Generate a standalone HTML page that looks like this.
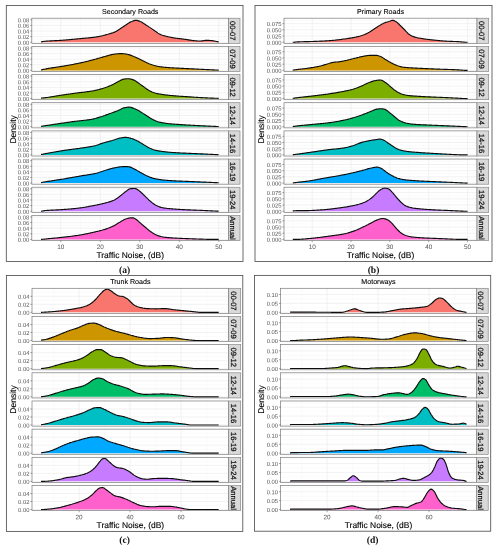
<!DOCTYPE html>
<html lang="en"><head><meta charset="utf-8"><title>Traffic noise density by road type</title>
<style>html,body{margin:0;padding:0;background:#fff}svg{display:block;text-rendering:geometricPrecision}</style></head>
<body>
<svg width="499" height="550" viewBox="0 0 499 550">
<rect width="499" height="550" fill="#fff"/>
<g id="panel-a">
<rect x="6.3" y="5.5" width="236.7" height="256" fill="#fff" stroke="#505050" stroke-width="0.85"/>
<text x="130.2" y="13.8" font-size="7.1" text-anchor="middle" font-family="Liberation Sans, Arial, sans-serif" fill="#000" stroke="#000" stroke-width="0.1">Secondary Roads</text>
<g class="facet">
<rect x="31.8" y="18.2" width="196.8" height="25.15" fill="#fff"/>
<path d="M41.05 18.2V43.35M80.55 18.2V43.35M120.05 18.2V43.35M159.55 18.2V43.35M199.05 18.2V43.35M31.8 39.41H228.6M31.8 33.81H228.6M31.8 28.21H228.6M31.8 22.61H228.6" stroke="#f0f0f0" stroke-width="0.3" fill="none"/>
<path d="M60.8 18.2V43.35M100.3 18.2V43.35M139.8 18.2V43.35M179.3 18.2V43.35M218.8 18.2V43.35M31.8 42.21H228.6M31.8 36.61H228.6M31.8 31.01H228.6M31.8 25.41H228.6M31.8 19.81H228.6" stroke="#e8e8e8" stroke-width="0.55" fill="none"/>
<path d="M41 41.9L41.8 41.77L42.5 41.64L43.3 41.51L44 41.4L44.8 41.3L45.5 41.23L46.3 41.16L47 41.1L47.8 41.05L48.5 41L49.3 40.95L50 40.91L50.8 40.87L51.5 40.83L52.3 40.79L53 40.76L53.8 40.72L54.5 40.69L55.3 40.66L56 40.62L56.8 40.59L57.5 40.55L58.3 40.51L59 40.47L59.8 40.42L60.5 40.38L61.3 40.32L62 40.27L62.8 40.22L63.5 40.16L64.3 40.1L65 40.04L65.8 39.98L66.5 39.91L67.3 39.85L68 39.78L68.8 39.72L69.5 39.65L70.3 39.58L71 39.51L71.8 39.44L72.5 39.37L73.3 39.3L74 39.23L74.8 39.16L75.5 39.09L76.3 39.01L77 38.94L77.8 38.87L78.5 38.8L79.3 38.73L80 38.65L80.8 38.58L81.5 38.51L82.3 38.44L83 38.38L83.8 38.31L84.5 38.24L85.3 38.17L86 38.1L86.8 38.04L87.5 37.96L88.3 37.89L89 37.82L89.8 37.74L90.5 37.66L91.3 37.58L92 37.5L92.8 37.41L93.5 37.32L94.3 37.22L95 37.12L95.8 37.01L96.5 36.89L97.3 36.77L98 36.64L98.8 36.51L99.5 36.37L100.3 36.22L101 36.06L101.8 35.89L102.5 35.71L103.3 35.51L104 35.3L104.8 35.09L105.5 34.88L106.3 34.66L107 34.44L107.8 34.23L108.5 34.02L109.3 33.81L110 33.6L110.8 33.39L111.5 33.16L112.3 32.93L113 32.68L113.8 32.41L114.5 32.12L115.3 31.8L116 31.42L116.8 31L117.5 30.54L118.3 30.06L119 29.56L119.8 29.07L120.5 28.58L121.3 28.09L122 27.58L122.8 27.05L123.5 26.53L124.3 26.01L125 25.5L125.8 25L126.5 24.51L127.3 24.01L128 23.51L128.8 23.02L129.5 22.55L130.3 22.13L131 21.77L131.8 21.47L132.5 21.17L133.3 20.89L134 20.63L134.8 20.43L135.5 20.32L136.3 20.3L137 20.4L137.8 20.59L138.5 20.84L139.3 21.14L140 21.45L140.8 21.75L141.5 22.1L142.3 22.51L143 22.95L143.8 23.42L144.5 23.91L145.3 24.42L146 24.92L146.8 25.41L147.5 25.89L148.3 26.37L149 26.87L149.8 27.37L150.5 27.87L151.3 28.38L152 28.89L152.8 29.4L153.5 29.9L154.3 30.41L155 30.96L155.8 31.52L156.5 32.08L157.3 32.63L158 33.15L158.8 33.63L159.5 34.05L160.3 34.4L161 34.7L161.8 34.97L162.5 35.22L163.3 35.45L164 35.66L164.8 35.86L165.5 36.05L166.3 36.24L167 36.42L167.8 36.6L168.5 36.77L169.3 36.94L170 37.1L170.8 37.26L171.5 37.41L172.3 37.56L173 37.7L173.8 37.83L174.5 37.96L175.3 38.08L176 38.2L176.8 38.3L177.5 38.4L178.3 38.5L179 38.59L179.8 38.68L180.5 38.77L181.3 38.85L182 38.94L182.8 39.03L183.5 39.12L184.3 39.22L185 39.32L185.8 39.43L186.5 39.55L187.3 39.68L188 39.81L188.8 39.94L189.5 40.06L190.3 40.18L191 40.29L191.8 40.4L192.5 40.49L193.3 40.57L194 40.64L194.8 40.71L195.5 40.77L196.3 40.84L197 40.9L197.8 40.95L198.5 40.98L199.3 41.01L200 41.01L200.8 40.99L201.5 40.92L202.3 40.83L203 40.72L203.8 40.61L204.5 40.5L205.3 40.42L206 40.37L206.8 40.35L207.5 40.37L208.3 40.4L209 40.44L209.8 40.49L210.5 40.54L211.3 40.6L212 40.68L212.8 40.79L213.5 40.91L214.3 41.04L215 41.17L215.8 41.3L216.5 41.44L217.3 41.59L218 41.75L218.7 41.9L218.69 42.21L41.02 42.21Z" fill="#F8766D"/>
<path d="M41 41.9L41.8 41.77L42.5 41.64L43.3 41.51L44 41.4L44.8 41.3L45.5 41.23L46.3 41.16L47 41.1L47.8 41.05L48.5 41L49.3 40.95L50 40.91L50.8 40.87L51.5 40.83L52.3 40.79L53 40.76L53.8 40.72L54.5 40.69L55.3 40.66L56 40.62L56.8 40.59L57.5 40.55L58.3 40.51L59 40.47L59.8 40.42L60.5 40.38L61.3 40.32L62 40.27L62.8 40.22L63.5 40.16L64.3 40.1L65 40.04L65.8 39.98L66.5 39.91L67.3 39.85L68 39.78L68.8 39.72L69.5 39.65L70.3 39.58L71 39.51L71.8 39.44L72.5 39.37L73.3 39.3L74 39.23L74.8 39.16L75.5 39.09L76.3 39.01L77 38.94L77.8 38.87L78.5 38.8L79.3 38.73L80 38.65L80.8 38.58L81.5 38.51L82.3 38.44L83 38.38L83.8 38.31L84.5 38.24L85.3 38.17L86 38.1L86.8 38.04L87.5 37.96L88.3 37.89L89 37.82L89.8 37.74L90.5 37.66L91.3 37.58L92 37.5L92.8 37.41L93.5 37.32L94.3 37.22L95 37.12L95.8 37.01L96.5 36.89L97.3 36.77L98 36.64L98.8 36.51L99.5 36.37L100.3 36.22L101 36.06L101.8 35.89L102.5 35.71L103.3 35.51L104 35.3L104.8 35.09L105.5 34.88L106.3 34.66L107 34.44L107.8 34.23L108.5 34.02L109.3 33.81L110 33.6L110.8 33.39L111.5 33.16L112.3 32.93L113 32.68L113.8 32.41L114.5 32.12L115.3 31.8L116 31.42L116.8 31L117.5 30.54L118.3 30.06L119 29.56L119.8 29.07L120.5 28.58L121.3 28.09L122 27.58L122.8 27.05L123.5 26.53L124.3 26.01L125 25.5L125.8 25L126.5 24.51L127.3 24.01L128 23.51L128.8 23.02L129.5 22.55L130.3 22.13L131 21.77L131.8 21.47L132.5 21.17L133.3 20.89L134 20.63L134.8 20.43L135.5 20.32L136.3 20.3L137 20.4L137.8 20.59L138.5 20.84L139.3 21.14L140 21.45L140.8 21.75L141.5 22.1L142.3 22.51L143 22.95L143.8 23.42L144.5 23.91L145.3 24.42L146 24.92L146.8 25.41L147.5 25.89L148.3 26.37L149 26.87L149.8 27.37L150.5 27.87L151.3 28.38L152 28.89L152.8 29.4L153.5 29.9L154.3 30.41L155 30.96L155.8 31.52L156.5 32.08L157.3 32.63L158 33.15L158.8 33.63L159.5 34.05L160.3 34.4L161 34.7L161.8 34.97L162.5 35.22L163.3 35.45L164 35.66L164.8 35.86L165.5 36.05L166.3 36.24L167 36.42L167.8 36.6L168.5 36.77L169.3 36.94L170 37.1L170.8 37.26L171.5 37.41L172.3 37.56L173 37.7L173.8 37.83L174.5 37.96L175.3 38.08L176 38.2L176.8 38.3L177.5 38.4L178.3 38.5L179 38.59L179.8 38.68L180.5 38.77L181.3 38.85L182 38.94L182.8 39.03L183.5 39.12L184.3 39.22L185 39.32L185.8 39.43L186.5 39.55L187.3 39.68L188 39.81L188.8 39.94L189.5 40.06L190.3 40.18L191 40.29L191.8 40.4L192.5 40.49L193.3 40.57L194 40.64L194.8 40.71L195.5 40.77L196.3 40.84L197 40.9L197.8 40.95L198.5 40.98L199.3 41.01L200 41.01L200.8 40.99L201.5 40.92L202.3 40.83L203 40.72L203.8 40.61L204.5 40.5L205.3 40.42L206 40.37L206.8 40.35L207.5 40.37L208.3 40.4L209 40.44L209.8 40.49L210.5 40.54L211.3 40.6L212 40.68L212.8 40.79L213.5 40.91L214.3 41.04L215 41.17L215.8 41.3L216.5 41.44L217.3 41.59L218 41.75L218.7 41.9" fill="none" stroke="#0d0d0d" stroke-width="1.15" stroke-linejoin="round"/>
<rect x="31.8" y="18.2" width="196.8" height="25.15" fill="none" stroke="#7a7a7a" stroke-width="0.7"/>
<rect x="228.6" y="18.2" width="11.4" height="25.15" fill="#d9d9d9" stroke="#808080" stroke-width="0.65"/>
<text transform="translate(230.4 30.77) rotate(90)" font-size="7.6" text-anchor="middle" font-family="Liberation Sans, Arial, sans-serif" fill="#0a0a0a" stroke="#0a0a0a" stroke-width="0.2">00-07</text>
<text transform="translate(29.2 44.66) rotate(0.03)" font-size="5.85" text-anchor="end" font-family="Liberation Sans, Arial, sans-serif" fill="#555">0.00</text>
<text transform="translate(29.2 39.06) rotate(0.03)" font-size="5.85" text-anchor="end" font-family="Liberation Sans, Arial, sans-serif" fill="#555">0.02</text>
<text transform="translate(29.2 33.46) rotate(0.03)" font-size="5.85" text-anchor="end" font-family="Liberation Sans, Arial, sans-serif" fill="#555">0.04</text>
<text transform="translate(29.2 27.86) rotate(0.03)" font-size="5.85" text-anchor="end" font-family="Liberation Sans, Arial, sans-serif" fill="#555">0.06</text>
<text transform="translate(29.2 22.26) rotate(0.03)" font-size="5.85" text-anchor="end" font-family="Liberation Sans, Arial, sans-serif" fill="#555">0.08</text>
<path d="M30.2 42.21H31.8M30.2 36.61H31.8M30.2 31.01H31.8M30.2 25.41H31.8M30.2 19.81H31.8" stroke="#4d4d4d" stroke-width="0.5" fill="none"/>
</g>
<g class="facet">
<rect x="31.8" y="46.37" width="196.8" height="25.15" fill="#fff"/>
<path d="M41.05 46.37V71.52M80.55 46.37V71.52M120.05 46.37V71.52M159.55 46.37V71.52M199.05 46.37V71.52M31.8 67.58H228.6M31.8 61.98H228.6M31.8 56.38H228.6M31.8 50.78H228.6" stroke="#f0f0f0" stroke-width="0.3" fill="none"/>
<path d="M60.8 46.37V71.52M100.3 46.37V71.52M139.8 46.37V71.52M179.3 46.37V71.52M218.8 46.37V71.52M31.8 70.38H228.6M31.8 64.78H228.6M31.8 59.18H228.6M31.8 53.58H228.6M31.8 47.98H228.6" stroke="#e8e8e8" stroke-width="0.55" fill="none"/>
<path d="M41 69.89L41.8 69.74L42.5 69.58L43.3 69.42L44 69.27L44.8 69.12L45.5 68.97L46.3 68.82L47 68.68L47.8 68.55L48.5 68.42L49.3 68.29L50 68.16L50.8 68.04L51.5 67.92L52.3 67.81L53 67.69L53.8 67.58L54.5 67.47L55.3 67.35L56 67.24L56.8 67.13L57.5 67.02L58.3 66.91L59 66.79L59.8 66.68L60.5 66.56L61.3 66.44L62 66.32L62.8 66.2L63.5 66.07L64.3 65.94L65 65.81L65.8 65.68L66.5 65.55L67.3 65.42L68 65.29L68.8 65.16L69.5 65.02L70.3 64.89L71 64.75L71.8 64.61L72.5 64.47L73.3 64.33L74 64.19L74.8 64.05L75.5 63.9L76.3 63.75L77 63.61L77.8 63.45L78.5 63.3L79.3 63.14L80 62.99L80.8 62.82L81.5 62.66L82.3 62.49L83 62.32L83.8 62.14L84.5 61.96L85.3 61.78L86 61.59L86.8 61.41L87.5 61.21L88.3 61.02L89 60.83L89.8 60.63L90.5 60.43L91.3 60.24L92 60.04L92.8 59.84L93.5 59.64L94.3 59.44L95 59.24L95.8 59.03L96.5 58.82L97.3 58.61L98 58.4L98.8 58.18L99.5 57.97L100.3 57.75L101 57.53L101.8 57.32L102.5 57.11L103.3 56.9L104 56.7L104.8 56.49L105.5 56.29L106.3 56.08L107 55.87L107.8 55.65L108.5 55.43L109.3 55.22L110 55.01L110.8 54.82L111.5 54.64L112.3 54.49L113 54.35L113.8 54.24L114.5 54.15L115.3 54.05L116 53.96L116.8 53.88L117.5 53.8L118.3 53.73L119 53.67L119.8 53.63L120.5 53.6L121.3 53.58L122 53.59L122.8 53.63L123.5 53.7L124.3 53.8L125 53.91L125.8 54.03L126.5 54.16L127.3 54.29L128 54.45L128.8 54.64L129.5 54.85L130.3 55.09L131 55.35L131.8 55.63L132.5 55.93L133.3 56.24L134 56.56L134.8 56.89L135.5 57.23L136.3 57.56L137 57.9L137.8 58.23L138.5 58.56L139.3 58.91L140 59.28L140.8 59.66L141.5 60.05L142.3 60.45L143 60.84L143.8 61.22L144.5 61.59L145.3 61.94L146 62.29L146.8 62.65L147.5 63L148.3 63.34L149 63.67L149.8 63.98L150.5 64.27L151.3 64.54L152 64.79L152.8 65.03L153.5 65.26L154.3 65.48L155 65.69L155.8 65.88L156.5 66.06L157.3 66.22L158 66.36L158.8 66.49L159.5 66.61L160.3 66.72L161 66.83L161.8 66.93L162.5 67.02L163.3 67.11L164 67.2L164.8 67.28L165.5 67.35L166.3 67.42L167 67.48L167.8 67.54L168.5 67.59L169.3 67.65L170 67.7L170.8 67.74L171.5 67.79L172.3 67.83L173 67.87L173.8 67.91L174.5 67.95L175.3 67.99L176 68.03L176.8 68.07L177.5 68.11L178.3 68.15L179 68.19L179.8 68.23L180.5 68.27L181.3 68.31L182 68.35L182.8 68.38L183.5 68.42L184.3 68.46L185 68.49L185.8 68.53L186.5 68.57L187.3 68.6L188 68.64L188.8 68.68L189.5 68.71L190.3 68.75L191 68.79L191.8 68.82L192.5 68.86L193.3 68.9L194 68.94L194.8 68.98L195.5 69.01L196.3 69.05L197 69.09L197.8 69.13L198.5 69.16L199.3 69.2L200 69.24L200.8 69.28L201.5 69.31L202.3 69.35L203 69.39L203.8 69.42L204.5 69.46L205.3 69.5L206 69.53L206.8 69.57L207.5 69.6L208.3 69.64L209 69.67L209.8 69.71L210.5 69.74L211.3 69.78L212 69.81L212.8 69.85L213.5 69.88L214.3 69.92L215 69.95L215.8 69.98L216.5 70.02L217.3 70.05L218 70.08L218.7 70.11L218.69 70.38L41.02 70.38Z" fill="#CD9600"/>
<path d="M41 69.89L41.8 69.74L42.5 69.58L43.3 69.42L44 69.27L44.8 69.12L45.5 68.97L46.3 68.82L47 68.68L47.8 68.55L48.5 68.42L49.3 68.29L50 68.16L50.8 68.04L51.5 67.92L52.3 67.81L53 67.69L53.8 67.58L54.5 67.47L55.3 67.35L56 67.24L56.8 67.13L57.5 67.02L58.3 66.91L59 66.79L59.8 66.68L60.5 66.56L61.3 66.44L62 66.32L62.8 66.2L63.5 66.07L64.3 65.94L65 65.81L65.8 65.68L66.5 65.55L67.3 65.42L68 65.29L68.8 65.16L69.5 65.02L70.3 64.89L71 64.75L71.8 64.61L72.5 64.47L73.3 64.33L74 64.19L74.8 64.05L75.5 63.9L76.3 63.75L77 63.61L77.8 63.45L78.5 63.3L79.3 63.14L80 62.99L80.8 62.82L81.5 62.66L82.3 62.49L83 62.32L83.8 62.14L84.5 61.96L85.3 61.78L86 61.59L86.8 61.41L87.5 61.21L88.3 61.02L89 60.83L89.8 60.63L90.5 60.43L91.3 60.24L92 60.04L92.8 59.84L93.5 59.64L94.3 59.44L95 59.24L95.8 59.03L96.5 58.82L97.3 58.61L98 58.4L98.8 58.18L99.5 57.97L100.3 57.75L101 57.53L101.8 57.32L102.5 57.11L103.3 56.9L104 56.7L104.8 56.49L105.5 56.29L106.3 56.08L107 55.87L107.8 55.65L108.5 55.43L109.3 55.22L110 55.01L110.8 54.82L111.5 54.64L112.3 54.49L113 54.35L113.8 54.24L114.5 54.15L115.3 54.05L116 53.96L116.8 53.88L117.5 53.8L118.3 53.73L119 53.67L119.8 53.63L120.5 53.6L121.3 53.58L122 53.59L122.8 53.63L123.5 53.7L124.3 53.8L125 53.91L125.8 54.03L126.5 54.16L127.3 54.29L128 54.45L128.8 54.64L129.5 54.85L130.3 55.09L131 55.35L131.8 55.63L132.5 55.93L133.3 56.24L134 56.56L134.8 56.89L135.5 57.23L136.3 57.56L137 57.9L137.8 58.23L138.5 58.56L139.3 58.91L140 59.28L140.8 59.66L141.5 60.05L142.3 60.45L143 60.84L143.8 61.22L144.5 61.59L145.3 61.94L146 62.29L146.8 62.65L147.5 63L148.3 63.34L149 63.67L149.8 63.98L150.5 64.27L151.3 64.54L152 64.79L152.8 65.03L153.5 65.26L154.3 65.48L155 65.69L155.8 65.88L156.5 66.06L157.3 66.22L158 66.36L158.8 66.49L159.5 66.61L160.3 66.72L161 66.83L161.8 66.93L162.5 67.02L163.3 67.11L164 67.2L164.8 67.28L165.5 67.35L166.3 67.42L167 67.48L167.8 67.54L168.5 67.59L169.3 67.65L170 67.7L170.8 67.74L171.5 67.79L172.3 67.83L173 67.87L173.8 67.91L174.5 67.95L175.3 67.99L176 68.03L176.8 68.07L177.5 68.11L178.3 68.15L179 68.19L179.8 68.23L180.5 68.27L181.3 68.31L182 68.35L182.8 68.38L183.5 68.42L184.3 68.46L185 68.49L185.8 68.53L186.5 68.57L187.3 68.6L188 68.64L188.8 68.68L189.5 68.71L190.3 68.75L191 68.79L191.8 68.82L192.5 68.86L193.3 68.9L194 68.94L194.8 68.98L195.5 69.01L196.3 69.05L197 69.09L197.8 69.13L198.5 69.16L199.3 69.2L200 69.24L200.8 69.28L201.5 69.31L202.3 69.35L203 69.39L203.8 69.42L204.5 69.46L205.3 69.5L206 69.53L206.8 69.57L207.5 69.6L208.3 69.64L209 69.67L209.8 69.71L210.5 69.74L211.3 69.78L212 69.81L212.8 69.85L213.5 69.88L214.3 69.92L215 69.95L215.8 69.98L216.5 70.02L217.3 70.05L218 70.08L218.7 70.11" fill="none" stroke="#0d0d0d" stroke-width="1.15" stroke-linejoin="round"/>
<rect x="31.8" y="46.37" width="196.8" height="25.15" fill="none" stroke="#7a7a7a" stroke-width="0.7"/>
<rect x="228.6" y="46.37" width="11.4" height="25.15" fill="#d9d9d9" stroke="#808080" stroke-width="0.65"/>
<text transform="translate(230.4 58.95) rotate(90)" font-size="7.6" text-anchor="middle" font-family="Liberation Sans, Arial, sans-serif" fill="#0a0a0a" stroke="#0a0a0a" stroke-width="0.2">07-09</text>
<text transform="translate(29.2 72.83) rotate(0.03)" font-size="5.85" text-anchor="end" font-family="Liberation Sans, Arial, sans-serif" fill="#555">0.00</text>
<text transform="translate(29.2 67.23) rotate(0.03)" font-size="5.85" text-anchor="end" font-family="Liberation Sans, Arial, sans-serif" fill="#555">0.02</text>
<text transform="translate(29.2 61.63) rotate(0.03)" font-size="5.85" text-anchor="end" font-family="Liberation Sans, Arial, sans-serif" fill="#555">0.04</text>
<text transform="translate(29.2 56.03) rotate(0.03)" font-size="5.85" text-anchor="end" font-family="Liberation Sans, Arial, sans-serif" fill="#555">0.06</text>
<text transform="translate(29.2 50.43) rotate(0.03)" font-size="5.85" text-anchor="end" font-family="Liberation Sans, Arial, sans-serif" fill="#555">0.08</text>
<path d="M30.2 70.38H31.8M30.2 64.78H31.8M30.2 59.18H31.8M30.2 53.58H31.8M30.2 47.98H31.8" stroke="#4d4d4d" stroke-width="0.5" fill="none"/>
</g>
<g class="facet">
<rect x="31.8" y="74.54" width="196.8" height="25.15" fill="#fff"/>
<path d="M41.05 74.54V99.69M80.55 74.54V99.69M120.05 74.54V99.69M159.55 74.54V99.69M199.05 74.54V99.69M31.8 95.75H228.6M31.8 90.15H228.6M31.8 84.55H228.6M31.8 78.95H228.6" stroke="#f0f0f0" stroke-width="0.3" fill="none"/>
<path d="M60.8 74.54V99.69M100.3 74.54V99.69M139.8 74.54V99.69M179.3 74.54V99.69M218.8 74.54V99.69M31.8 98.55H228.6M31.8 92.95H228.6M31.8 87.35H228.6M31.8 81.75H228.6M31.8 76.15H228.6" stroke="#e8e8e8" stroke-width="0.55" fill="none"/>
<path d="M41 98.11L41.8 98.05L42.5 97.98L43.3 97.9L44 97.83L44.8 97.75L45.5 97.66L46.3 97.57L47 97.47L47.8 97.37L48.5 97.26L49.3 97.15L50 97.03L50.8 96.91L51.5 96.79L52.3 96.67L53 96.54L53.8 96.42L54.5 96.29L55.3 96.16L56 96.03L56.8 95.9L57.5 95.78L58.3 95.66L59 95.53L59.8 95.41L60.5 95.3L61.3 95.19L62 95.07L62.8 94.96L63.5 94.85L64.3 94.74L65 94.63L65.8 94.52L66.5 94.41L67.3 94.3L68 94.2L68.8 94.09L69.5 93.98L70.3 93.88L71 93.77L71.8 93.67L72.5 93.56L73.3 93.46L74 93.35L74.8 93.25L75.5 93.15L76.3 93.05L77 92.95L77.8 92.85L78.5 92.76L79.3 92.67L80 92.58L80.8 92.49L81.5 92.4L82.3 92.32L83 92.23L83.8 92.15L84.5 92.06L85.3 91.97L86 91.88L86.8 91.78L87.5 91.69L88.3 91.59L89 91.48L89.8 91.37L90.5 91.26L91.3 91.13L92 91.01L92.8 90.87L93.5 90.73L94.3 90.58L95 90.42L95.8 90.25L96.5 90.08L97.3 89.9L98 89.71L98.8 89.52L99.5 89.32L100.3 89.12L101 88.91L101.8 88.7L102.5 88.48L103.3 88.26L104 88.02L104.8 87.78L105.5 87.52L106.3 87.25L107 86.98L107.8 86.69L108.5 86.39L109.3 86.09L110 85.78L110.8 85.46L111.5 85.13L112.3 84.78L113 84.4L113.8 83.99L114.5 83.57L115.3 83.15L116 82.72L116.8 82.31L117.5 81.91L118.3 81.54L119 81.15L119.8 80.75L120.5 80.36L121.3 79.98L122 79.65L122.8 79.37L123.5 79.18L124.3 79.06L125 78.95L125.8 78.86L126.5 78.78L127.3 78.73L128 78.71L128.8 78.74L129.5 78.82L130.3 78.96L131 79.14L131.8 79.35L132.5 79.59L133.3 79.85L134 80.11L134.8 80.48L135.5 80.94L136.3 81.47L137 82.03L137.8 82.58L138.5 83.1L139.3 83.62L140 84.14L140.8 84.67L141.5 85.2L142.3 85.73L143 86.26L143.8 86.81L144.5 87.38L145.3 87.95L146 88.52L146.8 89.07L147.5 89.59L148.3 90.07L149 90.5L149.8 90.88L150.5 91.25L151.3 91.6L152 91.93L152.8 92.24L153.5 92.53L154.3 92.8L155 93.03L155.8 93.24L156.5 93.42L157.3 93.59L158 93.75L158.8 93.9L159.5 94.04L160.3 94.17L161 94.29L161.8 94.4L162.5 94.51L163.3 94.62L164 94.72L164.8 94.82L165.5 94.91L166.3 95L167 95.09L167.8 95.17L168.5 95.25L169.3 95.33L170 95.41L170.8 95.48L171.5 95.55L172.3 95.62L173 95.68L173.8 95.75L174.5 95.81L175.3 95.87L176 95.93L176.8 95.99L177.5 96.05L178.3 96.1L179 96.16L179.8 96.21L180.5 96.26L181.3 96.31L182 96.35L182.8 96.4L183.5 96.45L184.3 96.49L185 96.54L185.8 96.59L186.5 96.63L187.3 96.68L188 96.73L188.8 96.78L189.5 96.83L190.3 96.88L191 96.93L191.8 96.99L192.5 97.04L193.3 97.09L194 97.15L194.8 97.2L195.5 97.26L196.3 97.31L197 97.36L197.8 97.41L198.5 97.46L199.3 97.51L200 97.55L200.8 97.6L201.5 97.64L202.3 97.68L203 97.72L203.8 97.75L204.5 97.79L205.3 97.82L206 97.86L206.8 97.9L207.5 97.93L208.3 97.96L209 98L209.8 98.03L210.5 98.06L211.3 98.09L212 98.12L212.8 98.15L213.5 98.17L214.3 98.2L215 98.23L215.8 98.25L216.5 98.27L217.3 98.3L218 98.32L218.7 98.33L218.69 98.55L41.02 98.55Z" fill="#7CAE00"/>
<path d="M41 98.11L41.8 98.05L42.5 97.98L43.3 97.9L44 97.83L44.8 97.75L45.5 97.66L46.3 97.57L47 97.47L47.8 97.37L48.5 97.26L49.3 97.15L50 97.03L50.8 96.91L51.5 96.79L52.3 96.67L53 96.54L53.8 96.42L54.5 96.29L55.3 96.16L56 96.03L56.8 95.9L57.5 95.78L58.3 95.66L59 95.53L59.8 95.41L60.5 95.3L61.3 95.19L62 95.07L62.8 94.96L63.5 94.85L64.3 94.74L65 94.63L65.8 94.52L66.5 94.41L67.3 94.3L68 94.2L68.8 94.09L69.5 93.98L70.3 93.88L71 93.77L71.8 93.67L72.5 93.56L73.3 93.46L74 93.35L74.8 93.25L75.5 93.15L76.3 93.05L77 92.95L77.8 92.85L78.5 92.76L79.3 92.67L80 92.58L80.8 92.49L81.5 92.4L82.3 92.32L83 92.23L83.8 92.15L84.5 92.06L85.3 91.97L86 91.88L86.8 91.78L87.5 91.69L88.3 91.59L89 91.48L89.8 91.37L90.5 91.26L91.3 91.13L92 91.01L92.8 90.87L93.5 90.73L94.3 90.58L95 90.42L95.8 90.25L96.5 90.08L97.3 89.9L98 89.71L98.8 89.52L99.5 89.32L100.3 89.12L101 88.91L101.8 88.7L102.5 88.48L103.3 88.26L104 88.02L104.8 87.78L105.5 87.52L106.3 87.25L107 86.98L107.8 86.69L108.5 86.39L109.3 86.09L110 85.78L110.8 85.46L111.5 85.13L112.3 84.78L113 84.4L113.8 83.99L114.5 83.57L115.3 83.15L116 82.72L116.8 82.31L117.5 81.91L118.3 81.54L119 81.15L119.8 80.75L120.5 80.36L121.3 79.98L122 79.65L122.8 79.37L123.5 79.18L124.3 79.06L125 78.95L125.8 78.86L126.5 78.78L127.3 78.73L128 78.71L128.8 78.74L129.5 78.82L130.3 78.96L131 79.14L131.8 79.35L132.5 79.59L133.3 79.85L134 80.11L134.8 80.48L135.5 80.94L136.3 81.47L137 82.03L137.8 82.58L138.5 83.1L139.3 83.62L140 84.14L140.8 84.67L141.5 85.2L142.3 85.73L143 86.26L143.8 86.81L144.5 87.38L145.3 87.95L146 88.52L146.8 89.07L147.5 89.59L148.3 90.07L149 90.5L149.8 90.88L150.5 91.25L151.3 91.6L152 91.93L152.8 92.24L153.5 92.53L154.3 92.8L155 93.03L155.8 93.24L156.5 93.42L157.3 93.59L158 93.75L158.8 93.9L159.5 94.04L160.3 94.17L161 94.29L161.8 94.4L162.5 94.51L163.3 94.62L164 94.72L164.8 94.82L165.5 94.91L166.3 95L167 95.09L167.8 95.17L168.5 95.25L169.3 95.33L170 95.41L170.8 95.48L171.5 95.55L172.3 95.62L173 95.68L173.8 95.75L174.5 95.81L175.3 95.87L176 95.93L176.8 95.99L177.5 96.05L178.3 96.1L179 96.16L179.8 96.21L180.5 96.26L181.3 96.31L182 96.35L182.8 96.4L183.5 96.45L184.3 96.49L185 96.54L185.8 96.59L186.5 96.63L187.3 96.68L188 96.73L188.8 96.78L189.5 96.83L190.3 96.88L191 96.93L191.8 96.99L192.5 97.04L193.3 97.09L194 97.15L194.8 97.2L195.5 97.26L196.3 97.31L197 97.36L197.8 97.41L198.5 97.46L199.3 97.51L200 97.55L200.8 97.6L201.5 97.64L202.3 97.68L203 97.72L203.8 97.75L204.5 97.79L205.3 97.82L206 97.86L206.8 97.9L207.5 97.93L208.3 97.96L209 98L209.8 98.03L210.5 98.06L211.3 98.09L212 98.12L212.8 98.15L213.5 98.17L214.3 98.2L215 98.23L215.8 98.25L216.5 98.27L217.3 98.3L218 98.32L218.7 98.33" fill="none" stroke="#0d0d0d" stroke-width="1.15" stroke-linejoin="round"/>
<rect x="31.8" y="74.54" width="196.8" height="25.15" fill="none" stroke="#7a7a7a" stroke-width="0.7"/>
<rect x="228.6" y="74.54" width="11.4" height="25.15" fill="#d9d9d9" stroke="#808080" stroke-width="0.65"/>
<text transform="translate(230.4 87.12) rotate(90)" font-size="7.6" text-anchor="middle" font-family="Liberation Sans, Arial, sans-serif" fill="#0a0a0a" stroke="#0a0a0a" stroke-width="0.2">09-12</text>
<text transform="translate(29.2 101) rotate(0.03)" font-size="5.85" text-anchor="end" font-family="Liberation Sans, Arial, sans-serif" fill="#555">0.00</text>
<text transform="translate(29.2 95.4) rotate(0.03)" font-size="5.85" text-anchor="end" font-family="Liberation Sans, Arial, sans-serif" fill="#555">0.02</text>
<text transform="translate(29.2 89.8) rotate(0.03)" font-size="5.85" text-anchor="end" font-family="Liberation Sans, Arial, sans-serif" fill="#555">0.04</text>
<text transform="translate(29.2 84.2) rotate(0.03)" font-size="5.85" text-anchor="end" font-family="Liberation Sans, Arial, sans-serif" fill="#555">0.06</text>
<text transform="translate(29.2 78.6) rotate(0.03)" font-size="5.85" text-anchor="end" font-family="Liberation Sans, Arial, sans-serif" fill="#555">0.08</text>
<path d="M30.2 98.55H31.8M30.2 92.95H31.8M30.2 87.35H31.8M30.2 81.75H31.8M30.2 76.15H31.8" stroke="#4d4d4d" stroke-width="0.5" fill="none"/>
</g>
<g class="facet">
<rect x="31.8" y="102.71" width="196.8" height="25.15" fill="#fff"/>
<path d="M41.05 102.71V127.86M80.55 102.71V127.86M120.05 102.71V127.86M159.55 102.71V127.86M199.05 102.71V127.86M31.8 123.92H228.6M31.8 118.32H228.6M31.8 112.72H228.6M31.8 107.12H228.6" stroke="#f0f0f0" stroke-width="0.3" fill="none"/>
<path d="M60.8 102.71V127.86M100.3 102.71V127.86M139.8 102.71V127.86M179.3 102.71V127.86M218.8 102.71V127.86M31.8 126.72H228.6M31.8 121.12H228.6M31.8 115.52H228.6M31.8 109.92H228.6M31.8 104.32H228.6" stroke="#e8e8e8" stroke-width="0.55" fill="none"/>
<path d="M41 126.33L41.8 126.22L42.5 126.11L43.3 125.99L44 125.88L44.8 125.77L45.5 125.66L46.3 125.54L47 125.43L47.8 125.32L48.5 125.2L49.3 125.09L50 124.98L50.8 124.86L51.5 124.75L52.3 124.64L53 124.52L53.8 124.41L54.5 124.3L55.3 124.19L56 124.08L56.8 123.96L57.5 123.85L58.3 123.74L59 123.63L59.8 123.52L60.5 123.41L61.3 123.3L62 123.19L62.8 123.08L63.5 122.97L64.3 122.86L65 122.75L65.8 122.65L66.5 122.54L67.3 122.43L68 122.32L68.8 122.22L69.5 122.11L70.3 122L71 121.9L71.8 121.8L72.5 121.69L73.3 121.59L74 121.49L74.8 121.39L75.5 121.3L76.3 121.21L77 121.12L77.8 121.03L78.5 120.95L79.3 120.87L80 120.79L80.8 120.71L81.5 120.63L82.3 120.55L83 120.47L83.8 120.38L84.5 120.3L85.3 120.21L86 120.12L86.8 120.03L87.5 119.93L88.3 119.83L89 119.72L89.8 119.6L90.5 119.48L91.3 119.36L92 119.22L92.8 119.07L93.5 118.9L94.3 118.72L95 118.52L95.8 118.31L96.5 118.09L97.3 117.87L98 117.64L98.8 117.4L99.5 117.17L100.3 116.94L101 116.7L101.8 116.46L102.5 116.21L103.3 115.96L104 115.7L104.8 115.43L105.5 115.16L106.3 114.89L107 114.62L107.8 114.35L108.5 114.07L109.3 113.8L110 113.53L110.8 113.26L111.5 112.98L112.3 112.71L113 112.44L113.8 112.16L114.5 111.88L115.3 111.6L116 111.31L116.8 111.02L117.5 110.72L118.3 110.42L119 110.09L119.8 109.72L120.5 109.33L121.3 108.93L122 108.56L122.8 108.21L123.5 107.92L124.3 107.7L125 107.56L125.8 107.45L126.5 107.34L127.3 107.26L128 107.19L128.8 107.16L129.5 107.16L130.3 107.24L131 107.39L131.8 107.6L132.5 107.87L133.3 108.16L134 108.48L134.8 108.82L135.5 109.14L136.3 109.46L137 109.81L137.8 110.2L138.5 110.62L139.3 111.07L140 111.52L140.8 111.98L141.5 112.44L142.3 112.89L143 113.37L143.8 113.85L144.5 114.34L145.3 114.84L146 115.32L146.8 115.8L147.5 116.27L148.3 116.75L149 117.24L149.8 117.72L150.5 118.2L151.3 118.66L152 119.1L152.8 119.5L153.5 119.88L154.3 120.22L155 120.55L155.8 120.87L156.5 121.17L157.3 121.46L158 121.73L158.8 121.97L159.5 122.18L160.3 122.36L161 122.52L161.8 122.67L162.5 122.8L163.3 122.93L164 123.05L164.8 123.16L165.5 123.26L166.3 123.36L167 123.45L167.8 123.54L168.5 123.63L169.3 123.71L170 123.78L170.8 123.85L171.5 123.92L172.3 123.99L173 124.05L173.8 124.11L174.5 124.17L175.3 124.23L176 124.29L176.8 124.34L177.5 124.39L178.3 124.44L179 124.49L179.8 124.54L180.5 124.6L181.3 124.64L182 124.69L182.8 124.74L183.5 124.79L184.3 124.83L185 124.88L185.8 124.92L186.5 124.96L187.3 125.01L188 125.05L188.8 125.09L189.5 125.13L190.3 125.17L191 125.21L191.8 125.25L192.5 125.29L193.3 125.33L194 125.37L194.8 125.41L195.5 125.45L196.3 125.49L197 125.53L197.8 125.57L198.5 125.6L199.3 125.64L200 125.68L200.8 125.72L201.5 125.76L202.3 125.79L203 125.83L203.8 125.87L204.5 125.9L205.3 125.94L206 125.98L206.8 126.01L207.5 126.05L208.3 126.09L209 126.12L209.8 126.16L210.5 126.19L211.3 126.23L212 126.26L212.8 126.29L213.5 126.33L214.3 126.36L215 126.39L215.8 126.43L216.5 126.46L217.3 126.49L218 126.52L218.7 126.55L218.69 126.72L41.02 126.72Z" fill="#00BE67"/>
<path d="M41 126.33L41.8 126.22L42.5 126.11L43.3 125.99L44 125.88L44.8 125.77L45.5 125.66L46.3 125.54L47 125.43L47.8 125.32L48.5 125.2L49.3 125.09L50 124.98L50.8 124.86L51.5 124.75L52.3 124.64L53 124.52L53.8 124.41L54.5 124.3L55.3 124.19L56 124.08L56.8 123.96L57.5 123.85L58.3 123.74L59 123.63L59.8 123.52L60.5 123.41L61.3 123.3L62 123.19L62.8 123.08L63.5 122.97L64.3 122.86L65 122.75L65.8 122.65L66.5 122.54L67.3 122.43L68 122.32L68.8 122.22L69.5 122.11L70.3 122L71 121.9L71.8 121.8L72.5 121.69L73.3 121.59L74 121.49L74.8 121.39L75.5 121.3L76.3 121.21L77 121.12L77.8 121.03L78.5 120.95L79.3 120.87L80 120.79L80.8 120.71L81.5 120.63L82.3 120.55L83 120.47L83.8 120.38L84.5 120.3L85.3 120.21L86 120.12L86.8 120.03L87.5 119.93L88.3 119.83L89 119.72L89.8 119.6L90.5 119.48L91.3 119.36L92 119.22L92.8 119.07L93.5 118.9L94.3 118.72L95 118.52L95.8 118.31L96.5 118.09L97.3 117.87L98 117.64L98.8 117.4L99.5 117.17L100.3 116.94L101 116.7L101.8 116.46L102.5 116.21L103.3 115.96L104 115.7L104.8 115.43L105.5 115.16L106.3 114.89L107 114.62L107.8 114.35L108.5 114.07L109.3 113.8L110 113.53L110.8 113.26L111.5 112.98L112.3 112.71L113 112.44L113.8 112.16L114.5 111.88L115.3 111.6L116 111.31L116.8 111.02L117.5 110.72L118.3 110.42L119 110.09L119.8 109.72L120.5 109.33L121.3 108.93L122 108.56L122.8 108.21L123.5 107.92L124.3 107.7L125 107.56L125.8 107.45L126.5 107.34L127.3 107.26L128 107.19L128.8 107.16L129.5 107.16L130.3 107.24L131 107.39L131.8 107.6L132.5 107.87L133.3 108.16L134 108.48L134.8 108.82L135.5 109.14L136.3 109.46L137 109.81L137.8 110.2L138.5 110.62L139.3 111.07L140 111.52L140.8 111.98L141.5 112.44L142.3 112.89L143 113.37L143.8 113.85L144.5 114.34L145.3 114.84L146 115.32L146.8 115.8L147.5 116.27L148.3 116.75L149 117.24L149.8 117.72L150.5 118.2L151.3 118.66L152 119.1L152.8 119.5L153.5 119.88L154.3 120.22L155 120.55L155.8 120.87L156.5 121.17L157.3 121.46L158 121.73L158.8 121.97L159.5 122.18L160.3 122.36L161 122.52L161.8 122.67L162.5 122.8L163.3 122.93L164 123.05L164.8 123.16L165.5 123.26L166.3 123.36L167 123.45L167.8 123.54L168.5 123.63L169.3 123.71L170 123.78L170.8 123.85L171.5 123.92L172.3 123.99L173 124.05L173.8 124.11L174.5 124.17L175.3 124.23L176 124.29L176.8 124.34L177.5 124.39L178.3 124.44L179 124.49L179.8 124.54L180.5 124.6L181.3 124.64L182 124.69L182.8 124.74L183.5 124.79L184.3 124.83L185 124.88L185.8 124.92L186.5 124.96L187.3 125.01L188 125.05L188.8 125.09L189.5 125.13L190.3 125.17L191 125.21L191.8 125.25L192.5 125.29L193.3 125.33L194 125.37L194.8 125.41L195.5 125.45L196.3 125.49L197 125.53L197.8 125.57L198.5 125.6L199.3 125.64L200 125.68L200.8 125.72L201.5 125.76L202.3 125.79L203 125.83L203.8 125.87L204.5 125.9L205.3 125.94L206 125.98L206.8 126.01L207.5 126.05L208.3 126.09L209 126.12L209.8 126.16L210.5 126.19L211.3 126.23L212 126.26L212.8 126.29L213.5 126.33L214.3 126.36L215 126.39L215.8 126.43L216.5 126.46L217.3 126.49L218 126.52L218.7 126.55" fill="none" stroke="#0d0d0d" stroke-width="1.15" stroke-linejoin="round"/>
<rect x="31.8" y="102.71" width="196.8" height="25.15" fill="none" stroke="#7a7a7a" stroke-width="0.7"/>
<rect x="228.6" y="102.71" width="11.4" height="25.15" fill="#d9d9d9" stroke="#808080" stroke-width="0.65"/>
<text transform="translate(230.4 115.29) rotate(90)" font-size="7.6" text-anchor="middle" font-family="Liberation Sans, Arial, sans-serif" fill="#0a0a0a" stroke="#0a0a0a" stroke-width="0.2">12-14</text>
<text transform="translate(29.2 129.17) rotate(0.03)" font-size="5.85" text-anchor="end" font-family="Liberation Sans, Arial, sans-serif" fill="#555">0.00</text>
<text transform="translate(29.2 123.57) rotate(0.03)" font-size="5.85" text-anchor="end" font-family="Liberation Sans, Arial, sans-serif" fill="#555">0.02</text>
<text transform="translate(29.2 117.97) rotate(0.03)" font-size="5.85" text-anchor="end" font-family="Liberation Sans, Arial, sans-serif" fill="#555">0.04</text>
<text transform="translate(29.2 112.37) rotate(0.03)" font-size="5.85" text-anchor="end" font-family="Liberation Sans, Arial, sans-serif" fill="#555">0.06</text>
<text transform="translate(29.2 106.77) rotate(0.03)" font-size="5.85" text-anchor="end" font-family="Liberation Sans, Arial, sans-serif" fill="#555">0.08</text>
<path d="M30.2 126.72H31.8M30.2 121.12H31.8M30.2 115.52H31.8M30.2 109.92H31.8M30.2 104.32H31.8" stroke="#4d4d4d" stroke-width="0.5" fill="none"/>
</g>
<g class="facet">
<rect x="31.8" y="130.88" width="196.8" height="25.15" fill="#fff"/>
<path d="M41.05 130.88V156.03M80.55 130.88V156.03M120.05 130.88V156.03M159.55 130.88V156.03M199.05 130.88V156.03M31.8 152.09H228.6M31.8 146.49H228.6M31.8 140.89H228.6M31.8 135.29H228.6" stroke="#f0f0f0" stroke-width="0.3" fill="none"/>
<path d="M60.8 130.88V156.03M100.3 130.88V156.03M139.8 130.88V156.03M179.3 130.88V156.03M218.8 130.88V156.03M31.8 154.89H228.6M31.8 149.29H228.6M31.8 143.69H228.6M31.8 138.09H228.6M31.8 132.49H228.6" stroke="#e8e8e8" stroke-width="0.55" fill="none"/>
<path d="M41 154.56L41.8 154.4L42.5 154.25L43.3 154.09L44 153.94L44.8 153.79L45.5 153.64L46.3 153.49L47 153.35L47.8 153.21L48.5 153.07L49.3 152.93L50 152.79L50.8 152.66L51.5 152.52L52.3 152.39L53 152.25L53.8 152.12L54.5 151.99L55.3 151.86L56 151.73L56.8 151.6L57.5 151.48L58.3 151.35L59 151.23L59.8 151.11L60.5 150.99L61.3 150.87L62 150.75L62.8 150.63L63.5 150.52L64.3 150.41L65 150.3L65.8 150.19L66.5 150.09L67.3 149.98L68 149.88L68.8 149.78L69.5 149.68L70.3 149.58L71 149.49L71.8 149.39L72.5 149.29L73.3 149.19L74 149.09L74.8 149L75.5 148.9L76.3 148.8L77 148.69L77.8 148.59L78.5 148.48L79.3 148.38L80 148.27L80.8 148.15L81.5 148.04L82.3 147.93L83 147.82L83.8 147.71L84.5 147.6L85.3 147.49L86 147.38L86.8 147.27L87.5 147.15L88.3 147.03L89 146.91L89.8 146.78L90.5 146.65L91.3 146.51L92 146.36L92.8 146.21L93.5 146.05L94.3 145.88L95 145.69L95.8 145.47L96.5 145.23L97.3 144.98L98 144.72L98.8 144.45L99.5 144.18L100.3 143.91L101 143.65L101.8 143.4L102.5 143.16L103.3 142.94L104 142.72L104.8 142.51L105.5 142.31L106.3 142.11L107 141.91L107.8 141.71L108.5 141.51L109.3 141.3L110 141.1L110.8 140.89L111.5 140.68L112.3 140.46L113 140.22L113.8 139.97L114.5 139.71L115.3 139.45L116 139.2L116.8 138.95L117.5 138.72L118.3 138.5L119 138.3L119.8 138.14L120.5 138L121.3 137.87L122 137.75L122.8 137.63L123.5 137.53L124.3 137.44L125 137.39L125.8 137.36L126.5 137.38L127.3 137.46L128 137.59L128.8 137.76L129.5 137.95L130.3 138.15L131 138.36L131.8 138.56L132.5 138.8L133.3 139.07L134 139.36L134.8 139.67L135.5 140L136.3 140.34L137 140.71L137.8 141.1L138.5 141.52L139.3 141.96L140 142.41L140.8 142.86L141.5 143.31L142.3 143.76L143 144.2L143.8 144.67L144.5 145.15L145.3 145.63L146 146.12L146.8 146.59L147.5 147.04L148.3 147.46L149 147.84L149.8 148.18L150.5 148.51L151.3 148.83L152 149.14L152.8 149.42L153.5 149.69L154.3 149.94L155 150.16L155.8 150.35L156.5 150.51L157.3 150.67L158 150.81L158.8 150.94L159.5 151.06L160.3 151.17L161 151.28L161.8 151.38L162.5 151.48L163.3 151.57L164 151.66L164.8 151.75L165.5 151.84L166.3 151.92L167 152L167.8 152.08L168.5 152.16L169.3 152.23L170 152.3L170.8 152.36L171.5 152.43L172.3 152.49L173 152.54L173.8 152.59L174.5 152.64L175.3 152.69L176 152.73L176.8 152.77L177.5 152.81L178.3 152.85L179 152.89L179.8 152.92L180.5 152.96L181.3 152.99L182 153.03L182.8 153.06L183.5 153.09L184.3 153.12L185 153.16L185.8 153.19L186.5 153.23L187.3 153.26L188 153.29L188.8 153.33L189.5 153.36L190.3 153.39L191 153.42L191.8 153.45L192.5 153.48L193.3 153.52L194 153.55L194.8 153.58L195.5 153.61L196.3 153.64L197 153.67L197.8 153.7L198.5 153.73L199.3 153.76L200 153.8L200.8 153.83L201.5 153.87L202.3 153.9L203 153.94L203.8 153.97L204.5 154.01L205.3 154.05L206 154.08L206.8 154.12L207.5 154.16L208.3 154.2L209 154.24L209.8 154.28L210.5 154.32L211.3 154.36L212 154.4L212.8 154.44L213.5 154.48L214.3 154.52L215 154.57L215.8 154.61L216.5 154.65L217.3 154.69L218 154.74L218.7 154.78L218.69 154.89L41.02 154.89Z" fill="#00BFC4"/>
<path d="M41 154.56L41.8 154.4L42.5 154.25L43.3 154.09L44 153.94L44.8 153.79L45.5 153.64L46.3 153.49L47 153.35L47.8 153.21L48.5 153.07L49.3 152.93L50 152.79L50.8 152.66L51.5 152.52L52.3 152.39L53 152.25L53.8 152.12L54.5 151.99L55.3 151.86L56 151.73L56.8 151.6L57.5 151.48L58.3 151.35L59 151.23L59.8 151.11L60.5 150.99L61.3 150.87L62 150.75L62.8 150.63L63.5 150.52L64.3 150.41L65 150.3L65.8 150.19L66.5 150.09L67.3 149.98L68 149.88L68.8 149.78L69.5 149.68L70.3 149.58L71 149.49L71.8 149.39L72.5 149.29L73.3 149.19L74 149.09L74.8 149L75.5 148.9L76.3 148.8L77 148.69L77.8 148.59L78.5 148.48L79.3 148.38L80 148.27L80.8 148.15L81.5 148.04L82.3 147.93L83 147.82L83.8 147.71L84.5 147.6L85.3 147.49L86 147.38L86.8 147.27L87.5 147.15L88.3 147.03L89 146.91L89.8 146.78L90.5 146.65L91.3 146.51L92 146.36L92.8 146.21L93.5 146.05L94.3 145.88L95 145.69L95.8 145.47L96.5 145.23L97.3 144.98L98 144.72L98.8 144.45L99.5 144.18L100.3 143.91L101 143.65L101.8 143.4L102.5 143.16L103.3 142.94L104 142.72L104.8 142.51L105.5 142.31L106.3 142.11L107 141.91L107.8 141.71L108.5 141.51L109.3 141.3L110 141.1L110.8 140.89L111.5 140.68L112.3 140.46L113 140.22L113.8 139.97L114.5 139.71L115.3 139.45L116 139.2L116.8 138.95L117.5 138.72L118.3 138.5L119 138.3L119.8 138.14L120.5 138L121.3 137.87L122 137.75L122.8 137.63L123.5 137.53L124.3 137.44L125 137.39L125.8 137.36L126.5 137.38L127.3 137.46L128 137.59L128.8 137.76L129.5 137.95L130.3 138.15L131 138.36L131.8 138.56L132.5 138.8L133.3 139.07L134 139.36L134.8 139.67L135.5 140L136.3 140.34L137 140.71L137.8 141.1L138.5 141.52L139.3 141.96L140 142.41L140.8 142.86L141.5 143.31L142.3 143.76L143 144.2L143.8 144.67L144.5 145.15L145.3 145.63L146 146.12L146.8 146.59L147.5 147.04L148.3 147.46L149 147.84L149.8 148.18L150.5 148.51L151.3 148.83L152 149.14L152.8 149.42L153.5 149.69L154.3 149.94L155 150.16L155.8 150.35L156.5 150.51L157.3 150.67L158 150.81L158.8 150.94L159.5 151.06L160.3 151.17L161 151.28L161.8 151.38L162.5 151.48L163.3 151.57L164 151.66L164.8 151.75L165.5 151.84L166.3 151.92L167 152L167.8 152.08L168.5 152.16L169.3 152.23L170 152.3L170.8 152.36L171.5 152.43L172.3 152.49L173 152.54L173.8 152.59L174.5 152.64L175.3 152.69L176 152.73L176.8 152.77L177.5 152.81L178.3 152.85L179 152.89L179.8 152.92L180.5 152.96L181.3 152.99L182 153.03L182.8 153.06L183.5 153.09L184.3 153.12L185 153.16L185.8 153.19L186.5 153.23L187.3 153.26L188 153.29L188.8 153.33L189.5 153.36L190.3 153.39L191 153.42L191.8 153.45L192.5 153.48L193.3 153.52L194 153.55L194.8 153.58L195.5 153.61L196.3 153.64L197 153.67L197.8 153.7L198.5 153.73L199.3 153.76L200 153.8L200.8 153.83L201.5 153.87L202.3 153.9L203 153.94L203.8 153.97L204.5 154.01L205.3 154.05L206 154.08L206.8 154.12L207.5 154.16L208.3 154.2L209 154.24L209.8 154.28L210.5 154.32L211.3 154.36L212 154.4L212.8 154.44L213.5 154.48L214.3 154.52L215 154.57L215.8 154.61L216.5 154.65L217.3 154.69L218 154.74L218.7 154.78" fill="none" stroke="#0d0d0d" stroke-width="1.15" stroke-linejoin="round"/>
<rect x="31.8" y="130.88" width="196.8" height="25.15" fill="none" stroke="#7a7a7a" stroke-width="0.7"/>
<rect x="228.6" y="130.88" width="11.4" height="25.15" fill="#d9d9d9" stroke="#808080" stroke-width="0.65"/>
<text transform="translate(230.4 143.45) rotate(90)" font-size="7.6" text-anchor="middle" font-family="Liberation Sans, Arial, sans-serif" fill="#0a0a0a" stroke="#0a0a0a" stroke-width="0.2">14-16</text>
<text transform="translate(29.2 157.34) rotate(0.03)" font-size="5.85" text-anchor="end" font-family="Liberation Sans, Arial, sans-serif" fill="#555">0.00</text>
<text transform="translate(29.2 151.74) rotate(0.03)" font-size="5.85" text-anchor="end" font-family="Liberation Sans, Arial, sans-serif" fill="#555">0.02</text>
<text transform="translate(29.2 146.14) rotate(0.03)" font-size="5.85" text-anchor="end" font-family="Liberation Sans, Arial, sans-serif" fill="#555">0.04</text>
<text transform="translate(29.2 140.54) rotate(0.03)" font-size="5.85" text-anchor="end" font-family="Liberation Sans, Arial, sans-serif" fill="#555">0.06</text>
<text transform="translate(29.2 134.94) rotate(0.03)" font-size="5.85" text-anchor="end" font-family="Liberation Sans, Arial, sans-serif" fill="#555">0.08</text>
<path d="M30.2 154.89H31.8M30.2 149.29H31.8M30.2 143.69H31.8M30.2 138.09H31.8M30.2 132.49H31.8" stroke="#4d4d4d" stroke-width="0.5" fill="none"/>
</g>
<g class="facet">
<rect x="31.8" y="159.05" width="196.8" height="25.15" fill="#fff"/>
<path d="M41.05 159.05V184.2M80.55 159.05V184.2M120.05 159.05V184.2M159.55 159.05V184.2M199.05 159.05V184.2M31.8 180.26H228.6M31.8 174.66H228.6M31.8 169.06H228.6M31.8 163.46H228.6" stroke="#f0f0f0" stroke-width="0.3" fill="none"/>
<path d="M60.8 159.05V184.2M100.3 159.05V184.2M139.8 159.05V184.2M179.3 159.05V184.2M218.8 159.05V184.2M31.8 183.06H228.6M31.8 177.46H228.6M31.8 171.86H228.6M31.8 166.26H228.6M31.8 160.66H228.6" stroke="#e8e8e8" stroke-width="0.55" fill="none"/>
<path d="M41 182.56L41.8 182.43L42.5 182.3L43.3 182.18L44 182.05L44.8 181.92L45.5 181.8L46.3 181.68L47 181.55L47.8 181.43L48.5 181.31L49.3 181.19L50 181.07L50.8 180.95L51.5 180.84L52.3 180.72L53 180.6L53.8 180.49L54.5 180.37L55.3 180.26L56 180.14L56.8 180.03L57.5 179.91L58.3 179.8L59 179.68L59.8 179.56L60.5 179.44L61.3 179.32L62 179.2L62.8 179.08L63.5 178.95L64.3 178.83L65 178.7L65.8 178.57L66.5 178.44L67.3 178.31L68 178.18L68.8 178.05L69.5 177.92L70.3 177.79L71 177.66L71.8 177.52L72.5 177.39L73.3 177.26L74 177.12L74.8 176.99L75.5 176.85L76.3 176.72L77 176.59L77.8 176.46L78.5 176.32L79.3 176.19L80 176.06L80.8 175.93L81.5 175.8L82.3 175.68L83 175.56L83.8 175.44L84.5 175.33L85.3 175.21L86 175.1L86.8 174.98L87.5 174.87L88.3 174.75L89 174.64L89.8 174.52L90.5 174.39L91.3 174.26L92 174.13L92.8 173.99L93.5 173.85L94.3 173.7L95 173.54L95.8 173.38L96.5 173.2L97.3 173L98 172.78L98.8 172.55L99.5 172.3L100.3 172.03L101 171.77L101.8 171.5L102.5 171.23L103.3 170.97L104 170.72L104.8 170.49L105.5 170.26L106.3 170.03L107 169.8L107.8 169.58L108.5 169.35L109.3 169.13L110 168.92L110.8 168.71L111.5 168.51L112.3 168.33L113 168.16L113.8 168.01L114.5 167.86L115.3 167.7L116 167.55L116.8 167.4L117.5 167.25L118.3 167.11L119 166.99L119.8 166.88L120.5 166.79L121.3 166.73L122 166.69L122.8 166.68L123.5 166.68L124.3 166.68L125 166.68L125.8 166.68L126.5 166.68L127.3 166.68L128 166.68L128.8 166.73L129.5 166.87L130.3 167.1L131 167.39L131.8 167.74L132.5 168.11L133.3 168.5L134 168.89L134.8 169.26L135.5 169.62L136.3 170.01L137 170.43L137.8 170.87L138.5 171.31L139.3 171.76L140 172.19L140.8 172.6L141.5 173.02L142.3 173.45L143 173.87L143.8 174.29L144.5 174.7L145.3 175.09L146 175.47L146.8 175.82L147.5 176.15L148.3 176.47L149 176.78L149.8 177.09L150.5 177.38L151.3 177.65L152 177.9L152.8 178.13L153.5 178.33L154.3 178.51L155 178.68L155.8 178.84L156.5 178.99L157.3 179.14L158 179.27L158.8 179.4L159.5 179.52L160.3 179.63L161 179.73L161.8 179.83L162.5 179.92L163.3 180L164 180.07L164.8 180.15L165.5 180.22L166.3 180.28L167 180.35L167.8 180.41L168.5 180.47L169.3 180.52L170 180.58L170.8 180.63L171.5 180.67L172.3 180.72L173 180.76L173.8 180.81L174.5 180.85L175.3 180.89L176 180.92L176.8 180.96L177.5 180.99L178.3 181.03L179 181.06L179.8 181.09L180.5 181.12L181.3 181.15L182 181.18L182.8 181.21L183.5 181.24L184.3 181.27L185 181.3L185.8 181.32L186.5 181.35L187.3 181.38L188 181.41L188.8 181.45L189.5 181.48L190.3 181.51L191 181.54L191.8 181.57L192.5 181.61L193.3 181.64L194 181.67L194.8 181.7L195.5 181.73L196.3 181.76L197 181.8L197.8 181.83L198.5 181.86L199.3 181.89L200 181.92L200.8 181.96L201.5 181.99L202.3 182.02L203 182.06L203.8 182.09L204.5 182.12L205.3 182.16L206 182.19L206.8 182.22L207.5 182.26L208.3 182.29L209 182.32L209.8 182.36L210.5 182.39L211.3 182.43L212 182.46L212.8 182.5L213.5 182.53L214.3 182.57L215 182.6L215.8 182.64L216.5 182.67L217.3 182.71L218 182.74L218.7 182.78L218.69 183.06L41.02 183.06Z" fill="#00A9FF"/>
<path d="M41 182.56L41.8 182.43L42.5 182.3L43.3 182.18L44 182.05L44.8 181.92L45.5 181.8L46.3 181.68L47 181.55L47.8 181.43L48.5 181.31L49.3 181.19L50 181.07L50.8 180.95L51.5 180.84L52.3 180.72L53 180.6L53.8 180.49L54.5 180.37L55.3 180.26L56 180.14L56.8 180.03L57.5 179.91L58.3 179.8L59 179.68L59.8 179.56L60.5 179.44L61.3 179.32L62 179.2L62.8 179.08L63.5 178.95L64.3 178.83L65 178.7L65.8 178.57L66.5 178.44L67.3 178.31L68 178.18L68.8 178.05L69.5 177.92L70.3 177.79L71 177.66L71.8 177.52L72.5 177.39L73.3 177.26L74 177.12L74.8 176.99L75.5 176.85L76.3 176.72L77 176.59L77.8 176.46L78.5 176.32L79.3 176.19L80 176.06L80.8 175.93L81.5 175.8L82.3 175.68L83 175.56L83.8 175.44L84.5 175.33L85.3 175.21L86 175.1L86.8 174.98L87.5 174.87L88.3 174.75L89 174.64L89.8 174.52L90.5 174.39L91.3 174.26L92 174.13L92.8 173.99L93.5 173.85L94.3 173.7L95 173.54L95.8 173.38L96.5 173.2L97.3 173L98 172.78L98.8 172.55L99.5 172.3L100.3 172.03L101 171.77L101.8 171.5L102.5 171.23L103.3 170.97L104 170.72L104.8 170.49L105.5 170.26L106.3 170.03L107 169.8L107.8 169.58L108.5 169.35L109.3 169.13L110 168.92L110.8 168.71L111.5 168.51L112.3 168.33L113 168.16L113.8 168.01L114.5 167.86L115.3 167.7L116 167.55L116.8 167.4L117.5 167.25L118.3 167.11L119 166.99L119.8 166.88L120.5 166.79L121.3 166.73L122 166.69L122.8 166.68L123.5 166.68L124.3 166.68L125 166.68L125.8 166.68L126.5 166.68L127.3 166.68L128 166.68L128.8 166.73L129.5 166.87L130.3 167.1L131 167.39L131.8 167.74L132.5 168.11L133.3 168.5L134 168.89L134.8 169.26L135.5 169.62L136.3 170.01L137 170.43L137.8 170.87L138.5 171.31L139.3 171.76L140 172.19L140.8 172.6L141.5 173.02L142.3 173.45L143 173.87L143.8 174.29L144.5 174.7L145.3 175.09L146 175.47L146.8 175.82L147.5 176.15L148.3 176.47L149 176.78L149.8 177.09L150.5 177.38L151.3 177.65L152 177.9L152.8 178.13L153.5 178.33L154.3 178.51L155 178.68L155.8 178.84L156.5 178.99L157.3 179.14L158 179.27L158.8 179.4L159.5 179.52L160.3 179.63L161 179.73L161.8 179.83L162.5 179.92L163.3 180L164 180.07L164.8 180.15L165.5 180.22L166.3 180.28L167 180.35L167.8 180.41L168.5 180.47L169.3 180.52L170 180.58L170.8 180.63L171.5 180.67L172.3 180.72L173 180.76L173.8 180.81L174.5 180.85L175.3 180.89L176 180.92L176.8 180.96L177.5 180.99L178.3 181.03L179 181.06L179.8 181.09L180.5 181.12L181.3 181.15L182 181.18L182.8 181.21L183.5 181.24L184.3 181.27L185 181.3L185.8 181.32L186.5 181.35L187.3 181.38L188 181.41L188.8 181.45L189.5 181.48L190.3 181.51L191 181.54L191.8 181.57L192.5 181.61L193.3 181.64L194 181.67L194.8 181.7L195.5 181.73L196.3 181.76L197 181.8L197.8 181.83L198.5 181.86L199.3 181.89L200 181.92L200.8 181.96L201.5 181.99L202.3 182.02L203 182.06L203.8 182.09L204.5 182.12L205.3 182.16L206 182.19L206.8 182.22L207.5 182.26L208.3 182.29L209 182.32L209.8 182.36L210.5 182.39L211.3 182.43L212 182.46L212.8 182.5L213.5 182.53L214.3 182.57L215 182.6L215.8 182.64L216.5 182.67L217.3 182.71L218 182.74L218.7 182.78" fill="none" stroke="#0d0d0d" stroke-width="1.15" stroke-linejoin="round"/>
<rect x="31.8" y="159.05" width="196.8" height="25.15" fill="none" stroke="#7a7a7a" stroke-width="0.7"/>
<rect x="228.6" y="159.05" width="11.4" height="25.15" fill="#d9d9d9" stroke="#808080" stroke-width="0.65"/>
<text transform="translate(230.4 171.62) rotate(90)" font-size="7.6" text-anchor="middle" font-family="Liberation Sans, Arial, sans-serif" fill="#0a0a0a" stroke="#0a0a0a" stroke-width="0.2">16-19</text>
<text transform="translate(29.2 185.51) rotate(0.03)" font-size="5.85" text-anchor="end" font-family="Liberation Sans, Arial, sans-serif" fill="#555">0.00</text>
<text transform="translate(29.2 179.91) rotate(0.03)" font-size="5.85" text-anchor="end" font-family="Liberation Sans, Arial, sans-serif" fill="#555">0.02</text>
<text transform="translate(29.2 174.31) rotate(0.03)" font-size="5.85" text-anchor="end" font-family="Liberation Sans, Arial, sans-serif" fill="#555">0.04</text>
<text transform="translate(29.2 168.71) rotate(0.03)" font-size="5.85" text-anchor="end" font-family="Liberation Sans, Arial, sans-serif" fill="#555">0.06</text>
<text transform="translate(29.2 163.11) rotate(0.03)" font-size="5.85" text-anchor="end" font-family="Liberation Sans, Arial, sans-serif" fill="#555">0.08</text>
<path d="M30.2 183.06H31.8M30.2 177.46H31.8M30.2 171.86H31.8M30.2 166.26H31.8M30.2 160.66H31.8" stroke="#4d4d4d" stroke-width="0.5" fill="none"/>
</g>
<g class="facet">
<rect x="31.8" y="187.22" width="196.8" height="25.15" fill="#fff"/>
<path d="M41.05 187.22V212.37M80.55 187.22V212.37M120.05 187.22V212.37M159.55 187.22V212.37M199.05 187.22V212.37M31.8 208.43H228.6M31.8 202.83H228.6M31.8 197.23H228.6M31.8 191.63H228.6" stroke="#f0f0f0" stroke-width="0.3" fill="none"/>
<path d="M60.8 187.22V212.37M100.3 187.22V212.37M139.8 187.22V212.37M179.3 187.22V212.37M218.8 187.22V212.37M31.8 211.23H228.6M31.8 205.63H228.6M31.8 200.03H228.6M31.8 194.43H228.6M31.8 188.83H228.6" stroke="#e8e8e8" stroke-width="0.55" fill="none"/>
<path d="M41 211.22L41.8 211.09L42.5 210.96L43.3 210.83L44 210.72L44.8 210.62L45.5 210.55L46.3 210.48L47 210.42L47.8 210.37L48.5 210.32L49.3 210.27L50 210.23L50.8 210.19L51.5 210.15L52.3 210.11L53 210.08L53.8 210.04L54.5 210.01L55.3 209.98L56 209.94L56.8 209.91L57.5 209.87L58.3 209.83L59 209.79L59.8 209.74L60.5 209.7L61.3 209.64L62 209.59L62.8 209.54L63.5 209.49L64.3 209.43L65 209.38L65.8 209.32L66.5 209.26L67.3 209.2L68 209.14L68.8 209.08L69.5 209.02L70.3 208.96L71 208.89L71.8 208.82L72.5 208.75L73.3 208.68L74 208.61L74.8 208.53L75.5 208.46L76.3 208.38L77 208.3L77.8 208.21L78.5 208.13L79.3 208.04L80 207.94L80.8 207.84L81.5 207.73L82.3 207.62L83 207.5L83.8 207.38L84.5 207.25L85.3 207.12L86 206.99L86.8 206.85L87.5 206.72L88.3 206.58L89 206.43L89.8 206.29L90.5 206.15L91.3 206L92 205.86L92.8 205.71L93.5 205.56L94.3 205.42L95 205.27L95.8 205.12L96.5 204.97L97.3 204.82L98 204.67L98.8 204.51L99.5 204.35L100.3 204.19L101 204.02L101.8 203.85L102.5 203.67L103.3 203.49L104 203.3L104.8 203.11L105.5 202.91L106.3 202.71L107 202.5L107.8 202.3L108.5 202.08L109.3 201.86L110 201.63L110.8 201.38L111.5 201.12L112.3 200.85L113 200.56L113.8 200.25L114.5 199.92L115.3 199.55L116 199.11L116.8 198.6L117.5 198.05L118.3 197.46L119 196.86L119.8 196.26L120.5 195.68L121.3 195.09L122 194.47L122.8 193.84L123.5 193.21L124.3 192.59L125 192.01L125.8 191.46L126.5 190.92L127.3 190.35L128 189.78L128.8 189.29L129.5 188.92L130.3 188.73L131 188.67L131.8 188.62L132.5 188.57L133.3 188.54L134 188.52L134.8 188.51L135.5 188.58L136.3 188.86L137 189.28L137.8 189.8L138.5 190.35L139.3 190.89L140 191.44L140.8 192.07L141.5 192.75L142.3 193.47L143 194.22L143.8 194.97L144.5 195.7L145.3 196.41L146 197.15L146.8 197.9L147.5 198.66L148.3 199.4L149 200.12L149.8 200.8L150.5 201.43L151.3 202.05L152 202.66L152.8 203.25L153.5 203.81L154.3 204.34L155 204.81L155.8 205.22L156.5 205.58L157.3 205.93L158 206.26L158.8 206.57L159.5 206.85L160.3 207.11L161 207.34L161.8 207.54L162.5 207.7L163.3 207.83L164 207.96L164.8 208.07L165.5 208.18L166.3 208.28L167 208.37L167.8 208.45L168.5 208.53L169.3 208.6L170 208.68L170.8 208.74L171.5 208.81L172.3 208.87L173 208.94L173.8 209L174.5 209.05L175.3 209.11L176 209.16L176.8 209.22L177.5 209.27L178.3 209.31L179 209.36L179.8 209.41L180.5 209.45L181.3 209.49L182 209.54L182.8 209.58L183.5 209.62L184.3 209.66L185 209.7L185.8 209.74L186.5 209.77L187.3 209.81L188 209.84L188.8 209.87L189.5 209.91L190.3 209.94L191 209.97L191.8 210L192.5 210.03L193.3 210.06L194 210.09L194.8 210.12L195.5 210.15L196.3 210.18L197 210.21L197.8 210.24L198.5 210.27L199.3 210.3L200 210.34L200.8 210.37L201.5 210.4L202.3 210.44L203 210.47L203.8 210.51L204.5 210.54L205.3 210.57L206 210.61L206.8 210.64L207.5 210.68L208.3 210.71L209 210.75L209.8 210.78L210.5 210.82L211.3 210.86L212 210.89L212.8 210.93L213.5 210.96L214.3 211L215 211.04L215.8 211.07L216.5 211.11L217.3 211.15L218 211.18L218.7 211.22L218.69 211.23L41.02 211.23Z" fill="#C77CFF"/>
<path d="M41 211.22L41.8 211.09L42.5 210.96L43.3 210.83L44 210.72L44.8 210.62L45.5 210.55L46.3 210.48L47 210.42L47.8 210.37L48.5 210.32L49.3 210.27L50 210.23L50.8 210.19L51.5 210.15L52.3 210.11L53 210.08L53.8 210.04L54.5 210.01L55.3 209.98L56 209.94L56.8 209.91L57.5 209.87L58.3 209.83L59 209.79L59.8 209.74L60.5 209.7L61.3 209.64L62 209.59L62.8 209.54L63.5 209.49L64.3 209.43L65 209.38L65.8 209.32L66.5 209.26L67.3 209.2L68 209.14L68.8 209.08L69.5 209.02L70.3 208.96L71 208.89L71.8 208.82L72.5 208.75L73.3 208.68L74 208.61L74.8 208.53L75.5 208.46L76.3 208.38L77 208.3L77.8 208.21L78.5 208.13L79.3 208.04L80 207.94L80.8 207.84L81.5 207.73L82.3 207.62L83 207.5L83.8 207.38L84.5 207.25L85.3 207.12L86 206.99L86.8 206.85L87.5 206.72L88.3 206.58L89 206.43L89.8 206.29L90.5 206.15L91.3 206L92 205.86L92.8 205.71L93.5 205.56L94.3 205.42L95 205.27L95.8 205.12L96.5 204.97L97.3 204.82L98 204.67L98.8 204.51L99.5 204.35L100.3 204.19L101 204.02L101.8 203.85L102.5 203.67L103.3 203.49L104 203.3L104.8 203.11L105.5 202.91L106.3 202.71L107 202.5L107.8 202.3L108.5 202.08L109.3 201.86L110 201.63L110.8 201.38L111.5 201.12L112.3 200.85L113 200.56L113.8 200.25L114.5 199.92L115.3 199.55L116 199.11L116.8 198.6L117.5 198.05L118.3 197.46L119 196.86L119.8 196.26L120.5 195.68L121.3 195.09L122 194.47L122.8 193.84L123.5 193.21L124.3 192.59L125 192.01L125.8 191.46L126.5 190.92L127.3 190.35L128 189.78L128.8 189.29L129.5 188.92L130.3 188.73L131 188.67L131.8 188.62L132.5 188.57L133.3 188.54L134 188.52L134.8 188.51L135.5 188.58L136.3 188.86L137 189.28L137.8 189.8L138.5 190.35L139.3 190.89L140 191.44L140.8 192.07L141.5 192.75L142.3 193.47L143 194.22L143.8 194.97L144.5 195.7L145.3 196.41L146 197.15L146.8 197.9L147.5 198.66L148.3 199.4L149 200.12L149.8 200.8L150.5 201.43L151.3 202.05L152 202.66L152.8 203.25L153.5 203.81L154.3 204.34L155 204.81L155.8 205.22L156.5 205.58L157.3 205.93L158 206.26L158.8 206.57L159.5 206.85L160.3 207.11L161 207.34L161.8 207.54L162.5 207.7L163.3 207.83L164 207.96L164.8 208.07L165.5 208.18L166.3 208.28L167 208.37L167.8 208.45L168.5 208.53L169.3 208.6L170 208.68L170.8 208.74L171.5 208.81L172.3 208.87L173 208.94L173.8 209L174.5 209.05L175.3 209.11L176 209.16L176.8 209.22L177.5 209.27L178.3 209.31L179 209.36L179.8 209.41L180.5 209.45L181.3 209.49L182 209.54L182.8 209.58L183.5 209.62L184.3 209.66L185 209.7L185.8 209.74L186.5 209.77L187.3 209.81L188 209.84L188.8 209.87L189.5 209.91L190.3 209.94L191 209.97L191.8 210L192.5 210.03L193.3 210.06L194 210.09L194.8 210.12L195.5 210.15L196.3 210.18L197 210.21L197.8 210.24L198.5 210.27L199.3 210.3L200 210.34L200.8 210.37L201.5 210.4L202.3 210.44L203 210.47L203.8 210.51L204.5 210.54L205.3 210.57L206 210.61L206.8 210.64L207.5 210.68L208.3 210.71L209 210.75L209.8 210.78L210.5 210.82L211.3 210.86L212 210.89L212.8 210.93L213.5 210.96L214.3 211L215 211.04L215.8 211.07L216.5 211.11L217.3 211.15L218 211.18L218.7 211.22" fill="none" stroke="#0d0d0d" stroke-width="1.15" stroke-linejoin="round"/>
<rect x="31.8" y="187.22" width="196.8" height="25.15" fill="none" stroke="#7a7a7a" stroke-width="0.7"/>
<rect x="228.6" y="187.22" width="11.4" height="25.15" fill="#d9d9d9" stroke="#808080" stroke-width="0.65"/>
<text transform="translate(230.4 199.79) rotate(90)" font-size="7.6" text-anchor="middle" font-family="Liberation Sans, Arial, sans-serif" fill="#0a0a0a" stroke="#0a0a0a" stroke-width="0.2">19-24</text>
<text transform="translate(29.2 213.68) rotate(0.03)" font-size="5.85" text-anchor="end" font-family="Liberation Sans, Arial, sans-serif" fill="#555">0.00</text>
<text transform="translate(29.2 208.08) rotate(0.03)" font-size="5.85" text-anchor="end" font-family="Liberation Sans, Arial, sans-serif" fill="#555">0.02</text>
<text transform="translate(29.2 202.48) rotate(0.03)" font-size="5.85" text-anchor="end" font-family="Liberation Sans, Arial, sans-serif" fill="#555">0.04</text>
<text transform="translate(29.2 196.88) rotate(0.03)" font-size="5.85" text-anchor="end" font-family="Liberation Sans, Arial, sans-serif" fill="#555">0.06</text>
<text transform="translate(29.2 191.28) rotate(0.03)" font-size="5.85" text-anchor="end" font-family="Liberation Sans, Arial, sans-serif" fill="#555">0.08</text>
<path d="M30.2 211.23H31.8M30.2 205.63H31.8M30.2 200.03H31.8M30.2 194.43H31.8M30.2 188.83H31.8" stroke="#4d4d4d" stroke-width="0.5" fill="none"/>
</g>
<g class="facet">
<rect x="31.8" y="215.39" width="196.8" height="25.15" fill="#fff"/>
<path d="M41.05 215.39V240.54M80.55 215.39V240.54M120.05 215.39V240.54M159.55 215.39V240.54M199.05 215.39V240.54M31.8 236.6H228.6M31.8 231H228.6M31.8 225.4H228.6M31.8 219.8H228.6" stroke="#f0f0f0" stroke-width="0.3" fill="none"/>
<path d="M60.8 215.39V240.54M100.3 215.39V240.54M139.8 215.39V240.54M179.3 215.39V240.54M218.8 215.39V240.54M31.8 239.4H228.6M31.8 233.8H228.6M31.8 228.2H228.6M31.8 222.6H228.6M31.8 217H228.6" stroke="#e8e8e8" stroke-width="0.55" fill="none"/>
<path d="M41 239.4L41.8 239.36L42.5 239.28L43.3 239.21L44 239.13L44.8 239.06L45.5 238.98L46.3 238.91L47 238.83L47.8 238.76L48.5 238.68L49.3 238.61L50 238.54L50.8 238.47L51.5 238.39L52.3 238.32L53 238.25L53.8 238.18L54.5 238.11L55.3 238.03L56 237.96L56.8 237.89L57.5 237.81L58.3 237.74L59 237.66L59.8 237.58L60.5 237.51L61.3 237.43L62 237.35L62.8 237.26L63.5 237.18L64.3 237.09L65 237.01L65.8 236.92L66.5 236.84L67.3 236.75L68 236.66L68.8 236.57L69.5 236.48L70.3 236.39L71 236.29L71.8 236.2L72.5 236.1L73.3 236L74 235.9L74.8 235.8L75.5 235.69L76.3 235.58L77 235.47L77.8 235.36L78.5 235.24L79.3 235.12L80 235L80.8 234.87L81.5 234.74L82.3 234.6L83 234.46L83.8 234.32L84.5 234.18L85.3 234.03L86 233.88L86.8 233.73L87.5 233.57L88.3 233.41L89 233.25L89.8 233.09L90.5 232.92L91.3 232.76L92 232.59L92.8 232.42L93.5 232.25L94.3 232.08L95 231.91L95.8 231.74L96.5 231.56L97.3 231.38L98 231.2L98.8 231.02L99.5 230.83L100.3 230.64L101 230.44L101.8 230.23L102.5 230.02L103.3 229.81L104 229.58L104.8 229.35L105.5 229.11L106.3 228.86L107 228.6L107.8 228.33L108.5 228.04L109.3 227.75L110 227.45L110.8 227.13L111.5 226.81L112.3 226.47L113 226.12L113.8 225.77L114.5 225.38L115.3 224.96L116 224.51L116.8 224.04L117.5 223.56L118.3 223.08L119 222.6L119.8 222.15L120.5 221.72L121.3 221.29L122 220.84L122.8 220.39L123.5 219.97L124.3 219.58L125 219.24L125.8 218.97L126.5 218.75L127.3 218.54L128 218.33L128.8 218.15L129.5 218.01L130.3 217.9L131 217.84L131.8 217.83L132.5 217.83L133.3 217.9L134 218.18L134.8 218.59L135.5 219.06L136.3 219.53L137 220.07L137.8 220.7L138.5 221.38L139.3 222.08L140 222.76L140.8 223.41L141.5 224.04L142.3 224.68L143 225.31L143.8 225.95L144.5 226.57L145.3 227.2L146 227.81L146.8 228.44L147.5 229.08L148.3 229.72L149 230.34L149.8 230.95L150.5 231.52L151.3 232.04L152 232.52L152.8 233L153.5 233.46L154.3 233.91L155 234.33L155.8 234.72L156.5 235.08L157.3 235.4L158 235.67L158.8 235.91L159.5 236.13L160.3 236.34L161 236.54L161.8 236.72L162.5 236.88L163.3 237.02L164 237.14L164.8 237.24L165.5 237.33L166.3 237.41L167 237.49L167.8 237.56L168.5 237.63L169.3 237.69L170 237.75L170.8 237.81L171.5 237.86L172.3 237.91L173 237.95L173.8 238L174.5 238.04L175.3 238.09L176 238.13L176.8 238.17L177.5 238.21L178.3 238.25L179 238.28L179.8 238.32L180.5 238.36L181.3 238.39L182 238.42L182.8 238.45L183.5 238.48L184.3 238.51L185 238.54L185.8 238.57L186.5 238.6L187.3 238.63L188 238.66L188.8 238.69L189.5 238.71L190.3 238.74L191 238.77L191.8 238.8L192.5 238.82L193.3 238.85L194 238.88L194.8 238.91L195.5 238.93L196.3 238.96L197 238.99L197.8 239.01L198.5 239.04L199.3 239.07L200 239.09L200.8 239.12L201.5 239.14L202.3 239.17L203 239.19L203.8 239.22L204.5 239.24L205.3 239.27L206 239.29L206.8 239.31L207.5 239.34L208.3 239.36L209 239.38L209.8 239.4L210.5 239.4L211.3 239.4L212 239.4L212.8 239.4L213.5 239.4L214.3 239.4L215 239.4L215.8 239.4L216.5 239.4L217.3 239.4L218 239.4L218.7 239.4L218.69 239.4L41.02 239.4Z" fill="#FF61CC"/>
<path d="M41 239.4L41.8 239.36L42.5 239.28L43.3 239.21L44 239.13L44.8 239.06L45.5 238.98L46.3 238.91L47 238.83L47.8 238.76L48.5 238.68L49.3 238.61L50 238.54L50.8 238.47L51.5 238.39L52.3 238.32L53 238.25L53.8 238.18L54.5 238.11L55.3 238.03L56 237.96L56.8 237.89L57.5 237.81L58.3 237.74L59 237.66L59.8 237.58L60.5 237.51L61.3 237.43L62 237.35L62.8 237.26L63.5 237.18L64.3 237.09L65 237.01L65.8 236.92L66.5 236.84L67.3 236.75L68 236.66L68.8 236.57L69.5 236.48L70.3 236.39L71 236.29L71.8 236.2L72.5 236.1L73.3 236L74 235.9L74.8 235.8L75.5 235.69L76.3 235.58L77 235.47L77.8 235.36L78.5 235.24L79.3 235.12L80 235L80.8 234.87L81.5 234.74L82.3 234.6L83 234.46L83.8 234.32L84.5 234.18L85.3 234.03L86 233.88L86.8 233.73L87.5 233.57L88.3 233.41L89 233.25L89.8 233.09L90.5 232.92L91.3 232.76L92 232.59L92.8 232.42L93.5 232.25L94.3 232.08L95 231.91L95.8 231.74L96.5 231.56L97.3 231.38L98 231.2L98.8 231.02L99.5 230.83L100.3 230.64L101 230.44L101.8 230.23L102.5 230.02L103.3 229.81L104 229.58L104.8 229.35L105.5 229.11L106.3 228.86L107 228.6L107.8 228.33L108.5 228.04L109.3 227.75L110 227.45L110.8 227.13L111.5 226.81L112.3 226.47L113 226.12L113.8 225.77L114.5 225.38L115.3 224.96L116 224.51L116.8 224.04L117.5 223.56L118.3 223.08L119 222.6L119.8 222.15L120.5 221.72L121.3 221.29L122 220.84L122.8 220.39L123.5 219.97L124.3 219.58L125 219.24L125.8 218.97L126.5 218.75L127.3 218.54L128 218.33L128.8 218.15L129.5 218.01L130.3 217.9L131 217.84L131.8 217.83L132.5 217.83L133.3 217.9L134 218.18L134.8 218.59L135.5 219.06L136.3 219.53L137 220.07L137.8 220.7L138.5 221.38L139.3 222.08L140 222.76L140.8 223.41L141.5 224.04L142.3 224.68L143 225.31L143.8 225.95L144.5 226.57L145.3 227.2L146 227.81L146.8 228.44L147.5 229.08L148.3 229.72L149 230.34L149.8 230.95L150.5 231.52L151.3 232.04L152 232.52L152.8 233L153.5 233.46L154.3 233.91L155 234.33L155.8 234.72L156.5 235.08L157.3 235.4L158 235.67L158.8 235.91L159.5 236.13L160.3 236.34L161 236.54L161.8 236.72L162.5 236.88L163.3 237.02L164 237.14L164.8 237.24L165.5 237.33L166.3 237.41L167 237.49L167.8 237.56L168.5 237.63L169.3 237.69L170 237.75L170.8 237.81L171.5 237.86L172.3 237.91L173 237.95L173.8 238L174.5 238.04L175.3 238.09L176 238.13L176.8 238.17L177.5 238.21L178.3 238.25L179 238.28L179.8 238.32L180.5 238.36L181.3 238.39L182 238.42L182.8 238.45L183.5 238.48L184.3 238.51L185 238.54L185.8 238.57L186.5 238.6L187.3 238.63L188 238.66L188.8 238.69L189.5 238.71L190.3 238.74L191 238.77L191.8 238.8L192.5 238.82L193.3 238.85L194 238.88L194.8 238.91L195.5 238.93L196.3 238.96L197 238.99L197.8 239.01L198.5 239.04L199.3 239.07L200 239.09L200.8 239.12L201.5 239.14L202.3 239.17L203 239.19L203.8 239.22L204.5 239.24L205.3 239.27L206 239.29L206.8 239.31L207.5 239.34L208.3 239.36L209 239.38L209.8 239.4L210.5 239.4L211.3 239.4L212 239.4L212.8 239.4L213.5 239.4L214.3 239.4L215 239.4L215.8 239.4L216.5 239.4L217.3 239.4L218 239.4L218.7 239.4" fill="none" stroke="#0d0d0d" stroke-width="1.15" stroke-linejoin="round"/>
<rect x="31.8" y="215.39" width="196.8" height="25.15" fill="none" stroke="#7a7a7a" stroke-width="0.7"/>
<rect x="228.6" y="215.39" width="11.4" height="25.15" fill="#d9d9d9" stroke="#808080" stroke-width="0.65"/>
<text transform="translate(230.4 227.96) rotate(90)" font-size="7.6" text-anchor="middle" font-family="Liberation Sans, Arial, sans-serif" fill="#0a0a0a" stroke="#0a0a0a" stroke-width="0.2">Annual</text>
<text transform="translate(29.2 241.85) rotate(0.03)" font-size="5.85" text-anchor="end" font-family="Liberation Sans, Arial, sans-serif" fill="#555">0.00</text>
<text transform="translate(29.2 236.25) rotate(0.03)" font-size="5.85" text-anchor="end" font-family="Liberation Sans, Arial, sans-serif" fill="#555">0.02</text>
<text transform="translate(29.2 230.65) rotate(0.03)" font-size="5.85" text-anchor="end" font-family="Liberation Sans, Arial, sans-serif" fill="#555">0.04</text>
<text transform="translate(29.2 225.05) rotate(0.03)" font-size="5.85" text-anchor="end" font-family="Liberation Sans, Arial, sans-serif" fill="#555">0.06</text>
<text transform="translate(29.2 219.45) rotate(0.03)" font-size="5.85" text-anchor="end" font-family="Liberation Sans, Arial, sans-serif" fill="#555">0.08</text>
<path d="M30.2 239.4H31.8M30.2 233.8H31.8M30.2 228.2H31.8M30.2 222.6H31.8M30.2 217H31.8" stroke="#4d4d4d" stroke-width="0.5" fill="none"/>
</g>
<text transform="translate(60.8 249.04) rotate(0.03)" font-size="6.4" text-anchor="middle" font-family="Liberation Sans, Arial, sans-serif" fill="#555">10</text>
<text transform="translate(100.3 249.04) rotate(0.03)" font-size="6.4" text-anchor="middle" font-family="Liberation Sans, Arial, sans-serif" fill="#555">20</text>
<text transform="translate(139.8 249.04) rotate(0.03)" font-size="6.4" text-anchor="middle" font-family="Liberation Sans, Arial, sans-serif" fill="#555">30</text>
<text transform="translate(179.3 249.04) rotate(0.03)" font-size="6.4" text-anchor="middle" font-family="Liberation Sans, Arial, sans-serif" fill="#555">40</text>
<text transform="translate(218.8 249.04) rotate(0.03)" font-size="6.4" text-anchor="middle" font-family="Liberation Sans, Arial, sans-serif" fill="#555">50</text>
<path d="M60.8 240.54v1.6M100.3 240.54v1.6M139.8 240.54v1.6M179.3 240.54v1.6M218.8 240.54v1.6" stroke="#4d4d4d" stroke-width="0.5" fill="none"/>
<text x="130.2" y="257.74" font-size="8.45" text-anchor="middle" font-family="Liberation Sans, Arial, sans-serif" fill="#000" stroke="#000" stroke-width="0.12">Traffic Noise, (dB)</text>
<text transform="translate(15.7 129.37) rotate(-90)" font-size="8.5" text-anchor="middle" font-family="Liberation Sans, Arial, sans-serif" fill="#000" stroke="#000" stroke-width="0.12">Density</text>
<text x="124.65" y="273.1" font-size="9.6" font-weight="bold" text-anchor="middle" font-family="Liberation Serif, Times New Roman, serif" fill="#111">(a)</text>
</g>
<g id="panel-b">
<rect x="255" y="5.5" width="237" height="256" fill="#fff" stroke="#505050" stroke-width="0.85"/>
<text x="380.5" y="13.8" font-size="7.1" text-anchor="middle" font-family="Liberation Sans, Arial, sans-serif" fill="#000" stroke="#000" stroke-width="0.1">Primary Roads</text>
<g class="facet">
<rect x="284" y="18.2" width="193" height="25.15" fill="#fff"/>
<path d="M292.8 18.2V43.35M331.6 18.2V43.35M370.4 18.2V43.35M409.3 18.2V43.35M448.2 18.2V43.35M284 39.11H477M284 32.91H477M284 26.71H477M284 20.51H477" stroke="#f0f0f0" stroke-width="0.3" fill="none"/>
<path d="M312.2 18.2V43.35M351 18.2V43.35M389.8 18.2V43.35M428.7 18.2V43.35M467.6 18.2V43.35M284 42.21H477M284 36.01H477M284 29.81H477M284 23.61H477" stroke="#e8e8e8" stroke-width="0.55" fill="none"/>
<path d="M292.8 42.21L293.5 42.21L294.3 42.18L295 42.1L295.8 42.03L296.5 41.96L297.3 41.91L298 41.88L298.8 41.84L299.5 41.82L300.3 41.79L301 41.76L301.8 41.74L302.5 41.72L303.3 41.7L304 41.68L304.8 41.67L305.5 41.65L306.3 41.63L307 41.62L307.8 41.6L308.5 41.58L309.3 41.57L310 41.55L310.8 41.53L311.5 41.51L312.3 41.48L313 41.46L313.8 41.43L314.5 41.4L315.3 41.37L316 41.34L316.8 41.31L317.5 41.28L318.3 41.25L319 41.22L319.8 41.19L320.5 41.15L321.3 41.12L322 41.08L322.8 41.05L323.5 41.01L324.3 40.97L325 40.93L325.8 40.89L326.5 40.84L327.3 40.8L328 40.75L328.8 40.7L329.5 40.65L330.3 40.6L331 40.55L331.8 40.49L332.5 40.43L333.3 40.36L334 40.28L334.8 40.2L335.5 40.12L336.3 40.03L337 39.94L337.8 39.85L338.5 39.75L339.3 39.66L340 39.56L340.8 39.46L341.5 39.36L342.3 39.25L343 39.15L343.8 39.05L344.5 38.95L345.3 38.85L346 38.74L346.8 38.64L347.5 38.53L348.3 38.42L349 38.31L349.8 38.19L350.5 38.07L351.3 37.95L352 37.82L352.8 37.68L353.5 37.55L354.3 37.4L355 37.25L355.8 37.09L356.5 36.93L357.3 36.75L358 36.57L358.8 36.38L359.5 36.18L360.3 35.97L361 35.75L361.8 35.51L362.5 35.27L363.3 35.01L364 34.74L364.8 34.45L365.5 34.12L366.3 33.76L367 33.39L367.8 32.99L368.5 32.58L369.3 32.16L370 31.74L370.8 31.3L371.5 30.83L372.3 30.34L373 29.82L373.8 29.3L374.5 28.77L375.3 28.25L376 27.74L376.8 27.26L377.5 26.8L378.3 26.33L379 25.87L379.8 25.4L380.5 24.95L381.3 24.5L382 24.08L382.8 23.68L383.5 23.31L384.3 22.97L385 22.67L385.8 22.41L386.5 22.19L387.3 21.98L388 21.77L388.8 21.56L389.5 21.32L390.3 21.02L391 20.69L391.8 20.42L392.5 20.29L393.3 20.37L394 20.62L394.8 20.98L395.5 21.39L396.3 21.82L397 22.37L397.8 23.03L398.5 23.76L399.3 24.52L400 25.28L400.8 26L401.5 26.73L402.3 27.48L403 28.24L403.8 29.01L404.5 29.77L405.3 30.53L406 31.36L406.8 32.19L407.5 32.99L408.3 33.71L409 34.31L409.8 34.79L410.5 35.24L411.3 35.65L412 36.03L412.8 36.37L413.5 36.66L414.3 36.92L415 37.15L415.8 37.35L416.5 37.54L417.3 37.71L418 37.87L418.8 38.02L419.5 38.16L420.3 38.3L421 38.42L421.8 38.55L422.5 38.66L423.3 38.78L424 38.89L424.8 39L425.5 39.1L426.3 39.2L427 39.3L427.8 39.4L428.5 39.49L429.3 39.58L430 39.66L430.8 39.74L431.5 39.83L432.3 39.91L433 39.98L433.8 40.06L434.5 40.13L435.3 40.21L436 40.28L436.8 40.35L437.5 40.43L438.3 40.5L439 40.57L439.8 40.64L440.5 40.71L441.3 40.77L442 40.84L442.8 40.9L443.5 40.96L444.3 41.01L445 41.07L445.8 41.12L446.5 41.16L447.3 41.21L448 41.25L448.8 41.29L449.5 41.32L450.3 41.35L451 41.38L451.8 41.4L452.5 41.43L453.3 41.45L454 41.47L454.8 41.5L455.5 41.53L456.3 41.55L457 41.59L457.8 41.62L458.5 41.66L459.3 41.71L460 41.76L460.8 41.82L461.5 41.88L462.3 41.95L463 42.03L463.8 42.1L464.5 42.19L465.3 42.21L466 42.21L466.8 42.21L467.5 42.21L467.6 42.21L467.59 42.21L292.79 42.21Z" fill="#F8766D"/>
<path d="M292.8 42.21L293.5 42.21L294.3 42.18L295 42.1L295.8 42.03L296.5 41.96L297.3 41.91L298 41.88L298.8 41.84L299.5 41.82L300.3 41.79L301 41.76L301.8 41.74L302.5 41.72L303.3 41.7L304 41.68L304.8 41.67L305.5 41.65L306.3 41.63L307 41.62L307.8 41.6L308.5 41.58L309.3 41.57L310 41.55L310.8 41.53L311.5 41.51L312.3 41.48L313 41.46L313.8 41.43L314.5 41.4L315.3 41.37L316 41.34L316.8 41.31L317.5 41.28L318.3 41.25L319 41.22L319.8 41.19L320.5 41.15L321.3 41.12L322 41.08L322.8 41.05L323.5 41.01L324.3 40.97L325 40.93L325.8 40.89L326.5 40.84L327.3 40.8L328 40.75L328.8 40.7L329.5 40.65L330.3 40.6L331 40.55L331.8 40.49L332.5 40.43L333.3 40.36L334 40.28L334.8 40.2L335.5 40.12L336.3 40.03L337 39.94L337.8 39.85L338.5 39.75L339.3 39.66L340 39.56L340.8 39.46L341.5 39.36L342.3 39.25L343 39.15L343.8 39.05L344.5 38.95L345.3 38.85L346 38.74L346.8 38.64L347.5 38.53L348.3 38.42L349 38.31L349.8 38.19L350.5 38.07L351.3 37.95L352 37.82L352.8 37.68L353.5 37.55L354.3 37.4L355 37.25L355.8 37.09L356.5 36.93L357.3 36.75L358 36.57L358.8 36.38L359.5 36.18L360.3 35.97L361 35.75L361.8 35.51L362.5 35.27L363.3 35.01L364 34.74L364.8 34.45L365.5 34.12L366.3 33.76L367 33.39L367.8 32.99L368.5 32.58L369.3 32.16L370 31.74L370.8 31.3L371.5 30.83L372.3 30.34L373 29.82L373.8 29.3L374.5 28.77L375.3 28.25L376 27.74L376.8 27.26L377.5 26.8L378.3 26.33L379 25.87L379.8 25.4L380.5 24.95L381.3 24.5L382 24.08L382.8 23.68L383.5 23.31L384.3 22.97L385 22.67L385.8 22.41L386.5 22.19L387.3 21.98L388 21.77L388.8 21.56L389.5 21.32L390.3 21.02L391 20.69L391.8 20.42L392.5 20.29L393.3 20.37L394 20.62L394.8 20.98L395.5 21.39L396.3 21.82L397 22.37L397.8 23.03L398.5 23.76L399.3 24.52L400 25.28L400.8 26L401.5 26.73L402.3 27.48L403 28.24L403.8 29.01L404.5 29.77L405.3 30.53L406 31.36L406.8 32.19L407.5 32.99L408.3 33.71L409 34.31L409.8 34.79L410.5 35.24L411.3 35.65L412 36.03L412.8 36.37L413.5 36.66L414.3 36.92L415 37.15L415.8 37.35L416.5 37.54L417.3 37.71L418 37.87L418.8 38.02L419.5 38.16L420.3 38.3L421 38.42L421.8 38.55L422.5 38.66L423.3 38.78L424 38.89L424.8 39L425.5 39.1L426.3 39.2L427 39.3L427.8 39.4L428.5 39.49L429.3 39.58L430 39.66L430.8 39.74L431.5 39.83L432.3 39.91L433 39.98L433.8 40.06L434.5 40.13L435.3 40.21L436 40.28L436.8 40.35L437.5 40.43L438.3 40.5L439 40.57L439.8 40.64L440.5 40.71L441.3 40.77L442 40.84L442.8 40.9L443.5 40.96L444.3 41.01L445 41.07L445.8 41.12L446.5 41.16L447.3 41.21L448 41.25L448.8 41.29L449.5 41.32L450.3 41.35L451 41.38L451.8 41.4L452.5 41.43L453.3 41.45L454 41.47L454.8 41.5L455.5 41.53L456.3 41.55L457 41.59L457.8 41.62L458.5 41.66L459.3 41.71L460 41.76L460.8 41.82L461.5 41.88L462.3 41.95L463 42.03L463.8 42.1L464.5 42.19L465.3 42.21L466 42.21L466.8 42.21L467.5 42.21L467.6 42.21" fill="none" stroke="#0d0d0d" stroke-width="1.15" stroke-linejoin="round"/>
<rect x="284" y="18.2" width="193" height="25.15" fill="none" stroke="#7a7a7a" stroke-width="0.7"/>
<rect x="477" y="18.2" width="11.7" height="25.15" fill="#d9d9d9" stroke="#808080" stroke-width="0.65"/>
<text transform="translate(478.8 30.77) rotate(90)" font-size="7.6" text-anchor="middle" font-family="Liberation Sans, Arial, sans-serif" fill="#0a0a0a" stroke="#0a0a0a" stroke-width="0.2">00-07</text>
<text transform="translate(281.4 44.66) rotate(0.03)" font-size="5.85" text-anchor="end" font-family="Liberation Sans, Arial, sans-serif" fill="#555">0.000</text>
<text transform="translate(281.4 38.46) rotate(0.03)" font-size="5.85" text-anchor="end" font-family="Liberation Sans, Arial, sans-serif" fill="#555">0.025</text>
<text transform="translate(281.4 32.26) rotate(0.03)" font-size="5.85" text-anchor="end" font-family="Liberation Sans, Arial, sans-serif" fill="#555">0.050</text>
<text transform="translate(281.4 26.06) rotate(0.03)" font-size="5.85" text-anchor="end" font-family="Liberation Sans, Arial, sans-serif" fill="#555">0.075</text>
<path d="M282.4 42.21H284M282.4 36.01H284M282.4 29.81H284M282.4 23.61H284" stroke="#4d4d4d" stroke-width="0.5" fill="none"/>
</g>
<g class="facet">
<rect x="284" y="46.37" width="193" height="25.15" fill="#fff"/>
<path d="M292.8 46.37V71.52M331.6 46.37V71.52M370.4 46.37V71.52M409.3 46.37V71.52M448.2 46.37V71.52M284 67.28H477M284 61.08H477M284 54.88H477M284 48.68H477" stroke="#f0f0f0" stroke-width="0.3" fill="none"/>
<path d="M312.2 46.37V71.52M351 46.37V71.52M389.8 46.37V71.52M428.7 46.37V71.52M467.6 46.37V71.52M284 70.38H477M284 64.18H477M284 57.98H477M284 51.78H477" stroke="#e8e8e8" stroke-width="0.55" fill="none"/>
<path d="M292.8 70.11L293.5 70.01L294.3 69.9L295 69.8L295.8 69.7L296.5 69.6L297.3 69.5L298 69.4L298.8 69.31L299.5 69.22L300.3 69.13L301 69.05L301.8 68.96L302.5 68.88L303.3 68.8L304 68.71L304.8 68.63L305.5 68.54L306.3 68.45L307 68.35L307.8 68.25L308.5 68.15L309.3 68.04L310 67.93L310.8 67.81L311.5 67.69L312.3 67.57L313 67.45L313.8 67.32L314.5 67.18L315.3 67.05L316 66.9L316.8 66.76L317.5 66.61L318.3 66.45L319 66.29L319.8 66.12L320.5 65.94L321.3 65.75L322 65.54L322.8 65.33L323.5 65.1L324.3 64.87L325 64.64L325.8 64.42L326.5 64.19L327.3 63.97L328 63.75L328.8 63.52L329.5 63.27L330.3 63.04L331 62.82L331.8 62.62L332.5 62.46L333.3 62.35L334 62.25L334.8 62.18L335.5 62.11L336.3 62.05L337 61.99L337.8 61.93L338.5 61.85L339.3 61.77L340 61.66L340.8 61.54L341.5 61.41L342.3 61.26L343 61.1L343.8 60.94L344.5 60.77L345.3 60.6L346 60.44L346.8 60.27L347.5 60.09L348.3 59.91L349 59.72L349.8 59.53L350.5 59.33L351.3 59.14L352 58.94L352.8 58.75L353.5 58.56L354.3 58.37L355 58.19L355.8 58.01L356.5 57.83L357.3 57.64L358 57.46L358.8 57.28L359.5 57.1L360.3 56.92L361 56.76L361.8 56.6L362.5 56.45L363.3 56.31L364 56.18L364.8 56.05L365.5 55.91L366.3 55.78L367 55.66L367.8 55.54L368.5 55.45L369.3 55.38L370 55.35L370.8 55.34L371.5 55.34L372.3 55.34L373 55.34L373.8 55.34L374.5 55.34L375.3 55.34L376 55.35L376.8 55.4L377.5 55.54L378.3 55.73L379 55.97L379.8 56.24L380.5 56.54L381.3 56.84L382 57.18L382.8 57.64L383.5 58.15L384.3 58.68L385 59.16L385.8 59.63L386.5 60.1L387.3 60.57L388 61.03L388.8 61.48L389.5 61.91L390.3 62.32L391 62.72L391.8 63.11L392.5 63.5L393.3 63.88L394 64.24L394.8 64.59L395.5 64.91L396.3 65.21L397 65.48L397.8 65.74L398.5 65.99L399.3 66.23L400 66.46L400.8 66.67L401.5 66.86L402.3 67.03L403 67.16L403.8 67.26L404.5 67.35L405.3 67.42L406 67.49L406.8 67.55L407.5 67.61L408.3 67.66L409 67.71L409.8 67.75L410.5 67.8L411.3 67.84L412 67.88L412.8 67.93L413.5 67.97L414.3 68.02L415 68.06L415.8 68.1L416.5 68.14L417.3 68.18L418 68.21L418.8 68.25L419.5 68.29L420.3 68.32L421 68.36L421.8 68.39L422.5 68.43L423.3 68.46L424 68.49L424.8 68.53L425.5 68.56L426.3 68.6L427 68.63L427.8 68.67L428.5 68.7L429.3 68.74L430 68.77L430.8 68.8L431.5 68.84L432.3 68.87L433 68.9L433.8 68.94L434.5 68.97L435.3 69L436 69.03L436.8 69.06L437.5 69.09L438.3 69.12L439 69.15L439.8 69.18L440.5 69.21L441.3 69.24L442 69.27L442.8 69.29L443.5 69.32L444.3 69.34L445 69.36L445.8 69.38L446.5 69.41L447.3 69.43L448 69.45L448.8 69.47L449.5 69.5L450.3 69.52L451 69.54L451.8 69.57L452.5 69.6L453.3 69.63L454 69.66L454.8 69.69L455.5 69.73L456.3 69.77L457 69.81L457.8 69.85L458.5 69.89L459.3 69.94L460 69.99L460.8 70.04L461.5 70.09L462.3 70.14L463 70.2L463.8 70.25L464.5 70.31L465.3 70.37L466 70.38L466.8 70.38L467.5 70.38L467.6 70.38L467.59 70.38L292.79 70.38Z" fill="#CD9600"/>
<path d="M292.8 70.11L293.5 70.01L294.3 69.9L295 69.8L295.8 69.7L296.5 69.6L297.3 69.5L298 69.4L298.8 69.31L299.5 69.22L300.3 69.13L301 69.05L301.8 68.96L302.5 68.88L303.3 68.8L304 68.71L304.8 68.63L305.5 68.54L306.3 68.45L307 68.35L307.8 68.25L308.5 68.15L309.3 68.04L310 67.93L310.8 67.81L311.5 67.69L312.3 67.57L313 67.45L313.8 67.32L314.5 67.18L315.3 67.05L316 66.9L316.8 66.76L317.5 66.61L318.3 66.45L319 66.29L319.8 66.12L320.5 65.94L321.3 65.75L322 65.54L322.8 65.33L323.5 65.1L324.3 64.87L325 64.64L325.8 64.42L326.5 64.19L327.3 63.97L328 63.75L328.8 63.52L329.5 63.27L330.3 63.04L331 62.82L331.8 62.62L332.5 62.46L333.3 62.35L334 62.25L334.8 62.18L335.5 62.11L336.3 62.05L337 61.99L337.8 61.93L338.5 61.85L339.3 61.77L340 61.66L340.8 61.54L341.5 61.41L342.3 61.26L343 61.1L343.8 60.94L344.5 60.77L345.3 60.6L346 60.44L346.8 60.27L347.5 60.09L348.3 59.91L349 59.72L349.8 59.53L350.5 59.33L351.3 59.14L352 58.94L352.8 58.75L353.5 58.56L354.3 58.37L355 58.19L355.8 58.01L356.5 57.83L357.3 57.64L358 57.46L358.8 57.28L359.5 57.1L360.3 56.92L361 56.76L361.8 56.6L362.5 56.45L363.3 56.31L364 56.18L364.8 56.05L365.5 55.91L366.3 55.78L367 55.66L367.8 55.54L368.5 55.45L369.3 55.38L370 55.35L370.8 55.34L371.5 55.34L372.3 55.34L373 55.34L373.8 55.34L374.5 55.34L375.3 55.34L376 55.35L376.8 55.4L377.5 55.54L378.3 55.73L379 55.97L379.8 56.24L380.5 56.54L381.3 56.84L382 57.18L382.8 57.64L383.5 58.15L384.3 58.68L385 59.16L385.8 59.63L386.5 60.1L387.3 60.57L388 61.03L388.8 61.48L389.5 61.91L390.3 62.32L391 62.72L391.8 63.11L392.5 63.5L393.3 63.88L394 64.24L394.8 64.59L395.5 64.91L396.3 65.21L397 65.48L397.8 65.74L398.5 65.99L399.3 66.23L400 66.46L400.8 66.67L401.5 66.86L402.3 67.03L403 67.16L403.8 67.26L404.5 67.35L405.3 67.42L406 67.49L406.8 67.55L407.5 67.61L408.3 67.66L409 67.71L409.8 67.75L410.5 67.8L411.3 67.84L412 67.88L412.8 67.93L413.5 67.97L414.3 68.02L415 68.06L415.8 68.1L416.5 68.14L417.3 68.18L418 68.21L418.8 68.25L419.5 68.29L420.3 68.32L421 68.36L421.8 68.39L422.5 68.43L423.3 68.46L424 68.49L424.8 68.53L425.5 68.56L426.3 68.6L427 68.63L427.8 68.67L428.5 68.7L429.3 68.74L430 68.77L430.8 68.8L431.5 68.84L432.3 68.87L433 68.9L433.8 68.94L434.5 68.97L435.3 69L436 69.03L436.8 69.06L437.5 69.09L438.3 69.12L439 69.15L439.8 69.18L440.5 69.21L441.3 69.24L442 69.27L442.8 69.29L443.5 69.32L444.3 69.34L445 69.36L445.8 69.38L446.5 69.41L447.3 69.43L448 69.45L448.8 69.47L449.5 69.5L450.3 69.52L451 69.54L451.8 69.57L452.5 69.6L453.3 69.63L454 69.66L454.8 69.69L455.5 69.73L456.3 69.77L457 69.81L457.8 69.85L458.5 69.89L459.3 69.94L460 69.99L460.8 70.04L461.5 70.09L462.3 70.14L463 70.2L463.8 70.25L464.5 70.31L465.3 70.37L466 70.38L466.8 70.38L467.5 70.38L467.6 70.38" fill="none" stroke="#0d0d0d" stroke-width="1.15" stroke-linejoin="round"/>
<rect x="284" y="46.37" width="193" height="25.15" fill="none" stroke="#7a7a7a" stroke-width="0.7"/>
<rect x="477" y="46.37" width="11.7" height="25.15" fill="#d9d9d9" stroke="#808080" stroke-width="0.65"/>
<text transform="translate(478.8 58.95) rotate(90)" font-size="7.6" text-anchor="middle" font-family="Liberation Sans, Arial, sans-serif" fill="#0a0a0a" stroke="#0a0a0a" stroke-width="0.2">07-09</text>
<text transform="translate(281.4 72.83) rotate(0.03)" font-size="5.85" text-anchor="end" font-family="Liberation Sans, Arial, sans-serif" fill="#555">0.000</text>
<text transform="translate(281.4 66.63) rotate(0.03)" font-size="5.85" text-anchor="end" font-family="Liberation Sans, Arial, sans-serif" fill="#555">0.025</text>
<text transform="translate(281.4 60.43) rotate(0.03)" font-size="5.85" text-anchor="end" font-family="Liberation Sans, Arial, sans-serif" fill="#555">0.050</text>
<text transform="translate(281.4 54.23) rotate(0.03)" font-size="5.85" text-anchor="end" font-family="Liberation Sans, Arial, sans-serif" fill="#555">0.075</text>
<path d="M282.4 70.38H284M282.4 64.18H284M282.4 57.98H284M282.4 51.78H284" stroke="#4d4d4d" stroke-width="0.5" fill="none"/>
</g>
<g class="facet">
<rect x="284" y="74.54" width="193" height="25.15" fill="#fff"/>
<path d="M292.8 74.54V99.69M331.6 74.54V99.69M370.4 74.54V99.69M409.3 74.54V99.69M448.2 74.54V99.69M284 95.45H477M284 89.25H477M284 83.05H477M284 76.85H477" stroke="#f0f0f0" stroke-width="0.3" fill="none"/>
<path d="M312.2 74.54V99.69M351 74.54V99.69M389.8 74.54V99.69M428.7 74.54V99.69M467.6 74.54V99.69M284 98.55H477M284 92.35H477M284 86.15H477M284 79.95H477" stroke="#e8e8e8" stroke-width="0.55" fill="none"/>
<path d="M292.8 98.33L293.5 98.23L294.3 98.12L295 98.02L295.8 97.91L296.5 97.81L297.3 97.72L298 97.62L298.8 97.53L299.5 97.44L300.3 97.35L301 97.26L301.8 97.18L302.5 97.09L303.3 97.01L304 96.92L304.8 96.84L305.5 96.76L306.3 96.68L307 96.6L307.8 96.51L308.5 96.43L309.3 96.35L310 96.26L310.8 96.18L311.5 96.09L312.3 96L313 95.91L313.8 95.82L314.5 95.73L315.3 95.64L316 95.55L316.8 95.46L317.5 95.37L318.3 95.27L319 95.18L319.8 95.09L320.5 95L321.3 94.9L322 94.8L322.8 94.71L323.5 94.61L324.3 94.51L325 94.41L325.8 94.31L326.5 94.2L327.3 94.1L328 93.99L328.8 93.88L329.5 93.77L330.3 93.66L331 93.55L331.8 93.43L332.5 93.31L333.3 93.19L334 93.07L334.8 92.95L335.5 92.83L336.3 92.7L337 92.57L337.8 92.44L338.5 92.31L339.3 92.17L340 92.04L340.8 91.9L341.5 91.76L342.3 91.61L343 91.47L343.8 91.33L344.5 91.18L345.3 91.03L346 90.88L346.8 90.73L347.5 90.57L348.3 90.4L349 90.23L349.8 90.06L350.5 89.88L351.3 89.69L352 89.49L352.8 89.28L353.5 89.06L354.3 88.83L355 88.58L355.8 88.31L356.5 88.03L357.3 87.74L358 87.45L358.8 87.14L359.5 86.84L360.3 86.52L361 86.21L361.8 85.9L362.5 85.56L363.3 85.21L364 84.84L364.8 84.47L365.5 84.09L366.3 83.73L367 83.38L367.8 83.06L368.5 82.76L369.3 82.47L370 82.17L370.8 81.88L371.5 81.6L372.3 81.35L373 81.11L373.8 80.91L374.5 80.74L375.3 80.61L376 80.48L376.8 80.36L377.5 80.25L378.3 80.16L379 80.09L379.8 80.04L380.5 80.04L381.3 80.17L382 80.43L382.8 80.8L383.5 81.24L384.3 81.73L385 82.24L385.8 82.75L386.5 83.25L387.3 83.85L388 84.5L388.8 85.18L389.5 85.87L390.3 86.53L391 87.15L391.8 87.79L392.5 88.44L393.3 89.07L394 89.68L394.8 90.26L395.5 90.79L396.3 91.27L397 91.74L397.8 92.19L398.5 92.61L399.3 93.01L400 93.37L400.8 93.68L401.5 93.95L402.3 94.19L403 94.41L403.8 94.62L404.5 94.81L405.3 94.98L406 95.14L406.8 95.28L407.5 95.4L408.3 95.49L409 95.58L409.8 95.66L410.5 95.74L411.3 95.81L412 95.87L412.8 95.93L413.5 95.99L414.3 96.04L415 96.1L415.8 96.14L416.5 96.19L417.3 96.24L418 96.28L418.8 96.33L419.5 96.38L420.3 96.42L421 96.46L421.8 96.51L422.5 96.55L423.3 96.59L424 96.62L424.8 96.66L425.5 96.7L426.3 96.73L427 96.77L427.8 96.8L428.5 96.84L429.3 96.87L430 96.91L430.8 96.94L431.5 96.97L432.3 97.01L433 97.04L433.8 97.08L434.5 97.11L435.3 97.14L436 97.17L436.8 97.2L437.5 97.24L438.3 97.27L439 97.3L439.8 97.33L440.5 97.36L441.3 97.39L442 97.42L442.8 97.45L443.5 97.48L444.3 97.51L445 97.55L445.8 97.58L446.5 97.61L447.3 97.65L448 97.69L448.8 97.72L449.5 97.76L450.3 97.8L451 97.83L451.8 97.87L452.5 97.91L453.3 97.95L454 97.99L454.8 98.03L455.5 98.07L456.3 98.11L457 98.15L457.8 98.19L458.5 98.24L459.3 98.28L460 98.32L460.8 98.36L461.5 98.41L462.3 98.45L463 98.5L463.8 98.54L464.5 98.55L465.3 98.55L466 98.55L466.8 98.55L467.5 98.55L467.6 98.55L467.59 98.55L292.79 98.55Z" fill="#7CAE00"/>
<path d="M292.8 98.33L293.5 98.23L294.3 98.12L295 98.02L295.8 97.91L296.5 97.81L297.3 97.72L298 97.62L298.8 97.53L299.5 97.44L300.3 97.35L301 97.26L301.8 97.18L302.5 97.09L303.3 97.01L304 96.92L304.8 96.84L305.5 96.76L306.3 96.68L307 96.6L307.8 96.51L308.5 96.43L309.3 96.35L310 96.26L310.8 96.18L311.5 96.09L312.3 96L313 95.91L313.8 95.82L314.5 95.73L315.3 95.64L316 95.55L316.8 95.46L317.5 95.37L318.3 95.27L319 95.18L319.8 95.09L320.5 95L321.3 94.9L322 94.8L322.8 94.71L323.5 94.61L324.3 94.51L325 94.41L325.8 94.31L326.5 94.2L327.3 94.1L328 93.99L328.8 93.88L329.5 93.77L330.3 93.66L331 93.55L331.8 93.43L332.5 93.31L333.3 93.19L334 93.07L334.8 92.95L335.5 92.83L336.3 92.7L337 92.57L337.8 92.44L338.5 92.31L339.3 92.17L340 92.04L340.8 91.9L341.5 91.76L342.3 91.61L343 91.47L343.8 91.33L344.5 91.18L345.3 91.03L346 90.88L346.8 90.73L347.5 90.57L348.3 90.4L349 90.23L349.8 90.06L350.5 89.88L351.3 89.69L352 89.49L352.8 89.28L353.5 89.06L354.3 88.83L355 88.58L355.8 88.31L356.5 88.03L357.3 87.74L358 87.45L358.8 87.14L359.5 86.84L360.3 86.52L361 86.21L361.8 85.9L362.5 85.56L363.3 85.21L364 84.84L364.8 84.47L365.5 84.09L366.3 83.73L367 83.38L367.8 83.06L368.5 82.76L369.3 82.47L370 82.17L370.8 81.88L371.5 81.6L372.3 81.35L373 81.11L373.8 80.91L374.5 80.74L375.3 80.61L376 80.48L376.8 80.36L377.5 80.25L378.3 80.16L379 80.09L379.8 80.04L380.5 80.04L381.3 80.17L382 80.43L382.8 80.8L383.5 81.24L384.3 81.73L385 82.24L385.8 82.75L386.5 83.25L387.3 83.85L388 84.5L388.8 85.18L389.5 85.87L390.3 86.53L391 87.15L391.8 87.79L392.5 88.44L393.3 89.07L394 89.68L394.8 90.26L395.5 90.79L396.3 91.27L397 91.74L397.8 92.19L398.5 92.61L399.3 93.01L400 93.37L400.8 93.68L401.5 93.95L402.3 94.19L403 94.41L403.8 94.62L404.5 94.81L405.3 94.98L406 95.14L406.8 95.28L407.5 95.4L408.3 95.49L409 95.58L409.8 95.66L410.5 95.74L411.3 95.81L412 95.87L412.8 95.93L413.5 95.99L414.3 96.04L415 96.1L415.8 96.14L416.5 96.19L417.3 96.24L418 96.28L418.8 96.33L419.5 96.38L420.3 96.42L421 96.46L421.8 96.51L422.5 96.55L423.3 96.59L424 96.62L424.8 96.66L425.5 96.7L426.3 96.73L427 96.77L427.8 96.8L428.5 96.84L429.3 96.87L430 96.91L430.8 96.94L431.5 96.97L432.3 97.01L433 97.04L433.8 97.08L434.5 97.11L435.3 97.14L436 97.17L436.8 97.2L437.5 97.24L438.3 97.27L439 97.3L439.8 97.33L440.5 97.36L441.3 97.39L442 97.42L442.8 97.45L443.5 97.48L444.3 97.51L445 97.55L445.8 97.58L446.5 97.61L447.3 97.65L448 97.69L448.8 97.72L449.5 97.76L450.3 97.8L451 97.83L451.8 97.87L452.5 97.91L453.3 97.95L454 97.99L454.8 98.03L455.5 98.07L456.3 98.11L457 98.15L457.8 98.19L458.5 98.24L459.3 98.28L460 98.32L460.8 98.36L461.5 98.41L462.3 98.45L463 98.5L463.8 98.54L464.5 98.55L465.3 98.55L466 98.55L466.8 98.55L467.5 98.55L467.6 98.55" fill="none" stroke="#0d0d0d" stroke-width="1.15" stroke-linejoin="round"/>
<rect x="284" y="74.54" width="193" height="25.15" fill="none" stroke="#7a7a7a" stroke-width="0.7"/>
<rect x="477" y="74.54" width="11.7" height="25.15" fill="#d9d9d9" stroke="#808080" stroke-width="0.65"/>
<text transform="translate(478.8 87.12) rotate(90)" font-size="7.6" text-anchor="middle" font-family="Liberation Sans, Arial, sans-serif" fill="#0a0a0a" stroke="#0a0a0a" stroke-width="0.2">09-12</text>
<text transform="translate(281.4 101) rotate(0.03)" font-size="5.85" text-anchor="end" font-family="Liberation Sans, Arial, sans-serif" fill="#555">0.000</text>
<text transform="translate(281.4 94.8) rotate(0.03)" font-size="5.85" text-anchor="end" font-family="Liberation Sans, Arial, sans-serif" fill="#555">0.025</text>
<text transform="translate(281.4 88.6) rotate(0.03)" font-size="5.85" text-anchor="end" font-family="Liberation Sans, Arial, sans-serif" fill="#555">0.050</text>
<text transform="translate(281.4 82.4) rotate(0.03)" font-size="5.85" text-anchor="end" font-family="Liberation Sans, Arial, sans-serif" fill="#555">0.075</text>
<path d="M282.4 98.55H284M282.4 92.35H284M282.4 86.15H284M282.4 79.95H284" stroke="#4d4d4d" stroke-width="0.5" fill="none"/>
</g>
<g class="facet">
<rect x="284" y="102.71" width="193" height="25.15" fill="#fff"/>
<path d="M292.8 102.71V127.86M331.6 102.71V127.86M370.4 102.71V127.86M409.3 102.71V127.86M448.2 102.71V127.86M284 123.62H477M284 117.42H477M284 111.22H477M284 105.02H477" stroke="#f0f0f0" stroke-width="0.3" fill="none"/>
<path d="M312.2 102.71V127.86M351 102.71V127.86M389.8 102.71V127.86M428.7 102.71V127.86M467.6 102.71V127.86M284 126.72H477M284 120.52H477M284 114.32H477M284 108.12H477" stroke="#e8e8e8" stroke-width="0.55" fill="none"/>
<path d="M292.8 126.55L293.5 126.44L294.3 126.34L295 126.23L295.8 126.13L296.5 126.03L297.3 125.93L298 125.84L298.8 125.76L299.5 125.67L300.3 125.59L301 125.51L301.8 125.43L302.5 125.36L303.3 125.28L304 125.21L304.8 125.14L305.5 125.07L306.3 124.99L307 124.92L307.8 124.85L308.5 124.78L309.3 124.71L310 124.64L310.8 124.57L311.5 124.5L312.3 124.42L313 124.35L313.8 124.28L314.5 124.2L315.3 124.13L316 124.06L316.8 123.99L317.5 123.92L318.3 123.86L319 123.79L319.8 123.72L320.5 123.65L321.3 123.58L322 123.51L322.8 123.44L323.5 123.36L324.3 123.28L325 123.21L325.8 123.12L326.5 123.04L327.3 122.95L328 122.86L328.8 122.77L329.5 122.67L330.3 122.57L331 122.46L331.8 122.35L332.5 122.24L333.3 122.13L334 122.01L334.8 121.88L335.5 121.76L336.3 121.63L337 121.5L337.8 121.36L338.5 121.22L339.3 121.08L340 120.94L340.8 120.8L341.5 120.65L342.3 120.5L343 120.34L343.8 120.19L344.5 120.03L345.3 119.87L346 119.7L346.8 119.52L347.5 119.34L348.3 119.15L349 118.96L349.8 118.76L350.5 118.56L351.3 118.35L352 118.14L352.8 117.93L353.5 117.71L354.3 117.49L355 117.27L355.8 117.04L356.5 116.8L357.3 116.55L358 116.3L358.8 116.04L359.5 115.77L360.3 115.5L361 115.23L361.8 114.95L362.5 114.67L363.3 114.39L364 114.11L364.8 113.82L365.5 113.52L366.3 113.22L367 112.91L367.8 112.6L368.5 112.29L369.3 111.99L370 111.7L370.8 111.4L371.5 111.09L372.3 110.77L373 110.44L373.8 110.12L374.5 109.82L375.3 109.56L376 109.34L376.8 109.17L377.5 109.06L378.3 108.95L379 108.85L379.8 108.77L380.5 108.72L381.3 108.7L382 108.72L382.8 108.82L383.5 108.98L384.3 109.18L385 109.39L385.8 109.73L386.5 110.2L387.3 110.78L388 111.4L388.8 112.02L389.5 112.6L390.3 113.18L391 113.77L391.8 114.38L392.5 115L393.3 115.61L394 116.21L394.8 116.85L395.5 117.51L396.3 118.17L397 118.82L397.8 119.41L398.5 119.95L399.3 120.4L400 120.79L400.8 121.17L401.5 121.52L402.3 121.85L403 122.15L403.8 122.43L404.5 122.67L405.3 122.89L406 123.06L406.8 123.22L407.5 123.37L408.3 123.52L409 123.65L409.8 123.77L410.5 123.89L411.3 123.99L412 124.08L412.8 124.17L413.5 124.25L414.3 124.32L415 124.37L415.8 124.43L416.5 124.48L417.3 124.53L418 124.57L418.8 124.61L419.5 124.65L420.3 124.68L421 124.72L421.8 124.75L422.5 124.78L423.3 124.81L424 124.84L424.8 124.88L425.5 124.91L426.3 124.94L427 124.97L427.8 125L428.5 125.04L429.3 125.07L430 125.11L430.8 125.14L431.5 125.17L432.3 125.2L433 125.23L433.8 125.27L434.5 125.3L435.3 125.33L436 125.36L436.8 125.39L437.5 125.42L438.3 125.45L439 125.49L439.8 125.52L440.5 125.55L441.3 125.58L442 125.61L442.8 125.65L443.5 125.68L444.3 125.71L445 125.74L445.8 125.78L446.5 125.81L447.3 125.84L448 125.88L448.8 125.91L449.5 125.94L450.3 125.98L451 126.01L451.8 126.05L452.5 126.08L453.3 126.11L454 126.15L454.8 126.18L455.5 126.22L456.3 126.25L457 126.28L457.8 126.32L458.5 126.35L459.3 126.39L460 126.42L460.8 126.46L461.5 126.49L462.3 126.52L463 126.56L463.8 126.59L464.5 126.63L465.3 126.66L466 126.7L466.8 126.72L467.5 126.72L467.6 126.72L467.59 126.72L292.79 126.72Z" fill="#00BE67"/>
<path d="M292.8 126.55L293.5 126.44L294.3 126.34L295 126.23L295.8 126.13L296.5 126.03L297.3 125.93L298 125.84L298.8 125.76L299.5 125.67L300.3 125.59L301 125.51L301.8 125.43L302.5 125.36L303.3 125.28L304 125.21L304.8 125.14L305.5 125.07L306.3 124.99L307 124.92L307.8 124.85L308.5 124.78L309.3 124.71L310 124.64L310.8 124.57L311.5 124.5L312.3 124.42L313 124.35L313.8 124.28L314.5 124.2L315.3 124.13L316 124.06L316.8 123.99L317.5 123.92L318.3 123.86L319 123.79L319.8 123.72L320.5 123.65L321.3 123.58L322 123.51L322.8 123.44L323.5 123.36L324.3 123.28L325 123.21L325.8 123.12L326.5 123.04L327.3 122.95L328 122.86L328.8 122.77L329.5 122.67L330.3 122.57L331 122.46L331.8 122.35L332.5 122.24L333.3 122.13L334 122.01L334.8 121.88L335.5 121.76L336.3 121.63L337 121.5L337.8 121.36L338.5 121.22L339.3 121.08L340 120.94L340.8 120.8L341.5 120.65L342.3 120.5L343 120.34L343.8 120.19L344.5 120.03L345.3 119.87L346 119.7L346.8 119.52L347.5 119.34L348.3 119.15L349 118.96L349.8 118.76L350.5 118.56L351.3 118.35L352 118.14L352.8 117.93L353.5 117.71L354.3 117.49L355 117.27L355.8 117.04L356.5 116.8L357.3 116.55L358 116.3L358.8 116.04L359.5 115.77L360.3 115.5L361 115.23L361.8 114.95L362.5 114.67L363.3 114.39L364 114.11L364.8 113.82L365.5 113.52L366.3 113.22L367 112.91L367.8 112.6L368.5 112.29L369.3 111.99L370 111.7L370.8 111.4L371.5 111.09L372.3 110.77L373 110.44L373.8 110.12L374.5 109.82L375.3 109.56L376 109.34L376.8 109.17L377.5 109.06L378.3 108.95L379 108.85L379.8 108.77L380.5 108.72L381.3 108.7L382 108.72L382.8 108.82L383.5 108.98L384.3 109.18L385 109.39L385.8 109.73L386.5 110.2L387.3 110.78L388 111.4L388.8 112.02L389.5 112.6L390.3 113.18L391 113.77L391.8 114.38L392.5 115L393.3 115.61L394 116.21L394.8 116.85L395.5 117.51L396.3 118.17L397 118.82L397.8 119.41L398.5 119.95L399.3 120.4L400 120.79L400.8 121.17L401.5 121.52L402.3 121.85L403 122.15L403.8 122.43L404.5 122.67L405.3 122.89L406 123.06L406.8 123.22L407.5 123.37L408.3 123.52L409 123.65L409.8 123.77L410.5 123.89L411.3 123.99L412 124.08L412.8 124.17L413.5 124.25L414.3 124.32L415 124.37L415.8 124.43L416.5 124.48L417.3 124.53L418 124.57L418.8 124.61L419.5 124.65L420.3 124.68L421 124.72L421.8 124.75L422.5 124.78L423.3 124.81L424 124.84L424.8 124.88L425.5 124.91L426.3 124.94L427 124.97L427.8 125L428.5 125.04L429.3 125.07L430 125.11L430.8 125.14L431.5 125.17L432.3 125.2L433 125.23L433.8 125.27L434.5 125.3L435.3 125.33L436 125.36L436.8 125.39L437.5 125.42L438.3 125.45L439 125.49L439.8 125.52L440.5 125.55L441.3 125.58L442 125.61L442.8 125.65L443.5 125.68L444.3 125.71L445 125.74L445.8 125.78L446.5 125.81L447.3 125.84L448 125.88L448.8 125.91L449.5 125.94L450.3 125.98L451 126.01L451.8 126.05L452.5 126.08L453.3 126.11L454 126.15L454.8 126.18L455.5 126.22L456.3 126.25L457 126.28L457.8 126.32L458.5 126.35L459.3 126.39L460 126.42L460.8 126.46L461.5 126.49L462.3 126.52L463 126.56L463.8 126.59L464.5 126.63L465.3 126.66L466 126.7L466.8 126.72L467.5 126.72L467.6 126.72" fill="none" stroke="#0d0d0d" stroke-width="1.15" stroke-linejoin="round"/>
<rect x="284" y="102.71" width="193" height="25.15" fill="none" stroke="#7a7a7a" stroke-width="0.7"/>
<rect x="477" y="102.71" width="11.7" height="25.15" fill="#d9d9d9" stroke="#808080" stroke-width="0.65"/>
<text transform="translate(478.8 115.29) rotate(90)" font-size="7.6" text-anchor="middle" font-family="Liberation Sans, Arial, sans-serif" fill="#0a0a0a" stroke="#0a0a0a" stroke-width="0.2">12-14</text>
<text transform="translate(281.4 129.17) rotate(0.03)" font-size="5.85" text-anchor="end" font-family="Liberation Sans, Arial, sans-serif" fill="#555">0.000</text>
<text transform="translate(281.4 122.97) rotate(0.03)" font-size="5.85" text-anchor="end" font-family="Liberation Sans, Arial, sans-serif" fill="#555">0.025</text>
<text transform="translate(281.4 116.77) rotate(0.03)" font-size="5.85" text-anchor="end" font-family="Liberation Sans, Arial, sans-serif" fill="#555">0.050</text>
<text transform="translate(281.4 110.57) rotate(0.03)" font-size="5.85" text-anchor="end" font-family="Liberation Sans, Arial, sans-serif" fill="#555">0.075</text>
<path d="M282.4 126.72H284M282.4 120.52H284M282.4 114.32H284M282.4 108.12H284" stroke="#4d4d4d" stroke-width="0.5" fill="none"/>
</g>
<g class="facet">
<rect x="284" y="130.88" width="193" height="25.15" fill="#fff"/>
<path d="M292.8 130.88V156.03M331.6 130.88V156.03M370.4 130.88V156.03M409.3 130.88V156.03M448.2 130.88V156.03M284 151.79H477M284 145.59H477M284 139.39H477M284 133.19H477" stroke="#f0f0f0" stroke-width="0.3" fill="none"/>
<path d="M312.2 130.88V156.03M351 130.88V156.03M389.8 130.88V156.03M428.7 130.88V156.03M467.6 130.88V156.03M284 154.89H477M284 148.69H477M284 142.49H477M284 136.29H477" stroke="#e8e8e8" stroke-width="0.55" fill="none"/>
<path d="M292.8 154.78L293.5 154.68L294.3 154.58L295 154.47L295.8 154.37L296.5 154.27L297.3 154.16L298 154.06L298.8 153.96L299.5 153.85L300.3 153.74L301 153.64L301.8 153.53L302.5 153.43L303.3 153.32L304 153.21L304.8 153.1L305.5 153L306.3 152.89L307 152.78L307.8 152.67L308.5 152.56L309.3 152.45L310 152.35L310.8 152.24L311.5 152.13L312.3 152.02L313 151.92L313.8 151.81L314.5 151.7L315.3 151.59L316 151.48L316.8 151.37L317.5 151.26L318.3 151.15L319 151.04L319.8 150.93L320.5 150.82L321.3 150.71L322 150.6L322.8 150.49L323.5 150.38L324.3 150.27L325 150.17L325.8 150.07L326.5 149.96L327.3 149.86L328 149.77L328.8 149.67L329.5 149.58L330.3 149.49L331 149.41L331.8 149.33L332.5 149.26L333.3 149.18L334 149.11L334.8 149.03L335.5 148.96L336.3 148.89L337 148.81L337.8 148.73L338.5 148.65L339.3 148.57L340 148.48L340.8 148.39L341.5 148.3L342.3 148.19L343 148.08L343.8 147.97L344.5 147.84L345.3 147.7L346 147.54L346.8 147.38L347.5 147.2L348.3 147.01L349 146.81L349.8 146.6L350.5 146.39L351.3 146.17L352 145.95L352.8 145.73L353.5 145.49L354.3 145.22L355 144.94L355.8 144.64L356.5 144.33L357.3 144.02L358 143.71L358.8 143.4L359.5 143.11L360.3 142.84L361 142.59L361.8 142.37L362.5 142.17L363.3 141.97L364 141.78L364.8 141.61L365.5 141.44L366.3 141.27L367 141.12L367.8 140.97L368.5 140.82L369.3 140.68L370 140.54L370.8 140.41L371.5 140.28L372.3 140.16L373 140.04L373.8 139.93L374.5 139.82L375.3 139.72L376 139.6L376.8 139.48L377.5 139.36L378.3 139.26L379 139.18L379.8 139.14L380.5 139.13L381.3 139.25L382 139.48L382.8 139.78L383.5 140.11L384.3 140.44L385 140.87L385.8 141.36L386.5 141.89L387.3 142.44L388 142.97L388.8 143.47L389.5 143.99L390.3 144.52L391 145.06L391.8 145.58L392.5 146.09L393.3 146.57L394 147.02L394.8 147.46L395.5 147.91L396.3 148.34L397 148.75L397.8 149.12L398.5 149.45L399.3 149.72L400 149.95L400.8 150.17L401.5 150.38L402.3 150.56L403 150.74L403.8 150.89L404.5 151.04L405.3 151.16L406 151.28L406.8 151.38L407.5 151.48L408.3 151.57L409 151.65L409.8 151.73L410.5 151.81L411.3 151.88L412 151.95L412.8 152.02L413.5 152.08L414.3 152.14L415 152.2L415.8 152.26L416.5 152.32L417.3 152.38L418 152.44L418.8 152.5L419.5 152.55L420.3 152.61L421 152.66L421.8 152.71L422.5 152.76L423.3 152.81L424 152.86L424.8 152.91L425.5 152.95L426.3 153L427 153.05L427.8 153.09L428.5 153.14L429.3 153.18L430 153.23L430.8 153.28L431.5 153.32L432.3 153.37L433 153.41L433.8 153.46L434.5 153.5L435.3 153.54L436 153.59L436.8 153.63L437.5 153.67L438.3 153.72L439 153.76L439.8 153.8L440.5 153.84L441.3 153.88L442 153.93L442.8 153.97L443.5 154.01L444.3 154.05L445 154.09L445.8 154.13L446.5 154.17L447.3 154.21L448 154.25L448.8 154.29L449.5 154.33L450.3 154.37L451 154.41L451.8 154.45L452.5 154.48L453.3 154.52L454 154.56L454.8 154.6L455.5 154.64L456.3 154.67L457 154.71L457.8 154.75L458.5 154.79L459.3 154.82L460 154.86L460.8 154.89L461.5 154.89L462.3 154.89L463 154.89L463.8 154.89L464.5 154.89L465.3 154.89L466 154.89L466.8 154.89L467.5 154.89L467.6 154.89L467.59 154.89L292.79 154.89Z" fill="#00BFC4"/>
<path d="M292.8 154.78L293.5 154.68L294.3 154.58L295 154.47L295.8 154.37L296.5 154.27L297.3 154.16L298 154.06L298.8 153.96L299.5 153.85L300.3 153.74L301 153.64L301.8 153.53L302.5 153.43L303.3 153.32L304 153.21L304.8 153.1L305.5 153L306.3 152.89L307 152.78L307.8 152.67L308.5 152.56L309.3 152.45L310 152.35L310.8 152.24L311.5 152.13L312.3 152.02L313 151.92L313.8 151.81L314.5 151.7L315.3 151.59L316 151.48L316.8 151.37L317.5 151.26L318.3 151.15L319 151.04L319.8 150.93L320.5 150.82L321.3 150.71L322 150.6L322.8 150.49L323.5 150.38L324.3 150.27L325 150.17L325.8 150.07L326.5 149.96L327.3 149.86L328 149.77L328.8 149.67L329.5 149.58L330.3 149.49L331 149.41L331.8 149.33L332.5 149.26L333.3 149.18L334 149.11L334.8 149.03L335.5 148.96L336.3 148.89L337 148.81L337.8 148.73L338.5 148.65L339.3 148.57L340 148.48L340.8 148.39L341.5 148.3L342.3 148.19L343 148.08L343.8 147.97L344.5 147.84L345.3 147.7L346 147.54L346.8 147.38L347.5 147.2L348.3 147.01L349 146.81L349.8 146.6L350.5 146.39L351.3 146.17L352 145.95L352.8 145.73L353.5 145.49L354.3 145.22L355 144.94L355.8 144.64L356.5 144.33L357.3 144.02L358 143.71L358.8 143.4L359.5 143.11L360.3 142.84L361 142.59L361.8 142.37L362.5 142.17L363.3 141.97L364 141.78L364.8 141.61L365.5 141.44L366.3 141.27L367 141.12L367.8 140.97L368.5 140.82L369.3 140.68L370 140.54L370.8 140.41L371.5 140.28L372.3 140.16L373 140.04L373.8 139.93L374.5 139.82L375.3 139.72L376 139.6L376.8 139.48L377.5 139.36L378.3 139.26L379 139.18L379.8 139.14L380.5 139.13L381.3 139.25L382 139.48L382.8 139.78L383.5 140.11L384.3 140.44L385 140.87L385.8 141.36L386.5 141.89L387.3 142.44L388 142.97L388.8 143.47L389.5 143.99L390.3 144.52L391 145.06L391.8 145.58L392.5 146.09L393.3 146.57L394 147.02L394.8 147.46L395.5 147.91L396.3 148.34L397 148.75L397.8 149.12L398.5 149.45L399.3 149.72L400 149.95L400.8 150.17L401.5 150.38L402.3 150.56L403 150.74L403.8 150.89L404.5 151.04L405.3 151.16L406 151.28L406.8 151.38L407.5 151.48L408.3 151.57L409 151.65L409.8 151.73L410.5 151.81L411.3 151.88L412 151.95L412.8 152.02L413.5 152.08L414.3 152.14L415 152.2L415.8 152.26L416.5 152.32L417.3 152.38L418 152.44L418.8 152.5L419.5 152.55L420.3 152.61L421 152.66L421.8 152.71L422.5 152.76L423.3 152.81L424 152.86L424.8 152.91L425.5 152.95L426.3 153L427 153.05L427.8 153.09L428.5 153.14L429.3 153.18L430 153.23L430.8 153.28L431.5 153.32L432.3 153.37L433 153.41L433.8 153.46L434.5 153.5L435.3 153.54L436 153.59L436.8 153.63L437.5 153.67L438.3 153.72L439 153.76L439.8 153.8L440.5 153.84L441.3 153.88L442 153.93L442.8 153.97L443.5 154.01L444.3 154.05L445 154.09L445.8 154.13L446.5 154.17L447.3 154.21L448 154.25L448.8 154.29L449.5 154.33L450.3 154.37L451 154.41L451.8 154.45L452.5 154.48L453.3 154.52L454 154.56L454.8 154.6L455.5 154.64L456.3 154.67L457 154.71L457.8 154.75L458.5 154.79L459.3 154.82L460 154.86L460.8 154.89L461.5 154.89L462.3 154.89L463 154.89L463.8 154.89L464.5 154.89L465.3 154.89L466 154.89L466.8 154.89L467.5 154.89L467.6 154.89" fill="none" stroke="#0d0d0d" stroke-width="1.15" stroke-linejoin="round"/>
<rect x="284" y="130.88" width="193" height="25.15" fill="none" stroke="#7a7a7a" stroke-width="0.7"/>
<rect x="477" y="130.88" width="11.7" height="25.15" fill="#d9d9d9" stroke="#808080" stroke-width="0.65"/>
<text transform="translate(478.8 143.45) rotate(90)" font-size="7.6" text-anchor="middle" font-family="Liberation Sans, Arial, sans-serif" fill="#0a0a0a" stroke="#0a0a0a" stroke-width="0.2">14-16</text>
<text transform="translate(281.4 157.34) rotate(0.03)" font-size="5.85" text-anchor="end" font-family="Liberation Sans, Arial, sans-serif" fill="#555">0.000</text>
<text transform="translate(281.4 151.14) rotate(0.03)" font-size="5.85" text-anchor="end" font-family="Liberation Sans, Arial, sans-serif" fill="#555">0.025</text>
<text transform="translate(281.4 144.94) rotate(0.03)" font-size="5.85" text-anchor="end" font-family="Liberation Sans, Arial, sans-serif" fill="#555">0.050</text>
<text transform="translate(281.4 138.74) rotate(0.03)" font-size="5.85" text-anchor="end" font-family="Liberation Sans, Arial, sans-serif" fill="#555">0.075</text>
<path d="M282.4 154.89H284M282.4 148.69H284M282.4 142.49H284M282.4 136.29H284" stroke="#4d4d4d" stroke-width="0.5" fill="none"/>
</g>
<g class="facet">
<rect x="284" y="159.05" width="193" height="25.15" fill="#fff"/>
<path d="M292.8 159.05V184.2M331.6 159.05V184.2M370.4 159.05V184.2M409.3 159.05V184.2M448.2 159.05V184.2M284 179.96H477M284 173.76H477M284 167.56H477M284 161.36H477" stroke="#f0f0f0" stroke-width="0.3" fill="none"/>
<path d="M312.2 159.05V184.2M351 159.05V184.2M389.8 159.05V184.2M428.7 159.05V184.2M467.6 159.05V184.2M284 183.06H477M284 176.86H477M284 170.66H477M284 164.46H477" stroke="#e8e8e8" stroke-width="0.55" fill="none"/>
<path d="M292.8 183L293.5 182.89L294.3 182.79L295 182.68L295.8 182.58L296.5 182.48L297.3 182.38L298 182.28L298.8 182.19L299.5 182.1L300.3 182.02L301 181.93L301.8 181.85L302.5 181.76L303.3 181.68L304 181.59L304.8 181.51L305.5 181.42L306.3 181.33L307 181.23L307.8 181.13L308.5 181.03L309.3 180.92L310 180.8L310.8 180.68L311.5 180.55L312.3 180.42L313 180.28L313.8 180.14L314.5 180L315.3 179.85L316 179.71L316.8 179.56L317.5 179.41L318.3 179.26L319 179.11L319.8 178.96L320.5 178.81L321.3 178.67L322 178.52L322.8 178.38L323.5 178.24L324.3 178.11L325 177.98L325.8 177.86L326.5 177.73L327.3 177.61L328 177.48L328.8 177.36L329.5 177.24L330.3 177.12L331 177L331.8 176.88L332.5 176.76L333.3 176.64L334 176.51L334.8 176.39L335.5 176.26L336.3 176.13L337 175.99L337.8 175.86L338.5 175.72L339.3 175.58L340 175.44L340.8 175.3L341.5 175.15L342.3 175.01L343 174.86L343.8 174.71L344.5 174.56L345.3 174.41L346 174.25L346.8 174.1L347.5 173.94L348.3 173.78L349 173.62L349.8 173.46L350.5 173.3L351.3 173.13L352 172.97L352.8 172.8L353.5 172.62L354.3 172.45L355 172.27L355.8 172.09L356.5 171.91L357.3 171.73L358 171.54L358.8 171.36L359.5 171.17L360.3 170.98L361 170.79L361.8 170.59L362.5 170.39L363.3 170.18L364 169.96L364.8 169.74L365.5 169.51L366.3 169.29L367 169.07L367.8 168.86L368.5 168.66L369.3 168.47L370 168.3L370.8 168.14L371.5 167.98L372.3 167.81L373 167.64L373.8 167.49L374.5 167.35L375.3 167.24L376 167.16L376.8 167.13L377.5 167.15L378.3 167.28L379 167.48L379.8 167.75L380.5 168.06L381.3 168.39L382 168.83L382.8 169.38L383.5 169.93L384.3 170.51L385 171.09L385.8 171.67L386.5 172.23L387.3 172.74L388 173.24L388.8 173.72L389.5 174.19L390.3 174.64L391 175.08L391.8 175.5L392.5 175.89L393.3 176.27L394 176.65L394.8 177.02L395.5 177.38L396.3 177.71L397 178L397.8 178.26L398.5 178.47L399.3 178.67L400 178.86L400.8 179.04L401.5 179.2L402.3 179.35L403 179.49L403.8 179.62L404.5 179.74L405.3 179.84L406 179.93L406.8 180.01L407.5 180.09L408.3 180.17L409 180.24L409.8 180.3L410.5 180.36L411.3 180.42L412 180.48L412.8 180.53L413.5 180.58L414.3 180.63L415 180.68L415.8 180.72L416.5 180.77L417.3 180.82L418 180.86L418.8 180.9L419.5 180.95L420.3 180.99L421 181.03L421.8 181.06L422.5 181.1L423.3 181.14L424 181.17L424.8 181.21L425.5 181.24L426.3 181.28L427 181.31L427.8 181.35L428.5 181.38L429.3 181.42L430 181.45L430.8 181.48L431.5 181.52L432.3 181.55L433 181.58L433.8 181.62L434.5 181.65L435.3 181.68L436 181.71L436.8 181.74L437.5 181.77L438.3 181.8L439 181.83L439.8 181.87L440.5 181.9L441.3 181.93L442 181.96L442.8 181.99L443.5 182.02L444.3 182.06L445 182.09L445.8 182.13L446.5 182.16L447.3 182.2L448 182.23L448.8 182.27L449.5 182.3L450.3 182.34L451 182.37L451.8 182.41L452.5 182.44L453.3 182.48L454 182.52L454.8 182.55L455.5 182.59L456.3 182.63L457 182.67L457.8 182.7L458.5 182.74L459.3 182.78L460 182.82L460.8 182.86L461.5 182.9L462.3 182.93L463 182.97L463.8 183.01L464.5 183.05L465.3 183.06L466 183.06L466.8 183.06L467.5 183.06L467.6 183.06L467.59 183.06L292.79 183.06Z" fill="#00A9FF"/>
<path d="M292.8 183L293.5 182.89L294.3 182.79L295 182.68L295.8 182.58L296.5 182.48L297.3 182.38L298 182.28L298.8 182.19L299.5 182.1L300.3 182.02L301 181.93L301.8 181.85L302.5 181.76L303.3 181.68L304 181.59L304.8 181.51L305.5 181.42L306.3 181.33L307 181.23L307.8 181.13L308.5 181.03L309.3 180.92L310 180.8L310.8 180.68L311.5 180.55L312.3 180.42L313 180.28L313.8 180.14L314.5 180L315.3 179.85L316 179.71L316.8 179.56L317.5 179.41L318.3 179.26L319 179.11L319.8 178.96L320.5 178.81L321.3 178.67L322 178.52L322.8 178.38L323.5 178.24L324.3 178.11L325 177.98L325.8 177.86L326.5 177.73L327.3 177.61L328 177.48L328.8 177.36L329.5 177.24L330.3 177.12L331 177L331.8 176.88L332.5 176.76L333.3 176.64L334 176.51L334.8 176.39L335.5 176.26L336.3 176.13L337 175.99L337.8 175.86L338.5 175.72L339.3 175.58L340 175.44L340.8 175.3L341.5 175.15L342.3 175.01L343 174.86L343.8 174.71L344.5 174.56L345.3 174.41L346 174.25L346.8 174.1L347.5 173.94L348.3 173.78L349 173.62L349.8 173.46L350.5 173.3L351.3 173.13L352 172.97L352.8 172.8L353.5 172.62L354.3 172.45L355 172.27L355.8 172.09L356.5 171.91L357.3 171.73L358 171.54L358.8 171.36L359.5 171.17L360.3 170.98L361 170.79L361.8 170.59L362.5 170.39L363.3 170.18L364 169.96L364.8 169.74L365.5 169.51L366.3 169.29L367 169.07L367.8 168.86L368.5 168.66L369.3 168.47L370 168.3L370.8 168.14L371.5 167.98L372.3 167.81L373 167.64L373.8 167.49L374.5 167.35L375.3 167.24L376 167.16L376.8 167.13L377.5 167.15L378.3 167.28L379 167.48L379.8 167.75L380.5 168.06L381.3 168.39L382 168.83L382.8 169.38L383.5 169.93L384.3 170.51L385 171.09L385.8 171.67L386.5 172.23L387.3 172.74L388 173.24L388.8 173.72L389.5 174.19L390.3 174.64L391 175.08L391.8 175.5L392.5 175.89L393.3 176.27L394 176.65L394.8 177.02L395.5 177.38L396.3 177.71L397 178L397.8 178.26L398.5 178.47L399.3 178.67L400 178.86L400.8 179.04L401.5 179.2L402.3 179.35L403 179.49L403.8 179.62L404.5 179.74L405.3 179.84L406 179.93L406.8 180.01L407.5 180.09L408.3 180.17L409 180.24L409.8 180.3L410.5 180.36L411.3 180.42L412 180.48L412.8 180.53L413.5 180.58L414.3 180.63L415 180.68L415.8 180.72L416.5 180.77L417.3 180.82L418 180.86L418.8 180.9L419.5 180.95L420.3 180.99L421 181.03L421.8 181.06L422.5 181.1L423.3 181.14L424 181.17L424.8 181.21L425.5 181.24L426.3 181.28L427 181.31L427.8 181.35L428.5 181.38L429.3 181.42L430 181.45L430.8 181.48L431.5 181.52L432.3 181.55L433 181.58L433.8 181.62L434.5 181.65L435.3 181.68L436 181.71L436.8 181.74L437.5 181.77L438.3 181.8L439 181.83L439.8 181.87L440.5 181.9L441.3 181.93L442 181.96L442.8 181.99L443.5 182.02L444.3 182.06L445 182.09L445.8 182.13L446.5 182.16L447.3 182.2L448 182.23L448.8 182.27L449.5 182.3L450.3 182.34L451 182.37L451.8 182.41L452.5 182.44L453.3 182.48L454 182.52L454.8 182.55L455.5 182.59L456.3 182.63L457 182.67L457.8 182.7L458.5 182.74L459.3 182.78L460 182.82L460.8 182.86L461.5 182.9L462.3 182.93L463 182.97L463.8 183.01L464.5 183.05L465.3 183.06L466 183.06L466.8 183.06L467.5 183.06L467.6 183.06" fill="none" stroke="#0d0d0d" stroke-width="1.15" stroke-linejoin="round"/>
<rect x="284" y="159.05" width="193" height="25.15" fill="none" stroke="#7a7a7a" stroke-width="0.7"/>
<rect x="477" y="159.05" width="11.7" height="25.15" fill="#d9d9d9" stroke="#808080" stroke-width="0.65"/>
<text transform="translate(478.8 171.62) rotate(90)" font-size="7.6" text-anchor="middle" font-family="Liberation Sans, Arial, sans-serif" fill="#0a0a0a" stroke="#0a0a0a" stroke-width="0.2">16-19</text>
<text transform="translate(281.4 185.51) rotate(0.03)" font-size="5.85" text-anchor="end" font-family="Liberation Sans, Arial, sans-serif" fill="#555">0.000</text>
<text transform="translate(281.4 179.31) rotate(0.03)" font-size="5.85" text-anchor="end" font-family="Liberation Sans, Arial, sans-serif" fill="#555">0.025</text>
<text transform="translate(281.4 173.11) rotate(0.03)" font-size="5.85" text-anchor="end" font-family="Liberation Sans, Arial, sans-serif" fill="#555">0.050</text>
<text transform="translate(281.4 166.91) rotate(0.03)" font-size="5.85" text-anchor="end" font-family="Liberation Sans, Arial, sans-serif" fill="#555">0.075</text>
<path d="M282.4 183.06H284M282.4 176.86H284M282.4 170.66H284M282.4 164.46H284" stroke="#4d4d4d" stroke-width="0.5" fill="none"/>
</g>
<g class="facet">
<rect x="284" y="187.22" width="193" height="25.15" fill="#fff"/>
<path d="M292.8 187.22V212.37M331.6 187.22V212.37M370.4 187.22V212.37M409.3 187.22V212.37M448.2 187.22V212.37M284 208.13H477M284 201.93H477M284 195.73H477M284 189.53H477" stroke="#f0f0f0" stroke-width="0.3" fill="none"/>
<path d="M312.2 187.22V212.37M351 187.22V212.37M389.8 187.22V212.37M428.7 187.22V212.37M467.6 187.22V212.37M284 211.23H477M284 205.03H477M284 198.83H477M284 192.63H477" stroke="#e8e8e8" stroke-width="0.55" fill="none"/>
<path d="M292.8 211.23L293.5 210.8L294.3 210.75L295 210.73L295.8 210.71L296.5 210.69L297.3 210.67L298 210.66L298.8 210.65L299.5 210.64L300.3 210.64L301 210.63L301.8 210.63L302.5 210.62L303.3 210.62L304 210.62L304.8 210.61L305.5 210.6L306.3 210.6L307 210.58L307.8 210.57L308.5 210.56L309.3 210.54L310 210.52L310.8 210.49L311.5 210.46L312.3 210.43L313 210.4L313.8 210.36L314.5 210.32L315.3 210.28L316 210.24L316.8 210.19L317.5 210.14L318.3 210.09L319 210.04L319.8 209.99L320.5 209.94L321.3 209.88L322 209.83L322.8 209.77L323.5 209.71L324.3 209.66L325 209.6L325.8 209.53L326.5 209.47L327.3 209.39L328 209.32L328.8 209.24L329.5 209.16L330.3 209.08L331 209L331.8 208.91L332.5 208.82L333.3 208.73L334 208.63L334.8 208.54L335.5 208.44L336.3 208.34L337 208.24L337.8 208.14L338.5 208.04L339.3 207.94L340 207.84L340.8 207.73L341.5 207.63L342.3 207.52L343 207.41L343.8 207.3L344.5 207.18L345.3 207.07L346 206.95L346.8 206.82L347.5 206.69L348.3 206.56L349 206.43L349.8 206.29L350.5 206.15L351.3 206L352 205.85L352.8 205.7L353.5 205.54L354.3 205.37L355 205.2L355.8 205.03L356.5 204.85L357.3 204.66L358 204.46L358.8 204.26L359.5 204.04L360.3 203.82L361 203.58L361.8 203.34L362.5 203.08L363.3 202.8L364 202.51L364.8 202.19L365.5 201.84L366.3 201.45L367 201.03L367.8 200.59L368.5 200.12L369.3 199.63L370 199.12L370.8 198.58L371.5 197.96L372.3 197.29L373 196.58L373.8 195.84L374.5 195.1L375.3 194.37L376 193.67L376.8 192.94L377.5 192.18L378.3 191.43L379 190.74L379.8 190.15L380.5 189.71L381.3 189.3L382 188.91L382.8 188.56L383.5 188.29L384.3 188.12L385 188.07L385.8 188.13L386.5 188.26L387.3 188.45L388 188.67L388.8 188.98L389.5 189.49L390.3 190.18L391 190.96L391.8 191.78L392.5 192.59L393.3 193.4L394 194.29L394.8 195.22L395.5 196.17L396.3 197.1L397 197.98L397.8 198.82L398.5 199.66L399.3 200.48L400 201.26L400.8 202.01L401.5 202.69L402.3 203.35L403 204L403.8 204.61L404.5 205.16L405.3 205.63L406 206L406.8 206.31L407.5 206.6L408.3 206.86L409 207.09L409.8 207.31L410.5 207.5L411.3 207.67L412 207.83L412.8 207.96L413.5 208.09L414.3 208.21L415 208.32L415.8 208.42L416.5 208.52L417.3 208.61L418 208.69L418.8 208.77L419.5 208.85L420.3 208.92L421 208.99L421.8 209.05L422.5 209.12L423.3 209.18L424 209.24L424.8 209.29L425.5 209.35L426.3 209.4L427 209.45L427.8 209.5L428.5 209.55L429.3 209.6L430 209.64L430.8 209.69L431.5 209.73L432.3 209.77L433 209.81L433.8 209.85L434.5 209.89L435.3 209.93L436 209.97L436.8 210L437.5 210.04L438.3 210.07L439 210.1L439.8 210.14L440.5 210.17L441.3 210.2L442 210.23L442.8 210.26L443.5 210.29L444.3 210.32L445 210.35L445.8 210.38L446.5 210.41L447.3 210.44L448 210.47L448.8 210.5L449.5 210.53L450.3 210.57L451 210.6L451.8 210.64L452.5 210.67L453.3 210.71L454 210.75L454.8 210.78L455.5 210.82L456.3 210.85L457 210.89L457.8 210.93L458.5 210.97L459.3 211L460 211.04L460.8 211.08L461.5 211.12L462.3 211.16L463 211.19L463.8 211.23L464.5 211.23L465.3 211.23L466 211.23L466.8 211.23L467.5 211.23L467.6 211.23L467.59 211.23L292.79 211.23Z" fill="#C77CFF"/>
<path d="M292.8 211.23L293.5 210.8L294.3 210.75L295 210.73L295.8 210.71L296.5 210.69L297.3 210.67L298 210.66L298.8 210.65L299.5 210.64L300.3 210.64L301 210.63L301.8 210.63L302.5 210.62L303.3 210.62L304 210.62L304.8 210.61L305.5 210.6L306.3 210.6L307 210.58L307.8 210.57L308.5 210.56L309.3 210.54L310 210.52L310.8 210.49L311.5 210.46L312.3 210.43L313 210.4L313.8 210.36L314.5 210.32L315.3 210.28L316 210.24L316.8 210.19L317.5 210.14L318.3 210.09L319 210.04L319.8 209.99L320.5 209.94L321.3 209.88L322 209.83L322.8 209.77L323.5 209.71L324.3 209.66L325 209.6L325.8 209.53L326.5 209.47L327.3 209.39L328 209.32L328.8 209.24L329.5 209.16L330.3 209.08L331 209L331.8 208.91L332.5 208.82L333.3 208.73L334 208.63L334.8 208.54L335.5 208.44L336.3 208.34L337 208.24L337.8 208.14L338.5 208.04L339.3 207.94L340 207.84L340.8 207.73L341.5 207.63L342.3 207.52L343 207.41L343.8 207.3L344.5 207.18L345.3 207.07L346 206.95L346.8 206.82L347.5 206.69L348.3 206.56L349 206.43L349.8 206.29L350.5 206.15L351.3 206L352 205.85L352.8 205.7L353.5 205.54L354.3 205.37L355 205.2L355.8 205.03L356.5 204.85L357.3 204.66L358 204.46L358.8 204.26L359.5 204.04L360.3 203.82L361 203.58L361.8 203.34L362.5 203.08L363.3 202.8L364 202.51L364.8 202.19L365.5 201.84L366.3 201.45L367 201.03L367.8 200.59L368.5 200.12L369.3 199.63L370 199.12L370.8 198.58L371.5 197.96L372.3 197.29L373 196.58L373.8 195.84L374.5 195.1L375.3 194.37L376 193.67L376.8 192.94L377.5 192.18L378.3 191.43L379 190.74L379.8 190.15L380.5 189.71L381.3 189.3L382 188.91L382.8 188.56L383.5 188.29L384.3 188.12L385 188.07L385.8 188.13L386.5 188.26L387.3 188.45L388 188.67L388.8 188.98L389.5 189.49L390.3 190.18L391 190.96L391.8 191.78L392.5 192.59L393.3 193.4L394 194.29L394.8 195.22L395.5 196.17L396.3 197.1L397 197.98L397.8 198.82L398.5 199.66L399.3 200.48L400 201.26L400.8 202.01L401.5 202.69L402.3 203.35L403 204L403.8 204.61L404.5 205.16L405.3 205.63L406 206L406.8 206.31L407.5 206.6L408.3 206.86L409 207.09L409.8 207.31L410.5 207.5L411.3 207.67L412 207.83L412.8 207.96L413.5 208.09L414.3 208.21L415 208.32L415.8 208.42L416.5 208.52L417.3 208.61L418 208.69L418.8 208.77L419.5 208.85L420.3 208.92L421 208.99L421.8 209.05L422.5 209.12L423.3 209.18L424 209.24L424.8 209.29L425.5 209.35L426.3 209.4L427 209.45L427.8 209.5L428.5 209.55L429.3 209.6L430 209.64L430.8 209.69L431.5 209.73L432.3 209.77L433 209.81L433.8 209.85L434.5 209.89L435.3 209.93L436 209.97L436.8 210L437.5 210.04L438.3 210.07L439 210.1L439.8 210.14L440.5 210.17L441.3 210.2L442 210.23L442.8 210.26L443.5 210.29L444.3 210.32L445 210.35L445.8 210.38L446.5 210.41L447.3 210.44L448 210.47L448.8 210.5L449.5 210.53L450.3 210.57L451 210.6L451.8 210.64L452.5 210.67L453.3 210.71L454 210.75L454.8 210.78L455.5 210.82L456.3 210.85L457 210.89L457.8 210.93L458.5 210.97L459.3 211L460 211.04L460.8 211.08L461.5 211.12L462.3 211.16L463 211.19L463.8 211.23L464.5 211.23L465.3 211.23L466 211.23L466.8 211.23L467.5 211.23L467.6 211.23" fill="none" stroke="#0d0d0d" stroke-width="1.15" stroke-linejoin="round"/>
<rect x="284" y="187.22" width="193" height="25.15" fill="none" stroke="#7a7a7a" stroke-width="0.7"/>
<rect x="477" y="187.22" width="11.7" height="25.15" fill="#d9d9d9" stroke="#808080" stroke-width="0.65"/>
<text transform="translate(478.8 199.79) rotate(90)" font-size="7.6" text-anchor="middle" font-family="Liberation Sans, Arial, sans-serif" fill="#0a0a0a" stroke="#0a0a0a" stroke-width="0.2">19-24</text>
<text transform="translate(281.4 213.68) rotate(0.03)" font-size="5.85" text-anchor="end" font-family="Liberation Sans, Arial, sans-serif" fill="#555">0.000</text>
<text transform="translate(281.4 207.48) rotate(0.03)" font-size="5.85" text-anchor="end" font-family="Liberation Sans, Arial, sans-serif" fill="#555">0.025</text>
<text transform="translate(281.4 201.28) rotate(0.03)" font-size="5.85" text-anchor="end" font-family="Liberation Sans, Arial, sans-serif" fill="#555">0.050</text>
<text transform="translate(281.4 195.08) rotate(0.03)" font-size="5.85" text-anchor="end" font-family="Liberation Sans, Arial, sans-serif" fill="#555">0.075</text>
<path d="M282.4 211.23H284M282.4 205.03H284M282.4 198.83H284M282.4 192.63H284" stroke="#4d4d4d" stroke-width="0.5" fill="none"/>
</g>
<g class="facet">
<rect x="284" y="215.39" width="193" height="25.15" fill="#fff"/>
<path d="M292.8 215.39V240.54M331.6 215.39V240.54M370.4 215.39V240.54M409.3 215.39V240.54M448.2 215.39V240.54M284 236.3H477M284 230.1H477M284 223.9H477M284 217.7H477" stroke="#f0f0f0" stroke-width="0.3" fill="none"/>
<path d="M312.2 215.39V240.54M351 215.39V240.54M389.8 215.39V240.54M428.7 215.39V240.54M467.6 215.39V240.54M284 239.4H477M284 233.2H477M284 227H477M284 220.8H477" stroke="#e8e8e8" stroke-width="0.55" fill="none"/>
<path d="M292.8 239.4L293.5 239.4L294.3 239.4L295 239.4L295.8 239.4L296.5 239.4L297.3 239.4L298 239.4L298.8 239.36L299.5 239.32L300.3 239.27L301 239.22L301.8 239.17L302.5 239.12L303.3 239.06L304 239.01L304.8 238.95L305.5 238.89L306.3 238.83L307 238.76L307.8 238.69L308.5 238.62L309.3 238.54L310 238.47L310.8 238.39L311.5 238.31L312.3 238.22L313 238.14L313.8 238.06L314.5 237.97L315.3 237.89L316 237.8L316.8 237.72L317.5 237.63L318.3 237.54L319 237.45L319.8 237.36L320.5 237.26L321.3 237.17L322 237.07L322.8 236.98L323.5 236.88L324.3 236.78L325 236.68L325.8 236.58L326.5 236.48L327.3 236.38L328 236.27L328.8 236.17L329.5 236.07L330.3 235.96L331 235.86L331.8 235.76L332.5 235.66L333.3 235.56L334 235.46L334.8 235.36L335.5 235.26L336.3 235.16L337 235.06L337.8 234.95L338.5 234.84L339.3 234.73L340 234.62L340.8 234.5L341.5 234.37L342.3 234.24L343 234.1L343.8 233.95L344.5 233.8L345.3 233.63L346 233.45L346.8 233.25L347.5 233.05L348.3 232.84L349 232.62L349.8 232.38L350.5 232.14L351.3 231.9L352 231.65L352.8 231.39L353.5 231.12L354.3 230.86L355 230.59L355.8 230.3L356.5 230L357.3 229.69L358 229.36L358.8 229.02L359.5 228.68L360.3 228.32L361 227.96L361.8 227.6L362.5 227.24L363.3 226.88L364 226.52L364.8 226.16L365.5 225.79L366.3 225.42L367 225.04L367.8 224.66L368.5 224.28L369.3 223.89L370 223.52L370.8 223.14L371.5 222.74L372.3 222.33L373 221.92L373.8 221.51L374.5 221.12L375.3 220.75L376 220.41L376.8 220.11L377.5 219.84L378.3 219.57L379 219.29L379.8 219.04L380.5 218.81L381.3 218.64L382 218.53L382.8 218.49L383.5 218.54L384.3 218.68L385 218.87L385.8 219.11L386.5 219.37L387.3 219.66L388 220.04L388.8 220.54L389.5 221.12L390.3 221.77L391 222.45L391.8 223.14L392.5 223.92L393.3 224.79L394 225.71L394.8 226.64L395.5 227.52L396.3 228.34L397 229.16L397.8 229.98L398.5 230.77L399.3 231.49L400 232.14L400.8 232.69L401.5 233.21L402.3 233.7L403 234.15L403.8 234.57L404.5 234.94L405.3 235.26L406 235.52L406.8 235.76L407.5 235.98L408.3 236.19L409 236.38L409.8 236.55L410.5 236.7L411.3 236.84L412 236.95L412.8 237.05L413.5 237.13L414.3 237.22L415 237.29L415.8 237.36L416.5 237.43L417.3 237.49L418 237.55L418.8 237.6L419.5 237.65L420.3 237.7L421 237.75L421.8 237.79L422.5 237.84L423.3 237.88L424 237.92L424.8 237.96L425.5 238L426.3 238.04L427 238.07L427.8 238.1L428.5 238.14L429.3 238.17L430 238.2L430.8 238.23L431.5 238.26L432.3 238.29L433 238.32L433.8 238.34L434.5 238.37L435.3 238.4L436 238.43L436.8 238.46L437.5 238.49L438.3 238.52L439 238.56L439.8 238.59L440.5 238.62L441.3 238.66L442 238.69L442.8 238.72L443.5 238.76L444.3 238.79L445 238.82L445.8 238.86L446.5 238.89L447.3 238.93L448 238.96L448.8 238.99L449.5 239.03L450.3 239.06L451 239.1L451.8 239.13L452.5 239.17L453.3 239.2L454 239.23L454.8 239.27L455.5 239.3L456.3 239.34L457 239.37L457.8 239.4L458.5 239.4L459.3 239.4L460 239.4L460.8 239.4L461.5 239.4L462.3 239.4L463 239.4L463.8 239.4L464.5 239.4L465.3 239.4L466 239.4L466.8 239.4L467.5 239.4L467.6 239.4L467.59 239.4L292.79 239.4Z" fill="#FF61CC"/>
<path d="M292.8 239.4L293.5 239.4L294.3 239.4L295 239.4L295.8 239.4L296.5 239.4L297.3 239.4L298 239.4L298.8 239.36L299.5 239.32L300.3 239.27L301 239.22L301.8 239.17L302.5 239.12L303.3 239.06L304 239.01L304.8 238.95L305.5 238.89L306.3 238.83L307 238.76L307.8 238.69L308.5 238.62L309.3 238.54L310 238.47L310.8 238.39L311.5 238.31L312.3 238.22L313 238.14L313.8 238.06L314.5 237.97L315.3 237.89L316 237.8L316.8 237.72L317.5 237.63L318.3 237.54L319 237.45L319.8 237.36L320.5 237.26L321.3 237.17L322 237.07L322.8 236.98L323.5 236.88L324.3 236.78L325 236.68L325.8 236.58L326.5 236.48L327.3 236.38L328 236.27L328.8 236.17L329.5 236.07L330.3 235.96L331 235.86L331.8 235.76L332.5 235.66L333.3 235.56L334 235.46L334.8 235.36L335.5 235.26L336.3 235.16L337 235.06L337.8 234.95L338.5 234.84L339.3 234.73L340 234.62L340.8 234.5L341.5 234.37L342.3 234.24L343 234.1L343.8 233.95L344.5 233.8L345.3 233.63L346 233.45L346.8 233.25L347.5 233.05L348.3 232.84L349 232.62L349.8 232.38L350.5 232.14L351.3 231.9L352 231.65L352.8 231.39L353.5 231.12L354.3 230.86L355 230.59L355.8 230.3L356.5 230L357.3 229.69L358 229.36L358.8 229.02L359.5 228.68L360.3 228.32L361 227.96L361.8 227.6L362.5 227.24L363.3 226.88L364 226.52L364.8 226.16L365.5 225.79L366.3 225.42L367 225.04L367.8 224.66L368.5 224.28L369.3 223.89L370 223.52L370.8 223.14L371.5 222.74L372.3 222.33L373 221.92L373.8 221.51L374.5 221.12L375.3 220.75L376 220.41L376.8 220.11L377.5 219.84L378.3 219.57L379 219.29L379.8 219.04L380.5 218.81L381.3 218.64L382 218.53L382.8 218.49L383.5 218.54L384.3 218.68L385 218.87L385.8 219.11L386.5 219.37L387.3 219.66L388 220.04L388.8 220.54L389.5 221.12L390.3 221.77L391 222.45L391.8 223.14L392.5 223.92L393.3 224.79L394 225.71L394.8 226.64L395.5 227.52L396.3 228.34L397 229.16L397.8 229.98L398.5 230.77L399.3 231.49L400 232.14L400.8 232.69L401.5 233.21L402.3 233.7L403 234.15L403.8 234.57L404.5 234.94L405.3 235.26L406 235.52L406.8 235.76L407.5 235.98L408.3 236.19L409 236.38L409.8 236.55L410.5 236.7L411.3 236.84L412 236.95L412.8 237.05L413.5 237.13L414.3 237.22L415 237.29L415.8 237.36L416.5 237.43L417.3 237.49L418 237.55L418.8 237.6L419.5 237.65L420.3 237.7L421 237.75L421.8 237.79L422.5 237.84L423.3 237.88L424 237.92L424.8 237.96L425.5 238L426.3 238.04L427 238.07L427.8 238.1L428.5 238.14L429.3 238.17L430 238.2L430.8 238.23L431.5 238.26L432.3 238.29L433 238.32L433.8 238.34L434.5 238.37L435.3 238.4L436 238.43L436.8 238.46L437.5 238.49L438.3 238.52L439 238.56L439.8 238.59L440.5 238.62L441.3 238.66L442 238.69L442.8 238.72L443.5 238.76L444.3 238.79L445 238.82L445.8 238.86L446.5 238.89L447.3 238.93L448 238.96L448.8 238.99L449.5 239.03L450.3 239.06L451 239.1L451.8 239.13L452.5 239.17L453.3 239.2L454 239.23L454.8 239.27L455.5 239.3L456.3 239.34L457 239.37L457.8 239.4L458.5 239.4L459.3 239.4L460 239.4L460.8 239.4L461.5 239.4L462.3 239.4L463 239.4L463.8 239.4L464.5 239.4L465.3 239.4L466 239.4L466.8 239.4L467.5 239.4L467.6 239.4" fill="none" stroke="#0d0d0d" stroke-width="1.15" stroke-linejoin="round"/>
<rect x="284" y="215.39" width="193" height="25.15" fill="none" stroke="#7a7a7a" stroke-width="0.7"/>
<rect x="477" y="215.39" width="11.7" height="25.15" fill="#d9d9d9" stroke="#808080" stroke-width="0.65"/>
<text transform="translate(478.8 227.96) rotate(90)" font-size="7.6" text-anchor="middle" font-family="Liberation Sans, Arial, sans-serif" fill="#0a0a0a" stroke="#0a0a0a" stroke-width="0.2">Annual</text>
<text transform="translate(281.4 241.85) rotate(0.03)" font-size="5.85" text-anchor="end" font-family="Liberation Sans, Arial, sans-serif" fill="#555">0.000</text>
<text transform="translate(281.4 235.65) rotate(0.03)" font-size="5.85" text-anchor="end" font-family="Liberation Sans, Arial, sans-serif" fill="#555">0.025</text>
<text transform="translate(281.4 229.45) rotate(0.03)" font-size="5.85" text-anchor="end" font-family="Liberation Sans, Arial, sans-serif" fill="#555">0.050</text>
<text transform="translate(281.4 223.25) rotate(0.03)" font-size="5.85" text-anchor="end" font-family="Liberation Sans, Arial, sans-serif" fill="#555">0.075</text>
<path d="M282.4 239.4H284M282.4 233.2H284M282.4 227H284M282.4 220.8H284" stroke="#4d4d4d" stroke-width="0.5" fill="none"/>
</g>
<text transform="translate(312.2 249.04) rotate(0.03)" font-size="6.4" text-anchor="middle" font-family="Liberation Sans, Arial, sans-serif" fill="#555">10</text>
<text transform="translate(351 249.04) rotate(0.03)" font-size="6.4" text-anchor="middle" font-family="Liberation Sans, Arial, sans-serif" fill="#555">20</text>
<text transform="translate(389.8 249.04) rotate(0.03)" font-size="6.4" text-anchor="middle" font-family="Liberation Sans, Arial, sans-serif" fill="#555">30</text>
<text transform="translate(428.7 249.04) rotate(0.03)" font-size="6.4" text-anchor="middle" font-family="Liberation Sans, Arial, sans-serif" fill="#555">40</text>
<text transform="translate(467.6 249.04) rotate(0.03)" font-size="6.4" text-anchor="middle" font-family="Liberation Sans, Arial, sans-serif" fill="#555">50</text>
<path d="M312.2 240.54v1.6M351 240.54v1.6M389.8 240.54v1.6M428.7 240.54v1.6M467.6 240.54v1.6" stroke="#4d4d4d" stroke-width="0.5" fill="none"/>
<text x="380.5" y="257.74" font-size="8.45" text-anchor="middle" font-family="Liberation Sans, Arial, sans-serif" fill="#000" stroke="#000" stroke-width="0.12">Traffic Noise, (dB)</text>
<text transform="translate(264.4 129.37) rotate(-90)" font-size="8.5" text-anchor="middle" font-family="Liberation Sans, Arial, sans-serif" fill="#000" stroke="#000" stroke-width="0.12">Density</text>
<text x="373.5" y="273.1" font-size="9.6" font-weight="bold" text-anchor="middle" font-family="Liberation Serif, Times New Roman, serif" fill="#111">(b)</text>
</g>
<g id="panel-c">
<rect x="6.4" y="275.5" width="236.4" height="255.9" fill="#fff" stroke="#505050" stroke-width="0.85"/>
<text x="130.35" y="283.8" font-size="7.1" text-anchor="middle" font-family="Liberation Sans, Arial, sans-serif" fill="#000" stroke="#000" stroke-width="0.1">Trunk Roads</text>
<g class="facet">
<rect x="32" y="288.3" width="196.7" height="25.15" fill="#fff"/>
<path d="M53.6 288.3V313.45M104.6 288.3V313.45M155.6 288.3V313.45M206.6 288.3V313.45M32 308.31H228.7M32 300.31H228.7M32 292.31H228.7" stroke="#f0f0f0" stroke-width="0.3" fill="none"/>
<path d="M79.1 288.3V313.45M130.1 288.3V313.45M181.1 288.3V313.45M32 312.31H228.7M32 304.31H228.7M32 296.31H228.7" stroke="#e8e8e8" stroke-width="0.55" fill="none"/>
<path d="M41 312.31L41.8 312.31L42.5 312.27L43.3 312.24L44 312.2L44.8 312.16L45.5 312.11L46.3 312.07L47 312.02L47.8 311.98L48.5 311.93L49.3 311.88L50 311.82L50.8 311.77L51.5 311.71L52.3 311.66L53 311.6L53.8 311.54L54.5 311.47L55.3 311.41L56 311.34L56.8 311.27L57.5 311.19L58.3 311.12L59 311.04L59.8 310.96L60.5 310.87L61.3 310.79L62 310.7L62.8 310.61L63.5 310.52L64.3 310.42L65 310.31L65.8 310.21L66.5 310.09L67.3 309.98L68 309.86L68.8 309.74L69.5 309.61L70.3 309.48L71 309.35L71.8 309.22L72.5 309.09L73.3 308.96L74 308.82L74.8 308.69L75.5 308.56L76.3 308.43L77 308.3L77.8 308.16L78.5 308.03L79.3 307.88L80 307.73L80.8 307.57L81.5 307.4L82.3 307.21L83 307.02L83.8 306.8L84.5 306.56L85.3 306.3L86 306.02L86.8 305.72L87.5 305.39L88.3 305.04L89 304.66L89.8 304.26L90.5 303.8L91.3 303.26L92 302.68L92.8 302.05L93.5 301.39L94.3 300.7L95 300L95.8 299.26L96.5 298.44L97.3 297.56L98 296.67L98.8 295.77L99.5 294.91L100.3 294.1L101 293.33L101.8 292.54L102.5 291.75L103.3 291.02L104 290.4L104.8 289.93L105.5 289.61L106.3 289.33L107 289.19L107.8 289.26L108.5 289.51L109.3 289.87L110 290.27L110.8 290.68L111.5 291.19L112.3 291.78L113 292.42L113.8 293.03L114.5 293.59L115.3 294.06L116 294.52L116.8 294.97L117.5 295.37L118.3 295.71L119 295.96L119.8 296.11L120.5 296.2L121.3 296.28L122 296.37L122.8 296.5L123.5 296.74L124.3 297.07L125 297.46L125.8 297.91L126.5 298.37L127.3 298.84L128 299.4L128.8 300.05L129.5 300.76L130.3 301.51L131 302.27L131.8 303.02L132.5 303.74L133.3 304.39L134 304.96L134.8 305.43L135.5 305.79L136.3 306.13L137 306.43L137.8 306.71L138.5 306.96L139.3 307.19L140 307.39L140.8 307.57L141.5 307.74L142.3 307.9L143 308.05L143.8 308.2L144.5 308.32L145.3 308.43L146 308.52L146.8 308.57L147.5 308.61L148.3 308.64L149 308.67L149.8 308.7L150.5 308.72L151.3 308.74L152 308.76L152.8 308.78L153.5 308.79L154.3 308.8L155 308.81L155.8 308.81L156.5 308.81L157.3 308.79L158 308.78L158.8 308.75L159.5 308.73L160.3 308.7L161 308.67L161.8 308.65L162.5 308.62L163.3 308.6L164 308.59L164.8 308.59L165.5 308.61L166.3 308.66L167 308.73L167.8 308.82L168.5 308.93L169.3 309.05L170 309.17L170.8 309.29L171.5 309.42L172.3 309.53L173 309.63L173.8 309.72L174.5 309.8L175.3 309.88L176 309.96L176.8 310.04L177.5 310.11L178.3 310.19L179 310.26L179.8 310.33L180.5 310.4L181.3 310.48L182 310.55L182.8 310.62L183.5 310.69L184.3 310.77L185 310.84L185.8 310.92L186.5 310.99L187.3 311.07L188 311.14L188.8 311.22L189.5 311.29L190.3 311.37L191 311.44L191.8 311.52L192.5 311.59L193.3 311.67L194 311.74L194.8 311.82L195.5 311.89L196.3 311.98L197 312.07L197.8 312.16L198.5 312.24L199.3 312.31L200 312.31L200.8 312.31L201.5 312.31L202.3 312.31L203 312.31L203.8 312.31L204.5 312.31L205.3 312.31L206 312.31L206.8 312.31L207.5 312.31L208.3 312.31L209 312.31L209.8 312.31L210.5 312.31L211.3 312.31L212 312.31L212.8 312.31L213.5 312.31L214.3 312.31L215 312.31L215.8 312.31L216.5 312.31L217.3 312.31L218 312.31L218.7 312.31L218.69 312.31L41.02 312.31Z" fill="#F8766D"/>
<path d="M41 312.31L41.8 312.31L42.5 312.27L43.3 312.24L44 312.2L44.8 312.16L45.5 312.11L46.3 312.07L47 312.02L47.8 311.98L48.5 311.93L49.3 311.88L50 311.82L50.8 311.77L51.5 311.71L52.3 311.66L53 311.6L53.8 311.54L54.5 311.47L55.3 311.41L56 311.34L56.8 311.27L57.5 311.19L58.3 311.12L59 311.04L59.8 310.96L60.5 310.87L61.3 310.79L62 310.7L62.8 310.61L63.5 310.52L64.3 310.42L65 310.31L65.8 310.21L66.5 310.09L67.3 309.98L68 309.86L68.8 309.74L69.5 309.61L70.3 309.48L71 309.35L71.8 309.22L72.5 309.09L73.3 308.96L74 308.82L74.8 308.69L75.5 308.56L76.3 308.43L77 308.3L77.8 308.16L78.5 308.03L79.3 307.88L80 307.73L80.8 307.57L81.5 307.4L82.3 307.21L83 307.02L83.8 306.8L84.5 306.56L85.3 306.3L86 306.02L86.8 305.72L87.5 305.39L88.3 305.04L89 304.66L89.8 304.26L90.5 303.8L91.3 303.26L92 302.68L92.8 302.05L93.5 301.39L94.3 300.7L95 300L95.8 299.26L96.5 298.44L97.3 297.56L98 296.67L98.8 295.77L99.5 294.91L100.3 294.1L101 293.33L101.8 292.54L102.5 291.75L103.3 291.02L104 290.4L104.8 289.93L105.5 289.61L106.3 289.33L107 289.19L107.8 289.26L108.5 289.51L109.3 289.87L110 290.27L110.8 290.68L111.5 291.19L112.3 291.78L113 292.42L113.8 293.03L114.5 293.59L115.3 294.06L116 294.52L116.8 294.97L117.5 295.37L118.3 295.71L119 295.96L119.8 296.11L120.5 296.2L121.3 296.28L122 296.37L122.8 296.5L123.5 296.74L124.3 297.07L125 297.46L125.8 297.91L126.5 298.37L127.3 298.84L128 299.4L128.8 300.05L129.5 300.76L130.3 301.51L131 302.27L131.8 303.02L132.5 303.74L133.3 304.39L134 304.96L134.8 305.43L135.5 305.79L136.3 306.13L137 306.43L137.8 306.71L138.5 306.96L139.3 307.19L140 307.39L140.8 307.57L141.5 307.74L142.3 307.9L143 308.05L143.8 308.2L144.5 308.32L145.3 308.43L146 308.52L146.8 308.57L147.5 308.61L148.3 308.64L149 308.67L149.8 308.7L150.5 308.72L151.3 308.74L152 308.76L152.8 308.78L153.5 308.79L154.3 308.8L155 308.81L155.8 308.81L156.5 308.81L157.3 308.79L158 308.78L158.8 308.75L159.5 308.73L160.3 308.7L161 308.67L161.8 308.65L162.5 308.62L163.3 308.6L164 308.59L164.8 308.59L165.5 308.61L166.3 308.66L167 308.73L167.8 308.82L168.5 308.93L169.3 309.05L170 309.17L170.8 309.29L171.5 309.42L172.3 309.53L173 309.63L173.8 309.72L174.5 309.8L175.3 309.88L176 309.96L176.8 310.04L177.5 310.11L178.3 310.19L179 310.26L179.8 310.33L180.5 310.4L181.3 310.48L182 310.55L182.8 310.62L183.5 310.69L184.3 310.77L185 310.84L185.8 310.92L186.5 310.99L187.3 311.07L188 311.14L188.8 311.22L189.5 311.29L190.3 311.37L191 311.44L191.8 311.52L192.5 311.59L193.3 311.67L194 311.74L194.8 311.82L195.5 311.89L196.3 311.98L197 312.07L197.8 312.16L198.5 312.24L199.3 312.31L200 312.31L200.8 312.31L201.5 312.31L202.3 312.31L203 312.31L203.8 312.31L204.5 312.31L205.3 312.31L206 312.31L206.8 312.31L207.5 312.31L208.3 312.31L209 312.31L209.8 312.31L210.5 312.31L211.3 312.31L212 312.31L212.8 312.31L213.5 312.31L214.3 312.31L215 312.31L215.8 312.31L216.5 312.31L217.3 312.31L218 312.31L218.7 312.31" fill="none" stroke="#0d0d0d" stroke-width="1.15" stroke-linejoin="round"/>
<rect x="32" y="288.3" width="196.7" height="25.15" fill="none" stroke="#7a7a7a" stroke-width="0.7"/>
<rect x="228.7" y="288.3" width="12" height="25.15" fill="#d9d9d9" stroke="#808080" stroke-width="0.65"/>
<text transform="translate(230.5 300.88) rotate(90)" font-size="7.6" text-anchor="middle" font-family="Liberation Sans, Arial, sans-serif" fill="#0a0a0a" stroke="#0a0a0a" stroke-width="0.2">00-07</text>
<text transform="translate(29.4 314.76) rotate(0.03)" font-size="5.85" text-anchor="end" font-family="Liberation Sans, Arial, sans-serif" fill="#555">0.00</text>
<text transform="translate(29.4 306.76) rotate(0.03)" font-size="5.85" text-anchor="end" font-family="Liberation Sans, Arial, sans-serif" fill="#555">0.02</text>
<text transform="translate(29.4 298.76) rotate(0.03)" font-size="5.85" text-anchor="end" font-family="Liberation Sans, Arial, sans-serif" fill="#555">0.04</text>
<path d="M30.4 312.31H32M30.4 304.31H32M30.4 296.31H32" stroke="#4d4d4d" stroke-width="0.5" fill="none"/>
</g>
<g class="facet">
<rect x="32" y="316.47" width="196.7" height="25.15" fill="#fff"/>
<path d="M53.6 316.47V341.62M104.6 316.47V341.62M155.6 316.47V341.62M206.6 316.47V341.62M32 336.48H228.7M32 328.48H228.7M32 320.48H228.7" stroke="#f0f0f0" stroke-width="0.3" fill="none"/>
<path d="M79.1 316.47V341.62M130.1 316.47V341.62M181.1 316.47V341.62M32 340.48H228.7M32 332.48H228.7M32 324.48H228.7" stroke="#e8e8e8" stroke-width="0.55" fill="none"/>
<path d="M41 340.11L41.8 340.04L42.5 339.94L43.3 339.84L44 339.71L44.8 339.58L45.5 339.44L46.3 339.27L47 339.08L47.8 338.87L48.5 338.65L49.3 338.41L50 338.16L50.8 337.91L51.5 337.65L52.3 337.39L53 337.12L53.8 336.84L54.5 336.55L55.3 336.26L56 335.95L56.8 335.64L57.5 335.33L58.3 335.01L59 334.7L59.8 334.39L60.5 334.08L61.3 333.78L62 333.47L62.8 333.16L63.5 332.85L64.3 332.54L65 332.23L65.8 331.92L66.5 331.61L67.3 331.32L68 331.02L68.8 330.74L69.5 330.47L70.3 330.21L71 329.97L71.8 329.74L72.5 329.51L73.3 329.29L74 329.07L74.8 328.85L75.5 328.62L76.3 328.38L77 328.12L77.8 327.85L78.5 327.54L79.3 327.22L80 326.87L80.8 326.53L81.5 326.18L82.3 325.84L83 325.51L83.8 325.21L84.5 324.93L85.3 324.63L86 324.33L86.8 324.05L87.5 323.79L88.3 323.57L89 323.42L89.8 323.34L90.5 323.28L91.3 323.23L92 323.19L92.8 323.16L93.5 323.14L94.3 323.15L95 323.24L95.8 323.41L96.5 323.63L97.3 323.88L98 324.14L98.8 324.39L99.5 324.68L100.3 325.02L101 325.38L101.8 325.77L102.5 326.16L103.3 326.54L104 326.91L104.8 327.25L105.5 327.56L106.3 327.87L107 328.18L107.8 328.48L108.5 328.78L109.3 329.07L110 329.35L110.8 329.62L111.5 329.89L112.3 330.15L113 330.4L113.8 330.63L114.5 330.86L115.3 331.08L116 331.29L116.8 331.49L117.5 331.69L118.3 331.89L119 332.07L119.8 332.26L120.5 332.44L121.3 332.63L122 332.81L122.8 332.99L123.5 333.18L124.3 333.37L125 333.56L125.8 333.76L126.5 333.96L127.3 334.17L128 334.37L128.8 334.59L129.5 334.8L130.3 335.01L131 335.22L131.8 335.44L132.5 335.64L133.3 335.85L134 336.05L134.8 336.25L135.5 336.44L136.3 336.62L137 336.8L137.8 336.96L138.5 337.12L139.3 337.27L140 337.4L140.8 337.53L141.5 337.65L142.3 337.78L143 337.91L143.8 338.03L144.5 338.15L145.3 338.26L146 338.36L146.8 338.44L147.5 338.51L148.3 338.55L149 338.57L149.8 338.57L150.5 338.57L151.3 338.56L152 338.54L152.8 338.53L153.5 338.51L154.3 338.49L155 338.46L155.8 338.44L156.5 338.41L157.3 338.38L158 338.35L158.8 338.31L159.5 338.25L160.3 338.16L161 338.07L161.8 337.97L162.5 337.86L163.3 337.76L164 337.66L164.8 337.58L165.5 337.52L166.3 337.48L167 337.47L167.8 337.47L168.5 337.49L169.3 337.51L170 337.53L170.8 337.56L171.5 337.59L172.3 337.63L173 337.66L173.8 337.71L174.5 337.77L175.3 337.85L176 337.95L176.8 338.07L177.5 338.19L178.3 338.32L179 338.46L179.8 338.6L180.5 338.73L181.3 338.86L182 338.97L182.8 339.07L183.5 339.18L184.3 339.28L185 339.39L185.8 339.49L186.5 339.59L187.3 339.69L188 339.78L188.8 339.87L189.5 339.96L190.3 340.04L191 340.1L191.8 340.17L192.5 340.24L193.3 340.31L194 340.37L194.8 340.43L195.5 340.48L196.3 340.48L197 340.48L197.8 340.48L198.5 340.48L199.3 340.48L200 340.48L200.8 340.48L201.5 340.48L202.3 340.48L203 340.48L203.8 340.48L204.5 340.48L205.3 340.48L206 340.48L206.8 340.48L207.5 340.48L208.3 340.48L209 340.48L209.8 340.48L210.5 340.48L211.3 340.48L212 340.48L212.8 340.48L213.5 340.48L214.3 340.48L215 340.48L215.8 340.48L216.5 340.48L217.3 340.48L218 340.48L218.7 340.48L218.69 340.48L41.02 340.48Z" fill="#CD9600"/>
<path d="M41 340.11L41.8 340.04L42.5 339.94L43.3 339.84L44 339.71L44.8 339.58L45.5 339.44L46.3 339.27L47 339.08L47.8 338.87L48.5 338.65L49.3 338.41L50 338.16L50.8 337.91L51.5 337.65L52.3 337.39L53 337.12L53.8 336.84L54.5 336.55L55.3 336.26L56 335.95L56.8 335.64L57.5 335.33L58.3 335.01L59 334.7L59.8 334.39L60.5 334.08L61.3 333.78L62 333.47L62.8 333.16L63.5 332.85L64.3 332.54L65 332.23L65.8 331.92L66.5 331.61L67.3 331.32L68 331.02L68.8 330.74L69.5 330.47L70.3 330.21L71 329.97L71.8 329.74L72.5 329.51L73.3 329.29L74 329.07L74.8 328.85L75.5 328.62L76.3 328.38L77 328.12L77.8 327.85L78.5 327.54L79.3 327.22L80 326.87L80.8 326.53L81.5 326.18L82.3 325.84L83 325.51L83.8 325.21L84.5 324.93L85.3 324.63L86 324.33L86.8 324.05L87.5 323.79L88.3 323.57L89 323.42L89.8 323.34L90.5 323.28L91.3 323.23L92 323.19L92.8 323.16L93.5 323.14L94.3 323.15L95 323.24L95.8 323.41L96.5 323.63L97.3 323.88L98 324.14L98.8 324.39L99.5 324.68L100.3 325.02L101 325.38L101.8 325.77L102.5 326.16L103.3 326.54L104 326.91L104.8 327.25L105.5 327.56L106.3 327.87L107 328.18L107.8 328.48L108.5 328.78L109.3 329.07L110 329.35L110.8 329.62L111.5 329.89L112.3 330.15L113 330.4L113.8 330.63L114.5 330.86L115.3 331.08L116 331.29L116.8 331.49L117.5 331.69L118.3 331.89L119 332.07L119.8 332.26L120.5 332.44L121.3 332.63L122 332.81L122.8 332.99L123.5 333.18L124.3 333.37L125 333.56L125.8 333.76L126.5 333.96L127.3 334.17L128 334.37L128.8 334.59L129.5 334.8L130.3 335.01L131 335.22L131.8 335.44L132.5 335.64L133.3 335.85L134 336.05L134.8 336.25L135.5 336.44L136.3 336.62L137 336.8L137.8 336.96L138.5 337.12L139.3 337.27L140 337.4L140.8 337.53L141.5 337.65L142.3 337.78L143 337.91L143.8 338.03L144.5 338.15L145.3 338.26L146 338.36L146.8 338.44L147.5 338.51L148.3 338.55L149 338.57L149.8 338.57L150.5 338.57L151.3 338.56L152 338.54L152.8 338.53L153.5 338.51L154.3 338.49L155 338.46L155.8 338.44L156.5 338.41L157.3 338.38L158 338.35L158.8 338.31L159.5 338.25L160.3 338.16L161 338.07L161.8 337.97L162.5 337.86L163.3 337.76L164 337.66L164.8 337.58L165.5 337.52L166.3 337.48L167 337.47L167.8 337.47L168.5 337.49L169.3 337.51L170 337.53L170.8 337.56L171.5 337.59L172.3 337.63L173 337.66L173.8 337.71L174.5 337.77L175.3 337.85L176 337.95L176.8 338.07L177.5 338.19L178.3 338.32L179 338.46L179.8 338.6L180.5 338.73L181.3 338.86L182 338.97L182.8 339.07L183.5 339.18L184.3 339.28L185 339.39L185.8 339.49L186.5 339.59L187.3 339.69L188 339.78L188.8 339.87L189.5 339.96L190.3 340.04L191 340.1L191.8 340.17L192.5 340.24L193.3 340.31L194 340.37L194.8 340.43L195.5 340.48L196.3 340.48L197 340.48L197.8 340.48L198.5 340.48L199.3 340.48L200 340.48L200.8 340.48L201.5 340.48L202.3 340.48L203 340.48L203.8 340.48L204.5 340.48L205.3 340.48L206 340.48L206.8 340.48L207.5 340.48L208.3 340.48L209 340.48L209.8 340.48L210.5 340.48L211.3 340.48L212 340.48L212.8 340.48L213.5 340.48L214.3 340.48L215 340.48L215.8 340.48L216.5 340.48L217.3 340.48L218 340.48L218.7 340.48" fill="none" stroke="#0d0d0d" stroke-width="1.15" stroke-linejoin="round"/>
<rect x="32" y="316.47" width="196.7" height="25.15" fill="none" stroke="#7a7a7a" stroke-width="0.7"/>
<rect x="228.7" y="316.47" width="12" height="25.15" fill="#d9d9d9" stroke="#808080" stroke-width="0.65"/>
<text transform="translate(230.5 329.05) rotate(90)" font-size="7.6" text-anchor="middle" font-family="Liberation Sans, Arial, sans-serif" fill="#0a0a0a" stroke="#0a0a0a" stroke-width="0.2">07-09</text>
<text transform="translate(29.4 342.93) rotate(0.03)" font-size="5.85" text-anchor="end" font-family="Liberation Sans, Arial, sans-serif" fill="#555">0.00</text>
<text transform="translate(29.4 334.93) rotate(0.03)" font-size="5.85" text-anchor="end" font-family="Liberation Sans, Arial, sans-serif" fill="#555">0.02</text>
<text transform="translate(29.4 326.93) rotate(0.03)" font-size="5.85" text-anchor="end" font-family="Liberation Sans, Arial, sans-serif" fill="#555">0.04</text>
<path d="M30.4 340.48H32M30.4 332.48H32M30.4 324.48H32" stroke="#4d4d4d" stroke-width="0.5" fill="none"/>
</g>
<g class="facet">
<rect x="32" y="344.64" width="196.7" height="25.15" fill="#fff"/>
<path d="M53.6 344.64V369.79M104.6 344.64V369.79M155.6 344.64V369.79M206.6 344.64V369.79M32 364.65H228.7M32 356.65H228.7M32 348.65H228.7" stroke="#f0f0f0" stroke-width="0.3" fill="none"/>
<path d="M79.1 344.64V369.79M130.1 344.64V369.79M181.1 344.64V369.79M32 368.65H228.7M32 360.65H228.7M32 352.65H228.7" stroke="#e8e8e8" stroke-width="0.55" fill="none"/>
<path d="M41 368.55L41.8 368.49L42.5 368.42L43.3 368.34L44 368.24L44.8 368.14L45.5 368.02L46.3 367.9L47 367.78L47.8 367.65L48.5 367.5L49.3 367.33L50 367.14L50.8 366.94L51.5 366.72L52.3 366.5L53 366.27L53.8 366.04L54.5 365.81L55.3 365.59L56 365.37L56.8 365.16L57.5 364.95L58.3 364.74L59 364.53L59.8 364.31L60.5 364.1L61.3 363.89L62 363.68L62.8 363.47L63.5 363.27L64.3 363.08L65 362.88L65.8 362.7L66.5 362.53L67.3 362.36L68 362.19L68.8 362.03L69.5 361.88L70.3 361.72L71 361.56L71.8 361.39L72.5 361.22L73.3 361.04L74 360.86L74.8 360.66L75.5 360.47L76.3 360.27L77 360.06L77.8 359.85L78.5 359.62L79.3 359.37L80 359.11L80.8 358.83L81.5 358.5L82.3 358.14L83 357.74L83.8 357.31L84.5 356.86L85.3 356.39L86 355.92L86.8 355.45L87.5 354.98L88.3 354.47L89 353.93L89.8 353.37L90.5 352.82L91.3 352.29L92 351.81L92.8 351.39L93.5 351L94.3 350.59L95 350.21L95.8 349.89L96.5 349.67L97.3 349.59L98 349.59L98.8 349.59L99.5 349.59L100.3 349.59L101 349.64L101.8 349.87L102.5 350.25L103.3 350.71L104 351.21L104.8 351.69L105.5 352.15L106.3 352.67L107 353.24L107.8 353.81L108.5 354.38L109.3 354.89L110 355.33L110.8 355.68L111.5 356L112.3 356.29L113 356.57L113.8 356.82L114.5 357.03L115.3 357.2L116 357.32L116.8 357.4L117.5 357.46L118.3 357.5L119 357.54L119.8 357.59L120.5 357.65L121.3 357.72L122 357.85L122.8 358.06L123.5 358.34L124.3 358.67L125 359.02L125.8 359.39L126.5 359.74L127.3 360.07L128 360.42L128.8 360.78L129.5 361.16L130.3 361.55L131 361.95L131.8 362.35L132.5 362.73L133.3 363.11L134 363.46L134.8 363.79L135.5 364.09L136.3 364.35L137 364.56L137.8 364.74L138.5 364.92L139.3 365.09L140 365.25L140.8 365.4L141.5 365.54L142.3 365.65L143 365.76L143.8 365.84L144.5 365.89L145.3 365.93L146 365.96L146.8 365.99L147.5 366.01L148.3 366.04L149 366.06L149.8 366.08L150.5 366.1L151.3 366.11L152 366.12L152.8 366.13L153.5 366.13L154.3 366.12L155 366.1L155.8 366.06L156.5 366.02L157.3 365.97L158 365.91L158.8 365.86L159.5 365.8L160.3 365.76L161 365.72L161.8 365.7L162.5 365.69L163.3 365.69L164 365.69L164.8 365.69L165.5 365.69L166.3 365.69L167 365.69L167.8 365.69L168.5 365.69L169.3 365.69L170 365.69L170.8 365.69L171.5 365.69L172.3 365.71L173 365.76L173.8 365.84L174.5 365.93L175.3 366.04L176 366.15L176.8 366.27L177.5 366.4L178.3 366.52L179 366.64L179.8 366.75L180.5 366.84L181.3 366.94L182 367.03L182.8 367.13L183.5 367.23L184.3 367.32L185 367.42L185.8 367.52L186.5 367.61L187.3 367.7L188 367.79L188.8 367.87L189.5 367.96L190.3 368.05L191 368.15L191.8 368.25L192.5 368.35L193.3 368.45L194 368.54L194.8 368.61L195.5 368.65L196.3 368.65L197 368.65L197.8 368.65L198.5 368.65L199.3 368.65L200 368.65L200.8 368.65L201.5 368.65L202.3 368.65L203 368.65L203.8 368.65L204.5 368.65L205.3 368.65L206 368.65L206.8 368.65L207.5 368.65L208.3 368.65L209 368.65L209.8 368.65L210.5 368.65L211.3 368.65L212 368.65L212.8 368.65L213.5 368.65L214.3 368.65L215 368.65L215.8 368.65L216.5 368.65L217.3 368.65L218 368.65L218.7 368.65L218.69 368.65L41.02 368.65Z" fill="#7CAE00"/>
<path d="M41 368.55L41.8 368.49L42.5 368.42L43.3 368.34L44 368.24L44.8 368.14L45.5 368.02L46.3 367.9L47 367.78L47.8 367.65L48.5 367.5L49.3 367.33L50 367.14L50.8 366.94L51.5 366.72L52.3 366.5L53 366.27L53.8 366.04L54.5 365.81L55.3 365.59L56 365.37L56.8 365.16L57.5 364.95L58.3 364.74L59 364.53L59.8 364.31L60.5 364.1L61.3 363.89L62 363.68L62.8 363.47L63.5 363.27L64.3 363.08L65 362.88L65.8 362.7L66.5 362.53L67.3 362.36L68 362.19L68.8 362.03L69.5 361.88L70.3 361.72L71 361.56L71.8 361.39L72.5 361.22L73.3 361.04L74 360.86L74.8 360.66L75.5 360.47L76.3 360.27L77 360.06L77.8 359.85L78.5 359.62L79.3 359.37L80 359.11L80.8 358.83L81.5 358.5L82.3 358.14L83 357.74L83.8 357.31L84.5 356.86L85.3 356.39L86 355.92L86.8 355.45L87.5 354.98L88.3 354.47L89 353.93L89.8 353.37L90.5 352.82L91.3 352.29L92 351.81L92.8 351.39L93.5 351L94.3 350.59L95 350.21L95.8 349.89L96.5 349.67L97.3 349.59L98 349.59L98.8 349.59L99.5 349.59L100.3 349.59L101 349.64L101.8 349.87L102.5 350.25L103.3 350.71L104 351.21L104.8 351.69L105.5 352.15L106.3 352.67L107 353.24L107.8 353.81L108.5 354.38L109.3 354.89L110 355.33L110.8 355.68L111.5 356L112.3 356.29L113 356.57L113.8 356.82L114.5 357.03L115.3 357.2L116 357.32L116.8 357.4L117.5 357.46L118.3 357.5L119 357.54L119.8 357.59L120.5 357.65L121.3 357.72L122 357.85L122.8 358.06L123.5 358.34L124.3 358.67L125 359.02L125.8 359.39L126.5 359.74L127.3 360.07L128 360.42L128.8 360.78L129.5 361.16L130.3 361.55L131 361.95L131.8 362.35L132.5 362.73L133.3 363.11L134 363.46L134.8 363.79L135.5 364.09L136.3 364.35L137 364.56L137.8 364.74L138.5 364.92L139.3 365.09L140 365.25L140.8 365.4L141.5 365.54L142.3 365.65L143 365.76L143.8 365.84L144.5 365.89L145.3 365.93L146 365.96L146.8 365.99L147.5 366.01L148.3 366.04L149 366.06L149.8 366.08L150.5 366.1L151.3 366.11L152 366.12L152.8 366.13L153.5 366.13L154.3 366.12L155 366.1L155.8 366.06L156.5 366.02L157.3 365.97L158 365.91L158.8 365.86L159.5 365.8L160.3 365.76L161 365.72L161.8 365.7L162.5 365.69L163.3 365.69L164 365.69L164.8 365.69L165.5 365.69L166.3 365.69L167 365.69L167.8 365.69L168.5 365.69L169.3 365.69L170 365.69L170.8 365.69L171.5 365.69L172.3 365.71L173 365.76L173.8 365.84L174.5 365.93L175.3 366.04L176 366.15L176.8 366.27L177.5 366.4L178.3 366.52L179 366.64L179.8 366.75L180.5 366.84L181.3 366.94L182 367.03L182.8 367.13L183.5 367.23L184.3 367.32L185 367.42L185.8 367.52L186.5 367.61L187.3 367.7L188 367.79L188.8 367.87L189.5 367.96L190.3 368.05L191 368.15L191.8 368.25L192.5 368.35L193.3 368.45L194 368.54L194.8 368.61L195.5 368.65L196.3 368.65L197 368.65L197.8 368.65L198.5 368.65L199.3 368.65L200 368.65L200.8 368.65L201.5 368.65L202.3 368.65L203 368.65L203.8 368.65L204.5 368.65L205.3 368.65L206 368.65L206.8 368.65L207.5 368.65L208.3 368.65L209 368.65L209.8 368.65L210.5 368.65L211.3 368.65L212 368.65L212.8 368.65L213.5 368.65L214.3 368.65L215 368.65L215.8 368.65L216.5 368.65L217.3 368.65L218 368.65L218.7 368.65" fill="none" stroke="#0d0d0d" stroke-width="1.15" stroke-linejoin="round"/>
<rect x="32" y="344.64" width="196.7" height="25.15" fill="none" stroke="#7a7a7a" stroke-width="0.7"/>
<rect x="228.7" y="344.64" width="12" height="25.15" fill="#d9d9d9" stroke="#808080" stroke-width="0.65"/>
<text transform="translate(230.5 357.21) rotate(90)" font-size="7.6" text-anchor="middle" font-family="Liberation Sans, Arial, sans-serif" fill="#0a0a0a" stroke="#0a0a0a" stroke-width="0.2">09-12</text>
<text transform="translate(29.4 371.1) rotate(0.03)" font-size="5.85" text-anchor="end" font-family="Liberation Sans, Arial, sans-serif" fill="#555">0.00</text>
<text transform="translate(29.4 363.1) rotate(0.03)" font-size="5.85" text-anchor="end" font-family="Liberation Sans, Arial, sans-serif" fill="#555">0.02</text>
<text transform="translate(29.4 355.1) rotate(0.03)" font-size="5.85" text-anchor="end" font-family="Liberation Sans, Arial, sans-serif" fill="#555">0.04</text>
<path d="M30.4 368.65H32M30.4 360.65H32M30.4 352.65H32" stroke="#4d4d4d" stroke-width="0.5" fill="none"/>
</g>
<g class="facet">
<rect x="32" y="372.81" width="196.7" height="25.15" fill="#fff"/>
<path d="M53.6 372.81V397.96M104.6 372.81V397.96M155.6 372.81V397.96M206.6 372.81V397.96M32 392.82H228.7M32 384.82H228.7M32 376.82H228.7" stroke="#f0f0f0" stroke-width="0.3" fill="none"/>
<path d="M79.1 372.81V397.96M130.1 372.81V397.96M181.1 372.81V397.96M32 396.82H228.7M32 388.82H228.7M32 380.82H228.7" stroke="#e8e8e8" stroke-width="0.55" fill="none"/>
<path d="M41 396.77L41.8 396.68L42.5 396.59L43.3 396.48L44 396.36L44.8 396.23L45.5 396.09L46.3 395.95L47 395.8L47.8 395.64L48.5 395.47L49.3 395.28L50 395.07L50.8 394.84L51.5 394.61L52.3 394.37L53 394.13L53.8 393.88L54.5 393.63L55.3 393.39L56 393.16L56.8 392.93L57.5 392.7L58.3 392.47L59 392.24L59.8 392.01L60.5 391.78L61.3 391.55L62 391.32L62.8 391.09L63.5 390.87L64.3 390.66L65 390.45L65.8 390.24L66.5 390.05L67.3 389.85L68 389.66L68.8 389.48L69.5 389.29L70.3 389.11L71 388.93L71.8 388.74L72.5 388.56L73.3 388.38L74 388.19L74.8 388.01L75.5 387.84L76.3 387.67L77 387.5L77.8 387.34L78.5 387.17L79.3 387L80 386.82L80.8 386.62L81.5 386.41L82.3 386.18L83 385.93L83.8 385.64L84.5 385.29L85.3 384.91L86 384.51L86.8 384.08L87.5 383.64L88.3 383.19L89 382.72L89.8 382.19L90.5 381.61L91.3 381.03L92 380.47L92.8 379.97L93.5 379.54L94.3 379.22L95 378.9L95.8 378.6L96.5 378.34L97.3 378.15L98 378.04L98.8 378.04L99.5 378.11L100.3 378.21L101 378.35L101.8 378.5L102.5 378.75L103.3 379.13L104 379.58L104.8 380.09L105.5 380.6L106.3 381.08L107 381.49L107.8 381.84L108.5 382.18L109.3 382.51L110 382.83L110.8 383.13L111.5 383.42L112.3 383.7L113 383.96L113.8 384.21L114.5 384.44L115.3 384.65L116 384.84L116.8 385.03L117.5 385.22L118.3 385.4L119 385.59L119.8 385.79L120.5 386.01L121.3 386.23L122 386.46L122.8 386.7L123.5 386.94L124.3 387.19L125 387.45L125.8 387.71L126.5 387.99L127.3 388.28L128 388.61L128.8 388.97L129.5 389.36L130.3 389.77L131 390.19L131.8 390.61L132.5 391.03L133.3 391.44L134 391.82L134.8 392.18L135.5 392.5L136.3 392.78L137 393L137.8 393.19L138.5 393.37L139.3 393.55L140 393.72L140.8 393.88L141.5 394.03L142.3 394.15L143 394.24L143.8 394.31L144.5 394.34L145.3 394.35L146 394.34L146.8 394.33L147.5 394.31L148.3 394.29L149 394.27L149.8 394.25L150.5 394.22L151.3 394.2L152 394.17L152.8 394.15L153.5 394.13L154.3 394.11L155 394.09L155.8 394.06L156.5 394.04L157.3 394.01L158 393.99L158.8 393.97L159.5 393.95L160.3 393.93L161 393.92L161.8 393.91L162.5 393.91L163.3 393.91L164 393.93L164.8 393.95L165.5 393.98L166.3 394.02L167 394.06L167.8 394.11L168.5 394.16L169.3 394.21L170 394.26L170.8 394.31L171.5 394.36L172.3 394.42L173 394.48L173.8 394.55L174.5 394.62L175.3 394.69L176 394.77L176.8 394.85L177.5 394.94L178.3 395.02L179 395.11L179.8 395.19L180.5 395.28L181.3 395.37L182 395.46L182.8 395.56L183.5 395.66L184.3 395.77L185 395.87L185.8 395.97L186.5 396.06L187.3 396.15L188 396.24L188.8 396.32L189.5 396.39L190.3 396.46L191 396.54L191.8 396.62L192.5 396.69L193.3 396.76L194 396.82L194.8 396.82L195.5 396.82L196.3 396.82L197 396.82L197.8 396.82L198.5 396.82L199.3 396.82L200 396.82L200.8 396.82L201.5 396.82L202.3 396.82L203 396.82L203.8 396.82L204.5 396.82L205.3 396.82L206 396.82L206.8 396.82L207.5 396.82L208.3 396.82L209 396.82L209.8 396.82L210.5 396.82L211.3 396.82L212 396.82L212.8 396.82L213.5 396.82L214.3 396.82L215 396.82L215.8 396.82L216.5 396.82L217.3 396.82L218 396.82L218.7 396.82L218.69 396.82L41.02 396.82Z" fill="#00BE67"/>
<path d="M41 396.77L41.8 396.68L42.5 396.59L43.3 396.48L44 396.36L44.8 396.23L45.5 396.09L46.3 395.95L47 395.8L47.8 395.64L48.5 395.47L49.3 395.28L50 395.07L50.8 394.84L51.5 394.61L52.3 394.37L53 394.13L53.8 393.88L54.5 393.63L55.3 393.39L56 393.16L56.8 392.93L57.5 392.7L58.3 392.47L59 392.24L59.8 392.01L60.5 391.78L61.3 391.55L62 391.32L62.8 391.09L63.5 390.87L64.3 390.66L65 390.45L65.8 390.24L66.5 390.05L67.3 389.85L68 389.66L68.8 389.48L69.5 389.29L70.3 389.11L71 388.93L71.8 388.74L72.5 388.56L73.3 388.38L74 388.19L74.8 388.01L75.5 387.84L76.3 387.67L77 387.5L77.8 387.34L78.5 387.17L79.3 387L80 386.82L80.8 386.62L81.5 386.41L82.3 386.18L83 385.93L83.8 385.64L84.5 385.29L85.3 384.91L86 384.51L86.8 384.08L87.5 383.64L88.3 383.19L89 382.72L89.8 382.19L90.5 381.61L91.3 381.03L92 380.47L92.8 379.97L93.5 379.54L94.3 379.22L95 378.9L95.8 378.6L96.5 378.34L97.3 378.15L98 378.04L98.8 378.04L99.5 378.11L100.3 378.21L101 378.35L101.8 378.5L102.5 378.75L103.3 379.13L104 379.58L104.8 380.09L105.5 380.6L106.3 381.08L107 381.49L107.8 381.84L108.5 382.18L109.3 382.51L110 382.83L110.8 383.13L111.5 383.42L112.3 383.7L113 383.96L113.8 384.21L114.5 384.44L115.3 384.65L116 384.84L116.8 385.03L117.5 385.22L118.3 385.4L119 385.59L119.8 385.79L120.5 386.01L121.3 386.23L122 386.46L122.8 386.7L123.5 386.94L124.3 387.19L125 387.45L125.8 387.71L126.5 387.99L127.3 388.28L128 388.61L128.8 388.97L129.5 389.36L130.3 389.77L131 390.19L131.8 390.61L132.5 391.03L133.3 391.44L134 391.82L134.8 392.18L135.5 392.5L136.3 392.78L137 393L137.8 393.19L138.5 393.37L139.3 393.55L140 393.72L140.8 393.88L141.5 394.03L142.3 394.15L143 394.24L143.8 394.31L144.5 394.34L145.3 394.35L146 394.34L146.8 394.33L147.5 394.31L148.3 394.29L149 394.27L149.8 394.25L150.5 394.22L151.3 394.2L152 394.17L152.8 394.15L153.5 394.13L154.3 394.11L155 394.09L155.8 394.06L156.5 394.04L157.3 394.01L158 393.99L158.8 393.97L159.5 393.95L160.3 393.93L161 393.92L161.8 393.91L162.5 393.91L163.3 393.91L164 393.93L164.8 393.95L165.5 393.98L166.3 394.02L167 394.06L167.8 394.11L168.5 394.16L169.3 394.21L170 394.26L170.8 394.31L171.5 394.36L172.3 394.42L173 394.48L173.8 394.55L174.5 394.62L175.3 394.69L176 394.77L176.8 394.85L177.5 394.94L178.3 395.02L179 395.11L179.8 395.19L180.5 395.28L181.3 395.37L182 395.46L182.8 395.56L183.5 395.66L184.3 395.77L185 395.87L185.8 395.97L186.5 396.06L187.3 396.15L188 396.24L188.8 396.32L189.5 396.39L190.3 396.46L191 396.54L191.8 396.62L192.5 396.69L193.3 396.76L194 396.82L194.8 396.82L195.5 396.82L196.3 396.82L197 396.82L197.8 396.82L198.5 396.82L199.3 396.82L200 396.82L200.8 396.82L201.5 396.82L202.3 396.82L203 396.82L203.8 396.82L204.5 396.82L205.3 396.82L206 396.82L206.8 396.82L207.5 396.82L208.3 396.82L209 396.82L209.8 396.82L210.5 396.82L211.3 396.82L212 396.82L212.8 396.82L213.5 396.82L214.3 396.82L215 396.82L215.8 396.82L216.5 396.82L217.3 396.82L218 396.82L218.7 396.82" fill="none" stroke="#0d0d0d" stroke-width="1.15" stroke-linejoin="round"/>
<rect x="32" y="372.81" width="196.7" height="25.15" fill="none" stroke="#7a7a7a" stroke-width="0.7"/>
<rect x="228.7" y="372.81" width="12" height="25.15" fill="#d9d9d9" stroke="#808080" stroke-width="0.65"/>
<text transform="translate(230.5 385.38) rotate(90)" font-size="7.6" text-anchor="middle" font-family="Liberation Sans, Arial, sans-serif" fill="#0a0a0a" stroke="#0a0a0a" stroke-width="0.2">12-14</text>
<text transform="translate(29.4 399.27) rotate(0.03)" font-size="5.85" text-anchor="end" font-family="Liberation Sans, Arial, sans-serif" fill="#555">0.00</text>
<text transform="translate(29.4 391.27) rotate(0.03)" font-size="5.85" text-anchor="end" font-family="Liberation Sans, Arial, sans-serif" fill="#555">0.02</text>
<text transform="translate(29.4 383.27) rotate(0.03)" font-size="5.85" text-anchor="end" font-family="Liberation Sans, Arial, sans-serif" fill="#555">0.04</text>
<path d="M30.4 396.82H32M30.4 388.82H32M30.4 380.82H32" stroke="#4d4d4d" stroke-width="0.5" fill="none"/>
</g>
<g class="facet">
<rect x="32" y="400.98" width="196.7" height="25.15" fill="#fff"/>
<path d="M53.6 400.98V426.13M104.6 400.98V426.13M155.6 400.98V426.13M206.6 400.98V426.13M32 420.99H228.7M32 412.99H228.7M32 404.99H228.7" stroke="#f0f0f0" stroke-width="0.3" fill="none"/>
<path d="M79.1 400.98V426.13M130.1 400.98V426.13M181.1 400.98V426.13M32 424.99H228.7M32 416.99H228.7M32 408.99H228.7" stroke="#e8e8e8" stroke-width="0.55" fill="none"/>
<path d="M41 424.78L41.8 424.66L42.5 424.53L43.3 424.39L44 424.24L44.8 424.09L45.5 423.93L46.3 423.77L47 423.6L47.8 423.42L48.5 423.23L49.3 423.03L50 422.82L50.8 422.6L51.5 422.36L52.3 422.13L53 421.89L53.8 421.65L54.5 421.41L55.3 421.17L56 420.94L56.8 420.71L57.5 420.49L58.3 420.26L59 420.03L59.8 419.8L60.5 419.58L61.3 419.35L62 419.12L62.8 418.9L63.5 418.67L64.3 418.45L65 418.24L65.8 418.02L66.5 417.81L67.3 417.61L68 417.41L68.8 417.21L69.5 417.01L70.3 416.81L71 416.6L71.8 416.4L72.5 416.19L73.3 415.98L74 415.76L74.8 415.54L75.5 415.31L76.3 415.09L77 414.86L77.8 414.63L78.5 414.4L79.3 414.16L80 413.91L80.8 413.65L81.5 413.39L82.3 413.11L83 412.83L83.8 412.52L84.5 412.18L85.3 411.82L86 411.44L86.8 411.07L87.5 410.69L88.3 410.33L89 410L89.8 409.68L90.5 409.36L91.3 409.02L92 408.68L92.8 408.38L93.5 408.11L94.3 407.92L95 407.8L95.8 407.74L96.5 407.69L97.3 407.64L98 407.61L98.8 407.59L99.5 407.58L100.3 407.67L101 407.89L101.8 408.18L102.5 408.52L103.3 408.87L104 409.2L104.8 409.53L105.5 409.88L106.3 410.26L107 410.66L107.8 411.06L108.5 411.46L109.3 411.85L110 412.22L110.8 412.58L111.5 412.94L112.3 413.3L113 413.67L113.8 414.02L114.5 414.36L115.3 414.68L116 414.97L116.8 415.21L117.5 415.41L118.3 415.58L119 415.73L119.8 415.86L120.5 415.99L121.3 416.12L122 416.27L122.8 416.44L123.5 416.63L124.3 416.84L125 417.06L125.8 417.28L126.5 417.52L127.3 417.76L128 418L128.8 418.24L129.5 418.49L130.3 418.75L131 419.03L131.8 419.31L132.5 419.6L133.3 419.88L134 420.16L134.8 420.42L135.5 420.66L136.3 420.88L137 421.1L137.8 421.32L138.5 421.54L139.3 421.75L140 421.94L140.8 422.1L141.5 422.24L142.3 422.33L143 422.37L143.8 422.42L144.5 422.45L145.3 422.49L146 422.51L146.8 422.54L147.5 422.56L148.3 422.57L149 422.57L149.8 422.57L150.5 422.54L151.3 422.48L152 422.42L152.8 422.34L153.5 422.26L154.3 422.17L155 422.09L155.8 422.02L156.5 421.97L157.3 421.93L158 421.91L158.8 421.91L159.5 421.91L160.3 421.91L161 421.91L161.8 421.91L162.5 421.91L163.3 421.91L164 421.91L164.8 421.91L165.5 421.91L166.3 421.91L167 421.91L167.8 421.93L168.5 421.98L169.3 422.05L170 422.14L170.8 422.25L171.5 422.36L172.3 422.48L173 422.61L173.8 422.73L174.5 422.85L175.3 422.96L176 423.05L176.8 423.15L177.5 423.24L178.3 423.33L179 423.43L179.8 423.52L180.5 423.61L181.3 423.7L182 423.8L182.8 423.89L183.5 423.99L184.3 424.08L185 424.19L185.8 424.3L186.5 424.43L187.3 424.56L188 424.68L188.8 424.79L189.5 424.89L190.3 424.96L191 424.99L191.8 424.99L192.5 424.99L193.3 424.99L194 424.99L194.8 424.99L195.5 424.99L196.3 424.99L197 424.99L197.8 424.99L198.5 424.99L199.3 424.99L200 424.99L200.8 424.99L201.5 424.99L202.3 424.99L203 424.99L203.8 424.99L204.5 424.99L205.3 424.99L206 424.99L206.8 424.99L207.5 424.99L208.3 424.99L209 424.99L209.8 424.99L210.5 424.99L211.3 424.99L212 424.99L212.8 424.99L213.5 424.99L214.3 424.99L215 424.99L215.8 424.99L216.5 424.99L217.3 424.99L218 424.99L218.7 424.99L218.69 424.99L41.02 424.99Z" fill="#00BFC4"/>
<path d="M41 424.78L41.8 424.66L42.5 424.53L43.3 424.39L44 424.24L44.8 424.09L45.5 423.93L46.3 423.77L47 423.6L47.8 423.42L48.5 423.23L49.3 423.03L50 422.82L50.8 422.6L51.5 422.36L52.3 422.13L53 421.89L53.8 421.65L54.5 421.41L55.3 421.17L56 420.94L56.8 420.71L57.5 420.49L58.3 420.26L59 420.03L59.8 419.8L60.5 419.58L61.3 419.35L62 419.12L62.8 418.9L63.5 418.67L64.3 418.45L65 418.24L65.8 418.02L66.5 417.81L67.3 417.61L68 417.41L68.8 417.21L69.5 417.01L70.3 416.81L71 416.6L71.8 416.4L72.5 416.19L73.3 415.98L74 415.76L74.8 415.54L75.5 415.31L76.3 415.09L77 414.86L77.8 414.63L78.5 414.4L79.3 414.16L80 413.91L80.8 413.65L81.5 413.39L82.3 413.11L83 412.83L83.8 412.52L84.5 412.18L85.3 411.82L86 411.44L86.8 411.07L87.5 410.69L88.3 410.33L89 410L89.8 409.68L90.5 409.36L91.3 409.02L92 408.68L92.8 408.38L93.5 408.11L94.3 407.92L95 407.8L95.8 407.74L96.5 407.69L97.3 407.64L98 407.61L98.8 407.59L99.5 407.58L100.3 407.67L101 407.89L101.8 408.18L102.5 408.52L103.3 408.87L104 409.2L104.8 409.53L105.5 409.88L106.3 410.26L107 410.66L107.8 411.06L108.5 411.46L109.3 411.85L110 412.22L110.8 412.58L111.5 412.94L112.3 413.3L113 413.67L113.8 414.02L114.5 414.36L115.3 414.68L116 414.97L116.8 415.21L117.5 415.41L118.3 415.58L119 415.73L119.8 415.86L120.5 415.99L121.3 416.12L122 416.27L122.8 416.44L123.5 416.63L124.3 416.84L125 417.06L125.8 417.28L126.5 417.52L127.3 417.76L128 418L128.8 418.24L129.5 418.49L130.3 418.75L131 419.03L131.8 419.31L132.5 419.6L133.3 419.88L134 420.16L134.8 420.42L135.5 420.66L136.3 420.88L137 421.1L137.8 421.32L138.5 421.54L139.3 421.75L140 421.94L140.8 422.1L141.5 422.24L142.3 422.33L143 422.37L143.8 422.42L144.5 422.45L145.3 422.49L146 422.51L146.8 422.54L147.5 422.56L148.3 422.57L149 422.57L149.8 422.57L150.5 422.54L151.3 422.48L152 422.42L152.8 422.34L153.5 422.26L154.3 422.17L155 422.09L155.8 422.02L156.5 421.97L157.3 421.93L158 421.91L158.8 421.91L159.5 421.91L160.3 421.91L161 421.91L161.8 421.91L162.5 421.91L163.3 421.91L164 421.91L164.8 421.91L165.5 421.91L166.3 421.91L167 421.91L167.8 421.93L168.5 421.98L169.3 422.05L170 422.14L170.8 422.25L171.5 422.36L172.3 422.48L173 422.61L173.8 422.73L174.5 422.85L175.3 422.96L176 423.05L176.8 423.15L177.5 423.24L178.3 423.33L179 423.43L179.8 423.52L180.5 423.61L181.3 423.7L182 423.8L182.8 423.89L183.5 423.99L184.3 424.08L185 424.19L185.8 424.3L186.5 424.43L187.3 424.56L188 424.68L188.8 424.79L189.5 424.89L190.3 424.96L191 424.99L191.8 424.99L192.5 424.99L193.3 424.99L194 424.99L194.8 424.99L195.5 424.99L196.3 424.99L197 424.99L197.8 424.99L198.5 424.99L199.3 424.99L200 424.99L200.8 424.99L201.5 424.99L202.3 424.99L203 424.99L203.8 424.99L204.5 424.99L205.3 424.99L206 424.99L206.8 424.99L207.5 424.99L208.3 424.99L209 424.99L209.8 424.99L210.5 424.99L211.3 424.99L212 424.99L212.8 424.99L213.5 424.99L214.3 424.99L215 424.99L215.8 424.99L216.5 424.99L217.3 424.99L218 424.99L218.7 424.99" fill="none" stroke="#0d0d0d" stroke-width="1.15" stroke-linejoin="round"/>
<rect x="32" y="400.98" width="196.7" height="25.15" fill="none" stroke="#7a7a7a" stroke-width="0.7"/>
<rect x="228.7" y="400.98" width="12" height="25.15" fill="#d9d9d9" stroke="#808080" stroke-width="0.65"/>
<text transform="translate(230.5 413.56) rotate(90)" font-size="7.6" text-anchor="middle" font-family="Liberation Sans, Arial, sans-serif" fill="#0a0a0a" stroke="#0a0a0a" stroke-width="0.2">14-16</text>
<text transform="translate(29.4 427.44) rotate(0.03)" font-size="5.85" text-anchor="end" font-family="Liberation Sans, Arial, sans-serif" fill="#555">0.00</text>
<text transform="translate(29.4 419.44) rotate(0.03)" font-size="5.85" text-anchor="end" font-family="Liberation Sans, Arial, sans-serif" fill="#555">0.02</text>
<text transform="translate(29.4 411.44) rotate(0.03)" font-size="5.85" text-anchor="end" font-family="Liberation Sans, Arial, sans-serif" fill="#555">0.04</text>
<path d="M30.4 424.99H32M30.4 416.99H32M30.4 408.99H32" stroke="#4d4d4d" stroke-width="0.5" fill="none"/>
</g>
<g class="facet">
<rect x="32" y="429.15" width="196.7" height="25.15" fill="#fff"/>
<path d="M53.6 429.15V454.3M104.6 429.15V454.3M155.6 429.15V454.3M206.6 429.15V454.3M32 449.16H228.7M32 441.16H228.7M32 433.16H228.7" stroke="#f0f0f0" stroke-width="0.3" fill="none"/>
<path d="M79.1 429.15V454.3M130.1 429.15V454.3M181.1 429.15V454.3M32 453.16H228.7M32 445.16H228.7M32 437.16H228.7" stroke="#e8e8e8" stroke-width="0.55" fill="none"/>
<path d="M41 452.78L41.8 452.7L42.5 452.62L43.3 452.51L44 452.39L44.8 452.26L45.5 452.12L46.3 451.97L47 451.81L47.8 451.64L48.5 451.46L49.3 451.25L50 451.01L50.8 450.76L51.5 450.5L52.3 450.22L53 449.94L53.8 449.65L54.5 449.36L55.3 449.05L56 448.73L56.8 448.38L57.5 448.03L58.3 447.67L59 447.3L59.8 446.94L60.5 446.59L61.3 446.25L62 445.92L62.8 445.6L63.5 445.28L64.3 444.96L65 444.64L65.8 444.33L66.5 444.03L67.3 443.73L68 443.44L68.8 443.17L69.5 442.91L70.3 442.66L71 442.43L71.8 442.21L72.5 441.99L73.3 441.78L74 441.58L74.8 441.37L75.5 441.17L76.3 440.97L77 440.76L77.8 440.54L78.5 440.32L79.3 440.1L80 439.87L80.8 439.64L81.5 439.42L82.3 439.2L83 438.99L83.8 438.78L84.5 438.59L85.3 438.41L86 438.23L86.8 438.04L87.5 437.85L88.3 437.67L89 437.51L89.8 437.36L90.5 437.24L91.3 437.16L92 437.11L92.8 437.07L93.5 437.03L94.3 437L95 436.97L95.8 436.94L96.5 436.92L97.3 436.91L98 436.9L98.8 436.92L99.5 437.05L100.3 437.26L101 437.53L101.8 437.84L102.5 438.14L103.3 438.44L104 438.8L104.8 439.21L105.5 439.65L106.3 440.08L107 440.5L107.8 440.88L108.5 441.2L109.3 441.49L110 441.76L110.8 442.02L111.5 442.26L112.3 442.5L113 442.73L113.8 442.96L114.5 443.19L115.3 443.42L116 443.64L116.8 443.86L117.5 444.07L118.3 444.28L119 444.48L119.8 444.69L120.5 444.9L121.3 445.11L122 445.33L122.8 445.56L123.5 445.79L124.3 446.04L125 446.29L125.8 446.55L126.5 446.8L127.3 447.06L128 447.32L128.8 447.57L129.5 447.81L130.3 448.04L131 448.26L131.8 448.46L132.5 448.66L133.3 448.84L134 449.02L134.8 449.19L135.5 449.36L136.3 449.52L137 449.7L137.8 449.88L138.5 450.06L139.3 450.23L140 450.39L140.8 450.54L141.5 450.66L142.3 450.76L143 450.82L143.8 450.88L144.5 450.94L145.3 450.99L146 451.04L146.8 451.09L147.5 451.13L148.3 451.16L149 451.19L149.8 451.21L150.5 451.23L151.3 451.23L152 451.23L152.8 451.23L153.5 451.21L154.3 451.2L155 451.18L155.8 451.16L156.5 451.14L157.3 451.12L158 451.09L158.8 451.06L159.5 451.04L160.3 451.01L161 450.98L161.8 450.94L162.5 450.9L163.3 450.85L164 450.8L164.8 450.75L165.5 450.7L166.3 450.66L167 450.62L167.8 450.59L168.5 450.58L169.3 450.57L170 450.57L170.8 450.57L171.5 450.57L172.3 450.57L173 450.57L173.8 450.57L174.5 450.57L175.3 450.57L176 450.58L176.8 450.62L177.5 450.72L178.3 450.84L179 450.99L179.8 451.15L180.5 451.32L181.3 451.48L182 451.62L182.8 451.75L183.5 451.88L184.3 452.02L185 452.15L185.8 452.29L186.5 452.42L187.3 452.54L188 452.65L188.8 452.76L189.5 452.85L190.3 452.95L191 453.04L191.8 453.12L192.5 453.16L193.3 453.16L194 453.16L194.8 453.16L195.5 453.16L196.3 453.16L197 453.16L197.8 453.16L198.5 453.16L199.3 453.16L200 453.16L200.8 453.16L201.5 453.16L202.3 453.16L203 453.16L203.8 453.16L204.5 453.16L205.3 453.16L206 453.16L206.8 453.16L207.5 453.16L208.3 453.16L209 453.16L209.8 453.16L210.5 453.16L211.3 453.16L212 453.16L212.8 453.16L213.5 453.16L214.3 453.16L215 453.16L215.8 453.16L216.5 453.16L217.3 453.16L218 453.16L218.7 453.16L218.69 453.16L41.02 453.16Z" fill="#00A9FF"/>
<path d="M41 452.78L41.8 452.7L42.5 452.62L43.3 452.51L44 452.39L44.8 452.26L45.5 452.12L46.3 451.97L47 451.81L47.8 451.64L48.5 451.46L49.3 451.25L50 451.01L50.8 450.76L51.5 450.5L52.3 450.22L53 449.94L53.8 449.65L54.5 449.36L55.3 449.05L56 448.73L56.8 448.38L57.5 448.03L58.3 447.67L59 447.3L59.8 446.94L60.5 446.59L61.3 446.25L62 445.92L62.8 445.6L63.5 445.28L64.3 444.96L65 444.64L65.8 444.33L66.5 444.03L67.3 443.73L68 443.44L68.8 443.17L69.5 442.91L70.3 442.66L71 442.43L71.8 442.21L72.5 441.99L73.3 441.78L74 441.58L74.8 441.37L75.5 441.17L76.3 440.97L77 440.76L77.8 440.54L78.5 440.32L79.3 440.1L80 439.87L80.8 439.64L81.5 439.42L82.3 439.2L83 438.99L83.8 438.78L84.5 438.59L85.3 438.41L86 438.23L86.8 438.04L87.5 437.85L88.3 437.67L89 437.51L89.8 437.36L90.5 437.24L91.3 437.16L92 437.11L92.8 437.07L93.5 437.03L94.3 437L95 436.97L95.8 436.94L96.5 436.92L97.3 436.91L98 436.9L98.8 436.92L99.5 437.05L100.3 437.26L101 437.53L101.8 437.84L102.5 438.14L103.3 438.44L104 438.8L104.8 439.21L105.5 439.65L106.3 440.08L107 440.5L107.8 440.88L108.5 441.2L109.3 441.49L110 441.76L110.8 442.02L111.5 442.26L112.3 442.5L113 442.73L113.8 442.96L114.5 443.19L115.3 443.42L116 443.64L116.8 443.86L117.5 444.07L118.3 444.28L119 444.48L119.8 444.69L120.5 444.9L121.3 445.11L122 445.33L122.8 445.56L123.5 445.79L124.3 446.04L125 446.29L125.8 446.55L126.5 446.8L127.3 447.06L128 447.32L128.8 447.57L129.5 447.81L130.3 448.04L131 448.26L131.8 448.46L132.5 448.66L133.3 448.84L134 449.02L134.8 449.19L135.5 449.36L136.3 449.52L137 449.7L137.8 449.88L138.5 450.06L139.3 450.23L140 450.39L140.8 450.54L141.5 450.66L142.3 450.76L143 450.82L143.8 450.88L144.5 450.94L145.3 450.99L146 451.04L146.8 451.09L147.5 451.13L148.3 451.16L149 451.19L149.8 451.21L150.5 451.23L151.3 451.23L152 451.23L152.8 451.23L153.5 451.21L154.3 451.2L155 451.18L155.8 451.16L156.5 451.14L157.3 451.12L158 451.09L158.8 451.06L159.5 451.04L160.3 451.01L161 450.98L161.8 450.94L162.5 450.9L163.3 450.85L164 450.8L164.8 450.75L165.5 450.7L166.3 450.66L167 450.62L167.8 450.59L168.5 450.58L169.3 450.57L170 450.57L170.8 450.57L171.5 450.57L172.3 450.57L173 450.57L173.8 450.57L174.5 450.57L175.3 450.57L176 450.58L176.8 450.62L177.5 450.72L178.3 450.84L179 450.99L179.8 451.15L180.5 451.32L181.3 451.48L182 451.62L182.8 451.75L183.5 451.88L184.3 452.02L185 452.15L185.8 452.29L186.5 452.42L187.3 452.54L188 452.65L188.8 452.76L189.5 452.85L190.3 452.95L191 453.04L191.8 453.12L192.5 453.16L193.3 453.16L194 453.16L194.8 453.16L195.5 453.16L196.3 453.16L197 453.16L197.8 453.16L198.5 453.16L199.3 453.16L200 453.16L200.8 453.16L201.5 453.16L202.3 453.16L203 453.16L203.8 453.16L204.5 453.16L205.3 453.16L206 453.16L206.8 453.16L207.5 453.16L208.3 453.16L209 453.16L209.8 453.16L210.5 453.16L211.3 453.16L212 453.16L212.8 453.16L213.5 453.16L214.3 453.16L215 453.16L215.8 453.16L216.5 453.16L217.3 453.16L218 453.16L218.7 453.16" fill="none" stroke="#0d0d0d" stroke-width="1.15" stroke-linejoin="round"/>
<rect x="32" y="429.15" width="196.7" height="25.15" fill="none" stroke="#7a7a7a" stroke-width="0.7"/>
<rect x="228.7" y="429.15" width="12" height="25.15" fill="#d9d9d9" stroke="#808080" stroke-width="0.65"/>
<text transform="translate(230.5 441.73) rotate(90)" font-size="7.6" text-anchor="middle" font-family="Liberation Sans, Arial, sans-serif" fill="#0a0a0a" stroke="#0a0a0a" stroke-width="0.2">16-19</text>
<text transform="translate(29.4 455.61) rotate(0.03)" font-size="5.85" text-anchor="end" font-family="Liberation Sans, Arial, sans-serif" fill="#555">0.00</text>
<text transform="translate(29.4 447.61) rotate(0.03)" font-size="5.85" text-anchor="end" font-family="Liberation Sans, Arial, sans-serif" fill="#555">0.02</text>
<text transform="translate(29.4 439.61) rotate(0.03)" font-size="5.85" text-anchor="end" font-family="Liberation Sans, Arial, sans-serif" fill="#555">0.04</text>
<path d="M30.4 453.16H32M30.4 445.16H32M30.4 437.16H32" stroke="#4d4d4d" stroke-width="0.5" fill="none"/>
</g>
<g class="facet">
<rect x="32" y="457.32" width="196.7" height="25.15" fill="#fff"/>
<path d="M53.6 457.32V482.47M104.6 457.32V482.47M155.6 457.32V482.47M206.6 457.32V482.47M32 477.33H228.7M32 469.33H228.7M32 461.33H228.7" stroke="#f0f0f0" stroke-width="0.3" fill="none"/>
<path d="M79.1 457.32V482.47M130.1 457.32V482.47M181.1 457.32V482.47M32 481.33H228.7M32 473.33H228.7M32 465.33H228.7" stroke="#e8e8e8" stroke-width="0.55" fill="none"/>
<path d="M41 481.33L41.8 481.33L42.5 481.33L43.3 481.33L44 481.33L44.8 481.33L45.5 481.29L46.3 481.25L47 481.2L47.8 481.15L48.5 481.09L49.3 481.04L50 480.98L50.8 480.91L51.5 480.84L52.3 480.75L53 480.64L53.8 480.53L54.5 480.42L55.3 480.29L56 480.16L56.8 480.03L57.5 479.89L58.3 479.75L59 479.6L59.8 479.43L60.5 479.24L61.3 479.03L62 478.82L62.8 478.6L63.5 478.38L64.3 478.17L65 477.98L65.8 477.81L66.5 477.66L67.3 477.53L68 477.42L68.8 477.31L69.5 477.22L70.3 477.12L71 477.03L71.8 476.93L72.5 476.83L73.3 476.72L74 476.6L74.8 476.47L75.5 476.33L76.3 476.19L77 476.04L77.8 475.88L78.5 475.72L79.3 475.55L80 475.37L80.8 475.18L81.5 474.99L82.3 474.78L83 474.57L83.8 474.34L84.5 474.1L85.3 473.84L86 473.56L86.8 473.26L87.5 472.94L88.3 472.59L89 472.22L89.8 471.82L90.5 471.36L91.3 470.84L92 470.27L92.8 469.64L93.5 468.98L94.3 468.28L95 467.56L95.8 466.75L96.5 465.81L97.3 464.81L98 463.8L98.8 462.83L99.5 461.95L100.3 461.03L101 460.09L101.8 459.28L102.5 458.79L103.3 458.64L104 458.55L104.8 458.51L105.5 458.63L106.3 459.1L107 459.78L107.8 460.5L108.5 461.15L109.3 461.82L110 462.53L110.8 463.26L111.5 463.96L112.3 464.6L113 465.16L113.8 465.71L114.5 466.24L115.3 466.73L116 467.14L116.8 467.46L117.5 467.65L118.3 467.79L119 467.9L119.8 468L120.5 468.08L121.3 468.18L122 468.31L122.8 468.47L123.5 468.69L124.3 468.97L125 469.29L125.8 469.64L126.5 470.02L127.3 470.41L128 470.81L128.8 471.24L129.5 471.73L130.3 472.26L131 472.83L131.8 473.41L132.5 474L133.3 474.58L134 475.13L134.8 475.64L135.5 476.1L136.3 476.49L137 476.86L137.8 477.23L138.5 477.57L139.3 477.89L140 478.17L140.8 478.4L141.5 478.57L142.3 478.7L143 478.83L143.8 478.95L144.5 479.06L145.3 479.14L146 479.2L146.8 479.23L147.5 479.22L148.3 479.18L149 479.11L149.8 479.01L150.5 478.91L151.3 478.81L152 478.71L152.8 478.63L153.5 478.58L154.3 478.54L155 478.52L155.8 478.49L156.5 478.46L157.3 478.44L158 478.42L158.8 478.4L159.5 478.38L160.3 478.37L161 478.36L161.8 478.35L162.5 478.35L163.3 478.35L164 478.36L164.8 478.37L165.5 478.38L166.3 478.4L167 478.42L167.8 478.44L168.5 478.46L169.3 478.49L170 478.52L170.8 478.55L171.5 478.58L172.3 478.63L173 478.69L173.8 478.77L174.5 478.86L175.3 478.97L176 479.08L176.8 479.19L177.5 479.3L178.3 479.42L179 479.53L179.8 479.63L180.5 479.72L181.3 479.82L182 479.91L182.8 480L183.5 480.09L184.3 480.19L185 480.28L185.8 480.37L186.5 480.47L187.3 480.56L188 480.66L188.8 480.75L189.5 480.86L190.3 480.98L191 481.11L191.8 481.24L192.5 481.33L193.3 481.33L194 481.33L194.8 481.33L195.5 481.33L196.3 481.33L197 481.33L197.8 481.33L198.5 481.33L199.3 481.33L200 481.33L200.8 481.33L201.5 481.33L202.3 481.33L203 481.33L203.8 481.33L204.5 481.33L205.3 481.33L206 481.33L206.8 481.33L207.5 481.33L208.3 481.33L209 481.33L209.8 481.33L210.5 481.33L211.3 481.33L212 481.33L212.8 481.33L213.5 481.33L214.3 481.33L215 481.33L215.8 481.33L216.5 481.33L217.3 481.33L218 481.33L218.7 481.33L218.69 481.33L41.02 481.33Z" fill="#C77CFF"/>
<path d="M41 481.33L41.8 481.33L42.5 481.33L43.3 481.33L44 481.33L44.8 481.33L45.5 481.29L46.3 481.25L47 481.2L47.8 481.15L48.5 481.09L49.3 481.04L50 480.98L50.8 480.91L51.5 480.84L52.3 480.75L53 480.64L53.8 480.53L54.5 480.42L55.3 480.29L56 480.16L56.8 480.03L57.5 479.89L58.3 479.75L59 479.6L59.8 479.43L60.5 479.24L61.3 479.03L62 478.82L62.8 478.6L63.5 478.38L64.3 478.17L65 477.98L65.8 477.81L66.5 477.66L67.3 477.53L68 477.42L68.8 477.31L69.5 477.22L70.3 477.12L71 477.03L71.8 476.93L72.5 476.83L73.3 476.72L74 476.6L74.8 476.47L75.5 476.33L76.3 476.19L77 476.04L77.8 475.88L78.5 475.72L79.3 475.55L80 475.37L80.8 475.18L81.5 474.99L82.3 474.78L83 474.57L83.8 474.34L84.5 474.1L85.3 473.84L86 473.56L86.8 473.26L87.5 472.94L88.3 472.59L89 472.22L89.8 471.82L90.5 471.36L91.3 470.84L92 470.27L92.8 469.64L93.5 468.98L94.3 468.28L95 467.56L95.8 466.75L96.5 465.81L97.3 464.81L98 463.8L98.8 462.83L99.5 461.95L100.3 461.03L101 460.09L101.8 459.28L102.5 458.79L103.3 458.64L104 458.55L104.8 458.51L105.5 458.63L106.3 459.1L107 459.78L107.8 460.5L108.5 461.15L109.3 461.82L110 462.53L110.8 463.26L111.5 463.96L112.3 464.6L113 465.16L113.8 465.71L114.5 466.24L115.3 466.73L116 467.14L116.8 467.46L117.5 467.65L118.3 467.79L119 467.9L119.8 468L120.5 468.08L121.3 468.18L122 468.31L122.8 468.47L123.5 468.69L124.3 468.97L125 469.29L125.8 469.64L126.5 470.02L127.3 470.41L128 470.81L128.8 471.24L129.5 471.73L130.3 472.26L131 472.83L131.8 473.41L132.5 474L133.3 474.58L134 475.13L134.8 475.64L135.5 476.1L136.3 476.49L137 476.86L137.8 477.23L138.5 477.57L139.3 477.89L140 478.17L140.8 478.4L141.5 478.57L142.3 478.7L143 478.83L143.8 478.95L144.5 479.06L145.3 479.14L146 479.2L146.8 479.23L147.5 479.22L148.3 479.18L149 479.11L149.8 479.01L150.5 478.91L151.3 478.81L152 478.71L152.8 478.63L153.5 478.58L154.3 478.54L155 478.52L155.8 478.49L156.5 478.46L157.3 478.44L158 478.42L158.8 478.4L159.5 478.38L160.3 478.37L161 478.36L161.8 478.35L162.5 478.35L163.3 478.35L164 478.36L164.8 478.37L165.5 478.38L166.3 478.4L167 478.42L167.8 478.44L168.5 478.46L169.3 478.49L170 478.52L170.8 478.55L171.5 478.58L172.3 478.63L173 478.69L173.8 478.77L174.5 478.86L175.3 478.97L176 479.08L176.8 479.19L177.5 479.3L178.3 479.42L179 479.53L179.8 479.63L180.5 479.72L181.3 479.82L182 479.91L182.8 480L183.5 480.09L184.3 480.19L185 480.28L185.8 480.37L186.5 480.47L187.3 480.56L188 480.66L188.8 480.75L189.5 480.86L190.3 480.98L191 481.11L191.8 481.24L192.5 481.33L193.3 481.33L194 481.33L194.8 481.33L195.5 481.33L196.3 481.33L197 481.33L197.8 481.33L198.5 481.33L199.3 481.33L200 481.33L200.8 481.33L201.5 481.33L202.3 481.33L203 481.33L203.8 481.33L204.5 481.33L205.3 481.33L206 481.33L206.8 481.33L207.5 481.33L208.3 481.33L209 481.33L209.8 481.33L210.5 481.33L211.3 481.33L212 481.33L212.8 481.33L213.5 481.33L214.3 481.33L215 481.33L215.8 481.33L216.5 481.33L217.3 481.33L218 481.33L218.7 481.33" fill="none" stroke="#0d0d0d" stroke-width="1.15" stroke-linejoin="round"/>
<rect x="32" y="457.32" width="196.7" height="25.15" fill="none" stroke="#7a7a7a" stroke-width="0.7"/>
<rect x="228.7" y="457.32" width="12" height="25.15" fill="#d9d9d9" stroke="#808080" stroke-width="0.65"/>
<text transform="translate(230.5 469.9) rotate(90)" font-size="7.6" text-anchor="middle" font-family="Liberation Sans, Arial, sans-serif" fill="#0a0a0a" stroke="#0a0a0a" stroke-width="0.2">19-24</text>
<text transform="translate(29.4 483.78) rotate(0.03)" font-size="5.85" text-anchor="end" font-family="Liberation Sans, Arial, sans-serif" fill="#555">0.00</text>
<text transform="translate(29.4 475.78) rotate(0.03)" font-size="5.85" text-anchor="end" font-family="Liberation Sans, Arial, sans-serif" fill="#555">0.02</text>
<text transform="translate(29.4 467.78) rotate(0.03)" font-size="5.85" text-anchor="end" font-family="Liberation Sans, Arial, sans-serif" fill="#555">0.04</text>
<path d="M30.4 481.33H32M30.4 473.33H32M30.4 465.33H32" stroke="#4d4d4d" stroke-width="0.5" fill="none"/>
</g>
<g class="facet">
<rect x="32" y="485.49" width="196.7" height="25.15" fill="#fff"/>
<path d="M53.6 485.49V510.64M104.6 485.49V510.64M155.6 485.49V510.64M206.6 485.49V510.64M32 505.5H228.7M32 497.5H228.7M32 489.5H228.7" stroke="#f0f0f0" stroke-width="0.3" fill="none"/>
<path d="M79.1 485.49V510.64M130.1 485.49V510.64M181.1 485.49V510.64M32 509.5H228.7M32 501.5H228.7M32 493.5H228.7" stroke="#e8e8e8" stroke-width="0.55" fill="none"/>
<path d="M41 509.5L41.8 509.5L42.5 509.5L43.3 509.5L44 509.5L44.8 509.44L45.5 509.39L46.3 509.32L47 509.26L47.8 509.19L48.5 509.12L49.3 509.05L50 508.97L50.8 508.89L51.5 508.81L52.3 508.71L53 508.61L53.8 508.5L54.5 508.39L55.3 508.27L56 508.14L56.8 508.01L57.5 507.88L58.3 507.74L59 507.6L59.8 507.45L60.5 507.28L61.3 507.11L62 506.93L62.8 506.74L63.5 506.54L64.3 506.34L65 506.14L65.8 505.93L66.5 505.73L67.3 505.52L68 505.32L68.8 505.11L69.5 504.9L70.3 504.68L71 504.47L71.8 504.24L72.5 504.02L73.3 503.79L74 503.56L74.8 503.32L75.5 503.08L76.3 502.83L77 502.58L77.8 502.33L78.5 502.08L79.3 501.83L80 501.58L80.8 501.31L81.5 501.04L82.3 500.75L83 500.45L83.8 500.13L84.5 499.79L85.3 499.44L86 499.05L86.8 498.62L87.5 498.16L88.3 497.68L89 497.16L89.8 496.62L90.5 496.06L91.3 495.47L92 494.86L92.8 494.14L93.5 493.36L94.3 492.54L95 491.75L95.8 491.01L96.5 490.36L97.3 489.67L98 489L98.8 488.42L99.5 488L100.3 487.81L101 487.71L101.8 487.64L102.5 487.61L103.3 487.7L104 488.06L104.8 488.61L105.5 489.2L106.3 489.74L107 490.27L107.8 490.84L108.5 491.43L109.3 492.02L110 492.58L110.8 493.12L111.5 493.67L112.3 494.23L113 494.76L113.8 495.24L114.5 495.62L115.3 495.9L116 496.12L116.8 496.3L117.5 496.45L118.3 496.6L119 496.75L119.8 496.92L120.5 497.13L121.3 497.36L122 497.6L122.8 497.87L123.5 498.14L124.3 498.43L125 498.72L125.8 499.02L126.5 499.33L127.3 499.65L128 499.99L128.8 500.35L129.5 500.71L130.3 501.07L131 501.44L131.8 501.8L132.5 502.17L133.3 502.52L134 502.87L134.8 503.2L135.5 503.52L136.3 503.86L137 504.2L137.8 504.54L138.5 504.85L139.3 505.12L140 505.36L140.8 505.55L141.5 505.72L142.3 505.88L143 506.03L143.8 506.17L144.5 506.3L145.3 506.4L146 506.49L146.8 506.55L147.5 506.59L148.3 506.63L149 506.67L149.8 506.7L150.5 506.73L151.3 506.75L152 506.77L152.8 506.78L153.5 506.79L154.3 506.78L155 506.74L155.8 506.68L156.5 506.61L157.3 506.54L158 506.47L158.8 506.41L159.5 506.36L160.3 506.35L161 506.35L161.8 506.35L162.5 506.35L163.3 506.35L164 506.35L164.8 506.35L165.5 506.35L166.3 506.35L167 506.35L167.8 506.35L168.5 506.35L169.3 506.35L170 506.37L170.8 506.41L171.5 506.47L172.3 506.55L173 506.64L173.8 506.74L174.5 506.85L175.3 506.95L176 507.05L176.8 507.17L177.5 507.32L178.3 507.47L179 507.63L179.8 507.8L180.5 507.97L181.3 508.13L182 508.28L182.8 508.42L183.5 508.57L184.3 508.73L185 508.88L185.8 509.03L186.5 509.17L187.3 509.29L188 509.37L188.8 509.43L189.5 509.45L190.3 509.48L191 509.5L191.8 509.5L192.5 509.5L193.3 509.5L194 509.5L194.8 509.5L195.5 509.5L196.3 509.5L197 509.5L197.8 509.5L198.5 509.5L199.3 509.5L200 509.5L200.8 509.5L201.5 509.5L202.3 509.5L203 509.5L203.8 509.5L204.5 509.5L205.3 509.5L206 509.5L206.8 509.5L207.5 509.5L208.3 509.5L209 509.5L209.8 509.5L210.5 509.5L211.3 509.5L212 509.5L212.8 509.5L213.5 509.5L214.3 509.5L215 509.5L215.8 509.5L216.5 509.5L217.3 509.5L218 509.5L218.7 509.5L218.69 509.5L41.02 509.5Z" fill="#FF61CC"/>
<path d="M41 509.5L41.8 509.5L42.5 509.5L43.3 509.5L44 509.5L44.8 509.44L45.5 509.39L46.3 509.32L47 509.26L47.8 509.19L48.5 509.12L49.3 509.05L50 508.97L50.8 508.89L51.5 508.81L52.3 508.71L53 508.61L53.8 508.5L54.5 508.39L55.3 508.27L56 508.14L56.8 508.01L57.5 507.88L58.3 507.74L59 507.6L59.8 507.45L60.5 507.28L61.3 507.11L62 506.93L62.8 506.74L63.5 506.54L64.3 506.34L65 506.14L65.8 505.93L66.5 505.73L67.3 505.52L68 505.32L68.8 505.11L69.5 504.9L70.3 504.68L71 504.47L71.8 504.24L72.5 504.02L73.3 503.79L74 503.56L74.8 503.32L75.5 503.08L76.3 502.83L77 502.58L77.8 502.33L78.5 502.08L79.3 501.83L80 501.58L80.8 501.31L81.5 501.04L82.3 500.75L83 500.45L83.8 500.13L84.5 499.79L85.3 499.44L86 499.05L86.8 498.62L87.5 498.16L88.3 497.68L89 497.16L89.8 496.62L90.5 496.06L91.3 495.47L92 494.86L92.8 494.14L93.5 493.36L94.3 492.54L95 491.75L95.8 491.01L96.5 490.36L97.3 489.67L98 489L98.8 488.42L99.5 488L100.3 487.81L101 487.71L101.8 487.64L102.5 487.61L103.3 487.7L104 488.06L104.8 488.61L105.5 489.2L106.3 489.74L107 490.27L107.8 490.84L108.5 491.43L109.3 492.02L110 492.58L110.8 493.12L111.5 493.67L112.3 494.23L113 494.76L113.8 495.24L114.5 495.62L115.3 495.9L116 496.12L116.8 496.3L117.5 496.45L118.3 496.6L119 496.75L119.8 496.92L120.5 497.13L121.3 497.36L122 497.6L122.8 497.87L123.5 498.14L124.3 498.43L125 498.72L125.8 499.02L126.5 499.33L127.3 499.65L128 499.99L128.8 500.35L129.5 500.71L130.3 501.07L131 501.44L131.8 501.8L132.5 502.17L133.3 502.52L134 502.87L134.8 503.2L135.5 503.52L136.3 503.86L137 504.2L137.8 504.54L138.5 504.85L139.3 505.12L140 505.36L140.8 505.55L141.5 505.72L142.3 505.88L143 506.03L143.8 506.17L144.5 506.3L145.3 506.4L146 506.49L146.8 506.55L147.5 506.59L148.3 506.63L149 506.67L149.8 506.7L150.5 506.73L151.3 506.75L152 506.77L152.8 506.78L153.5 506.79L154.3 506.78L155 506.74L155.8 506.68L156.5 506.61L157.3 506.54L158 506.47L158.8 506.41L159.5 506.36L160.3 506.35L161 506.35L161.8 506.35L162.5 506.35L163.3 506.35L164 506.35L164.8 506.35L165.5 506.35L166.3 506.35L167 506.35L167.8 506.35L168.5 506.35L169.3 506.35L170 506.37L170.8 506.41L171.5 506.47L172.3 506.55L173 506.64L173.8 506.74L174.5 506.85L175.3 506.95L176 507.05L176.8 507.17L177.5 507.32L178.3 507.47L179 507.63L179.8 507.8L180.5 507.97L181.3 508.13L182 508.28L182.8 508.42L183.5 508.57L184.3 508.73L185 508.88L185.8 509.03L186.5 509.17L187.3 509.29L188 509.37L188.8 509.43L189.5 509.45L190.3 509.48L191 509.5L191.8 509.5L192.5 509.5L193.3 509.5L194 509.5L194.8 509.5L195.5 509.5L196.3 509.5L197 509.5L197.8 509.5L198.5 509.5L199.3 509.5L200 509.5L200.8 509.5L201.5 509.5L202.3 509.5L203 509.5L203.8 509.5L204.5 509.5L205.3 509.5L206 509.5L206.8 509.5L207.5 509.5L208.3 509.5L209 509.5L209.8 509.5L210.5 509.5L211.3 509.5L212 509.5L212.8 509.5L213.5 509.5L214.3 509.5L215 509.5L215.8 509.5L216.5 509.5L217.3 509.5L218 509.5L218.7 509.5" fill="none" stroke="#0d0d0d" stroke-width="1.15" stroke-linejoin="round"/>
<rect x="32" y="485.49" width="196.7" height="25.15" fill="none" stroke="#7a7a7a" stroke-width="0.7"/>
<rect x="228.7" y="485.49" width="12" height="25.15" fill="#d9d9d9" stroke="#808080" stroke-width="0.65"/>
<text transform="translate(230.5 498.06) rotate(90)" font-size="7.6" text-anchor="middle" font-family="Liberation Sans, Arial, sans-serif" fill="#0a0a0a" stroke="#0a0a0a" stroke-width="0.2">Annual</text>
<text transform="translate(29.4 511.95) rotate(0.03)" font-size="5.85" text-anchor="end" font-family="Liberation Sans, Arial, sans-serif" fill="#555">0.00</text>
<text transform="translate(29.4 503.95) rotate(0.03)" font-size="5.85" text-anchor="end" font-family="Liberation Sans, Arial, sans-serif" fill="#555">0.02</text>
<text transform="translate(29.4 495.95) rotate(0.03)" font-size="5.85" text-anchor="end" font-family="Liberation Sans, Arial, sans-serif" fill="#555">0.04</text>
<path d="M30.4 509.5H32M30.4 501.5H32M30.4 493.5H32" stroke="#4d4d4d" stroke-width="0.5" fill="none"/>
</g>
<text transform="translate(79.1 519.14) rotate(0.03)" font-size="6.4" text-anchor="middle" font-family="Liberation Sans, Arial, sans-serif" fill="#555">20</text>
<text transform="translate(130.1 519.14) rotate(0.03)" font-size="6.4" text-anchor="middle" font-family="Liberation Sans, Arial, sans-serif" fill="#555">40</text>
<text transform="translate(181.1 519.14) rotate(0.03)" font-size="6.4" text-anchor="middle" font-family="Liberation Sans, Arial, sans-serif" fill="#555">60</text>
<path d="M79.1 510.64v1.6M130.1 510.64v1.6M181.1 510.64v1.6" stroke="#4d4d4d" stroke-width="0.5" fill="none"/>
<text x="130.35" y="527.84" font-size="8.45" text-anchor="middle" font-family="Liberation Sans, Arial, sans-serif" fill="#000" stroke="#000" stroke-width="0.12">Traffic Noise, (dB)</text>
<text transform="translate(15.8 399.47) rotate(-90)" font-size="8.5" text-anchor="middle" font-family="Liberation Sans, Arial, sans-serif" fill="#000" stroke="#000" stroke-width="0.12">Density</text>
<text x="124.6" y="543" font-size="9.6" font-weight="bold" text-anchor="middle" font-family="Liberation Serif, Times New Roman, serif" fill="#111">(c)</text>
</g>
<g id="panel-d">
<rect x="254.5" y="275.4" width="236.2" height="255.8" fill="#fff" stroke="#505050" stroke-width="0.85"/>
<text x="378.5" y="283.7" font-size="7.1" text-anchor="middle" font-family="Liberation Sans, Arial, sans-serif" fill="#000" stroke="#000" stroke-width="0.1">Motorways</text>
<g class="facet">
<rect x="280.6" y="288.3" width="195.8" height="25.15" fill="#fff"/>
<path d="M301.6 288.3V313.45M352.6 288.3V313.45M403.6 288.3V313.45M454.6 288.3V313.45M280.6 307.86H476.4M280.6 298.96H476.4M280.6 290.06H476.4" stroke="#f0f0f0" stroke-width="0.3" fill="none"/>
<path d="M327.1 288.3V313.45M378.1 288.3V313.45M429.1 288.3V313.45M280.6 312.31H476.4M280.6 303.41H476.4M280.6 294.51H476.4" stroke="#e8e8e8" stroke-width="0.55" fill="none"/>
<path d="M290.1 312.31L290.9 312.07L291.6 312.07L292.4 312.07L293.1 312.07L293.9 312.07L294.6 312.07L295.4 312.08L296.1 312.08L296.9 312.08L297.6 312.08L298.4 312.09L299.1 312.09L299.9 312.09L300.6 312.1L301.4 312.1L302.1 312.1L302.9 312.11L303.6 312.11L304.4 312.12L305.1 312.12L305.9 312.12L306.6 312.13L307.4 312.13L308.1 312.14L308.9 312.14L309.6 312.15L310.4 312.15L311.1 312.16L311.9 312.17L312.6 312.17L313.4 312.18L314.1 312.18L314.9 312.19L315.6 312.19L316.4 312.2L317.1 312.2L317.9 312.21L318.6 312.22L319.4 312.22L320.1 312.23L320.9 312.23L321.6 312.24L322.4 312.24L323.1 312.25L323.9 312.25L324.6 312.26L325.4 312.26L326.1 312.27L326.9 312.27L327.6 312.28L328.4 312.28L329.1 312.29L329.9 312.29L330.6 312.3L331.4 312.3L332.1 312.3L332.9 312.31L333.6 312.31L334.4 312.31L335.1 312.31L335.9 312.31L336.6 312.31L337.4 312.31L338.1 312.31L338.9 312.31L339.6 312.31L340.4 312.31L341.1 312.31L341.9 312.31L342.6 312.29L343.4 312.16L344.1 311.97L344.9 311.75L345.6 311.51L346.4 311.29L347.1 311.06L347.9 310.79L348.6 310.51L349.4 310.23L350.1 309.96L350.9 309.72L351.6 309.46L352.4 309.2L353.1 308.99L353.9 308.85L354.6 308.81L355.4 308.9L356.1 309.1L356.9 309.37L357.6 309.69L358.4 309.98L359.1 310.25L359.9 310.53L360.6 310.82L361.4 311.09L362.1 311.35L362.9 311.56L363.6 311.75L364.4 311.94L365.1 312.12L365.9 312.29L366.6 312.31L367.4 312.31L368.1 312.31L368.9 312.31L369.6 312.31L370.4 312.31L371.1 312.31L371.9 312.31L372.6 312.31L373.4 312.31L374.1 312.31L374.9 312.31L375.6 312.31L376.4 312.31L377.1 312.31L377.9 312.31L378.6 312.31L379.4 312.31L380.1 312.27L380.9 312.23L381.6 312.19L382.4 312.15L383.1 312.11L383.9 312.07L384.6 312.01L385.4 311.92L386.1 311.81L386.9 311.69L387.6 311.55L388.4 311.4L389.1 311.24L389.9 311.08L390.6 310.92L391.4 310.77L392.1 310.62L392.9 310.48L393.6 310.35L394.4 310.21L395.1 310.06L395.9 309.92L396.6 309.77L397.4 309.63L398.1 309.49L398.9 309.36L399.6 309.25L400.4 309.15L401.1 309.06L401.9 308.99L402.6 308.92L403.4 308.86L404.1 308.8L404.9 308.75L405.6 308.7L406.4 308.65L407.1 308.6L407.9 308.55L408.6 308.5L409.4 308.44L410.1 308.38L410.9 308.32L411.6 308.25L412.4 308.18L413.1 308.11L413.9 308.04L414.6 307.97L415.4 307.89L416.1 307.82L416.9 307.74L417.6 307.65L418.4 307.57L419.1 307.48L419.9 307.4L420.6 307.32L421.4 307.24L422.1 307.15L422.9 307.07L423.6 306.97L424.4 306.86L425.1 306.74L425.9 306.59L426.6 306.43L427.4 306.2L428.1 305.86L428.9 305.41L429.6 304.9L430.4 304.36L431.1 303.81L431.9 303.21L432.6 302.5L433.4 301.74L434.1 300.99L434.9 300.32L435.6 299.77L436.4 299.29L437.1 298.82L437.9 298.41L438.6 298.12L439.4 298.01L440.1 298.05L440.9 298.15L441.6 298.3L442.4 298.49L443.1 298.83L443.9 299.36L444.6 300.03L445.4 300.75L446.1 301.49L446.9 302.18L447.6 302.91L448.4 303.69L449.1 304.49L449.9 305.27L450.6 306L451.4 306.66L452.1 307.32L452.9 307.98L453.6 308.59L454.4 309.13L455.1 309.59L455.9 309.92L456.6 310.2L457.4 310.44L458.1 310.65L458.9 310.83L459.6 311L460.4 311.17L461.1 311.33L461.9 311.5L462.6 311.65L463.4 311.8L464.1 311.94L464.9 312.08L465.6 312.2L466.4 312.31L466.5 312.31L466.49 312.31L290.13 312.31Z" fill="#F8766D"/>
<path d="M290.1 312.31L290.9 312.07L291.6 312.07L292.4 312.07L293.1 312.07L293.9 312.07L294.6 312.07L295.4 312.08L296.1 312.08L296.9 312.08L297.6 312.08L298.4 312.09L299.1 312.09L299.9 312.09L300.6 312.1L301.4 312.1L302.1 312.1L302.9 312.11L303.6 312.11L304.4 312.12L305.1 312.12L305.9 312.12L306.6 312.13L307.4 312.13L308.1 312.14L308.9 312.14L309.6 312.15L310.4 312.15L311.1 312.16L311.9 312.17L312.6 312.17L313.4 312.18L314.1 312.18L314.9 312.19L315.6 312.19L316.4 312.2L317.1 312.2L317.9 312.21L318.6 312.22L319.4 312.22L320.1 312.23L320.9 312.23L321.6 312.24L322.4 312.24L323.1 312.25L323.9 312.25L324.6 312.26L325.4 312.26L326.1 312.27L326.9 312.27L327.6 312.28L328.4 312.28L329.1 312.29L329.9 312.29L330.6 312.3L331.4 312.3L332.1 312.3L332.9 312.31L333.6 312.31L334.4 312.31L335.1 312.31L335.9 312.31L336.6 312.31L337.4 312.31L338.1 312.31L338.9 312.31L339.6 312.31L340.4 312.31L341.1 312.31L341.9 312.31L342.6 312.29L343.4 312.16L344.1 311.97L344.9 311.75L345.6 311.51L346.4 311.29L347.1 311.06L347.9 310.79L348.6 310.51L349.4 310.23L350.1 309.96L350.9 309.72L351.6 309.46L352.4 309.2L353.1 308.99L353.9 308.85L354.6 308.81L355.4 308.9L356.1 309.1L356.9 309.37L357.6 309.69L358.4 309.98L359.1 310.25L359.9 310.53L360.6 310.82L361.4 311.09L362.1 311.35L362.9 311.56L363.6 311.75L364.4 311.94L365.1 312.12L365.9 312.29L366.6 312.31L367.4 312.31L368.1 312.31L368.9 312.31L369.6 312.31L370.4 312.31L371.1 312.31L371.9 312.31L372.6 312.31L373.4 312.31L374.1 312.31L374.9 312.31L375.6 312.31L376.4 312.31L377.1 312.31L377.9 312.31L378.6 312.31L379.4 312.31L380.1 312.27L380.9 312.23L381.6 312.19L382.4 312.15L383.1 312.11L383.9 312.07L384.6 312.01L385.4 311.92L386.1 311.81L386.9 311.69L387.6 311.55L388.4 311.4L389.1 311.24L389.9 311.08L390.6 310.92L391.4 310.77L392.1 310.62L392.9 310.48L393.6 310.35L394.4 310.21L395.1 310.06L395.9 309.92L396.6 309.77L397.4 309.63L398.1 309.49L398.9 309.36L399.6 309.25L400.4 309.15L401.1 309.06L401.9 308.99L402.6 308.92L403.4 308.86L404.1 308.8L404.9 308.75L405.6 308.7L406.4 308.65L407.1 308.6L407.9 308.55L408.6 308.5L409.4 308.44L410.1 308.38L410.9 308.32L411.6 308.25L412.4 308.18L413.1 308.11L413.9 308.04L414.6 307.97L415.4 307.89L416.1 307.82L416.9 307.74L417.6 307.65L418.4 307.57L419.1 307.48L419.9 307.4L420.6 307.32L421.4 307.24L422.1 307.15L422.9 307.07L423.6 306.97L424.4 306.86L425.1 306.74L425.9 306.59L426.6 306.43L427.4 306.2L428.1 305.86L428.9 305.41L429.6 304.9L430.4 304.36L431.1 303.81L431.9 303.21L432.6 302.5L433.4 301.74L434.1 300.99L434.9 300.32L435.6 299.77L436.4 299.29L437.1 298.82L437.9 298.41L438.6 298.12L439.4 298.01L440.1 298.05L440.9 298.15L441.6 298.3L442.4 298.49L443.1 298.83L443.9 299.36L444.6 300.03L445.4 300.75L446.1 301.49L446.9 302.18L447.6 302.91L448.4 303.69L449.1 304.49L449.9 305.27L450.6 306L451.4 306.66L452.1 307.32L452.9 307.98L453.6 308.59L454.4 309.13L455.1 309.59L455.9 309.92L456.6 310.2L457.4 310.44L458.1 310.65L458.9 310.83L459.6 311L460.4 311.17L461.1 311.33L461.9 311.5L462.6 311.65L463.4 311.8L464.1 311.94L464.9 312.08L465.6 312.2L466.4 312.31L466.5 312.31" fill="none" stroke="#0d0d0d" stroke-width="1.15" stroke-linejoin="round"/>
<rect x="280.6" y="288.3" width="195.8" height="25.15" fill="none" stroke="#7a7a7a" stroke-width="0.7"/>
<rect x="476.4" y="288.3" width="11.8" height="25.15" fill="#d9d9d9" stroke="#808080" stroke-width="0.65"/>
<text transform="translate(478.2 300.88) rotate(90)" font-size="7.6" text-anchor="middle" font-family="Liberation Sans, Arial, sans-serif" fill="#0a0a0a" stroke="#0a0a0a" stroke-width="0.2">00-07</text>
<text transform="translate(278 314.76) rotate(0.03)" font-size="5.85" text-anchor="end" font-family="Liberation Sans, Arial, sans-serif" fill="#555">0.00</text>
<text transform="translate(278 305.86) rotate(0.03)" font-size="5.85" text-anchor="end" font-family="Liberation Sans, Arial, sans-serif" fill="#555">0.05</text>
<text transform="translate(278 296.96) rotate(0.03)" font-size="5.85" text-anchor="end" font-family="Liberation Sans, Arial, sans-serif" fill="#555">0.10</text>
<path d="M279 312.31H280.6M279 303.41H280.6M279 294.51H280.6" stroke="#4d4d4d" stroke-width="0.5" fill="none"/>
</g>
<g class="facet">
<rect x="280.6" y="316.47" width="195.8" height="25.15" fill="#fff"/>
<path d="M301.6 316.47V341.62M352.6 316.47V341.62M403.6 316.47V341.62M454.6 316.47V341.62M280.6 336.03H476.4M280.6 327.13H476.4M280.6 318.23H476.4" stroke="#f0f0f0" stroke-width="0.3" fill="none"/>
<path d="M327.1 316.47V341.62M378.1 316.47V341.62M429.1 316.47V341.62M280.6 340.48H476.4M280.6 331.58H476.4M280.6 322.68H476.4" stroke="#e8e8e8" stroke-width="0.55" fill="none"/>
<path d="M290.1 340.48L290.9 340.48L291.6 340.48L292.4 340.48L293.1 340.48L293.9 340.48L294.6 340.48L295.4 340.48L296.1 340.42L296.9 340.36L297.6 340.31L298.4 340.27L299.1 340.23L299.9 340.19L300.6 340.16L301.4 340.13L302.1 340.1L302.9 340.08L303.6 340.05L304.4 340.03L305.1 340L305.9 339.98L306.6 339.96L307.4 339.93L308.1 339.9L308.9 339.88L309.6 339.85L310.4 339.82L311.1 339.78L311.9 339.74L312.6 339.7L313.4 339.66L314.1 339.62L314.9 339.57L315.6 339.53L316.4 339.48L317.1 339.43L317.9 339.38L318.6 339.33L319.4 339.28L320.1 339.22L320.9 339.17L321.6 339.11L322.4 339.06L323.1 339L323.9 338.95L324.6 338.89L325.4 338.84L326.1 338.78L326.9 338.73L327.6 338.67L328.4 338.61L329.1 338.55L329.9 338.48L330.6 338.42L331.4 338.35L332.1 338.29L332.9 338.22L333.6 338.15L334.4 338.08L335.1 338.02L335.9 337.95L336.6 337.89L337.4 337.82L338.1 337.76L338.9 337.7L339.6 337.64L340.4 337.58L341.1 337.52L341.9 337.47L342.6 337.43L343.4 337.38L344.1 337.33L344.9 337.28L345.6 337.23L346.4 337.18L347.1 337.14L347.9 337.1L348.6 337.07L349.4 337.05L350.1 337.03L350.9 337.03L351.6 337.04L352.4 337.05L353.1 337.08L353.9 337.12L354.6 337.16L355.4 337.2L356.1 337.25L356.9 337.3L357.6 337.35L358.4 337.4L359.1 337.44L359.9 337.49L360.6 337.54L361.4 337.58L362.1 337.63L362.9 337.68L363.6 337.73L364.4 337.78L365.1 337.83L365.9 337.89L366.6 337.94L367.4 337.99L368.1 338.05L368.9 338.11L369.6 338.16L370.4 338.22L371.1 338.29L371.9 338.36L372.6 338.44L373.4 338.53L374.1 338.62L374.9 338.71L375.6 338.81L376.4 338.9L377.1 338.98L377.9 339.06L378.6 339.13L379.4 339.19L380.1 339.23L380.9 339.26L381.6 339.27L382.4 339.26L383.1 339.25L383.9 339.23L384.6 339.21L385.4 339.17L386.1 339.14L386.9 339.09L387.6 339.05L388.4 339L389.1 338.92L389.9 338.8L390.6 338.65L391.4 338.47L392.1 338.26L392.9 338.04L393.6 337.8L394.4 337.56L395.1 337.33L395.9 337.12L396.6 336.92L397.4 336.72L398.1 336.51L398.9 336.28L399.6 336.04L400.4 335.79L401.1 335.53L401.9 335.28L402.6 335.04L403.4 334.8L404.1 334.58L404.9 334.39L405.6 334.21L406.4 334.06L407.1 333.9L407.9 333.75L408.6 333.59L409.4 333.45L410.1 333.31L410.9 333.18L411.6 333.07L412.4 332.97L413.1 332.9L413.9 332.86L414.6 332.84L415.4 332.85L416.1 332.89L416.9 332.94L417.6 333.01L418.4 333.1L419.1 333.2L419.9 333.3L420.6 333.41L421.4 333.51L422.1 333.64L422.9 333.79L423.6 333.96L424.4 334.15L425.1 334.35L425.9 334.56L426.6 334.78L427.4 334.99L428.1 335.2L428.9 335.4L429.6 335.59L430.4 335.76L431.1 335.93L431.9 336.1L432.6 336.27L433.4 336.44L434.1 336.6L434.9 336.76L435.6 336.91L436.4 337.06L437.1 337.19L437.9 337.31L438.6 337.43L439.4 337.53L440.1 337.64L440.9 337.74L441.6 337.83L442.4 337.92L443.1 338L443.9 338.08L444.6 338.16L445.4 338.24L446.1 338.32L446.9 338.4L447.6 338.48L448.4 338.57L449.1 338.66L449.9 338.75L450.6 338.84L451.4 338.93L452.1 339.02L452.9 339.11L453.6 339.2L454.4 339.28L455.1 339.37L455.9 339.46L456.6 339.55L457.4 339.63L458.1 339.71L458.9 339.79L459.6 339.87L460.4 339.95L461.1 340.03L461.9 340.11L462.6 340.18L463.4 340.26L464.1 340.33L464.9 340.4L465.6 340.47L466.4 340.48L466.5 340.48L466.49 340.48L290.13 340.48Z" fill="#CD9600"/>
<path d="M290.1 340.48L290.9 340.48L291.6 340.48L292.4 340.48L293.1 340.48L293.9 340.48L294.6 340.48L295.4 340.48L296.1 340.42L296.9 340.36L297.6 340.31L298.4 340.27L299.1 340.23L299.9 340.19L300.6 340.16L301.4 340.13L302.1 340.1L302.9 340.08L303.6 340.05L304.4 340.03L305.1 340L305.9 339.98L306.6 339.96L307.4 339.93L308.1 339.9L308.9 339.88L309.6 339.85L310.4 339.82L311.1 339.78L311.9 339.74L312.6 339.7L313.4 339.66L314.1 339.62L314.9 339.57L315.6 339.53L316.4 339.48L317.1 339.43L317.9 339.38L318.6 339.33L319.4 339.28L320.1 339.22L320.9 339.17L321.6 339.11L322.4 339.06L323.1 339L323.9 338.95L324.6 338.89L325.4 338.84L326.1 338.78L326.9 338.73L327.6 338.67L328.4 338.61L329.1 338.55L329.9 338.48L330.6 338.42L331.4 338.35L332.1 338.29L332.9 338.22L333.6 338.15L334.4 338.08L335.1 338.02L335.9 337.95L336.6 337.89L337.4 337.82L338.1 337.76L338.9 337.7L339.6 337.64L340.4 337.58L341.1 337.52L341.9 337.47L342.6 337.43L343.4 337.38L344.1 337.33L344.9 337.28L345.6 337.23L346.4 337.18L347.1 337.14L347.9 337.1L348.6 337.07L349.4 337.05L350.1 337.03L350.9 337.03L351.6 337.04L352.4 337.05L353.1 337.08L353.9 337.12L354.6 337.16L355.4 337.2L356.1 337.25L356.9 337.3L357.6 337.35L358.4 337.4L359.1 337.44L359.9 337.49L360.6 337.54L361.4 337.58L362.1 337.63L362.9 337.68L363.6 337.73L364.4 337.78L365.1 337.83L365.9 337.89L366.6 337.94L367.4 337.99L368.1 338.05L368.9 338.11L369.6 338.16L370.4 338.22L371.1 338.29L371.9 338.36L372.6 338.44L373.4 338.53L374.1 338.62L374.9 338.71L375.6 338.81L376.4 338.9L377.1 338.98L377.9 339.06L378.6 339.13L379.4 339.19L380.1 339.23L380.9 339.26L381.6 339.27L382.4 339.26L383.1 339.25L383.9 339.23L384.6 339.21L385.4 339.17L386.1 339.14L386.9 339.09L387.6 339.05L388.4 339L389.1 338.92L389.9 338.8L390.6 338.65L391.4 338.47L392.1 338.26L392.9 338.04L393.6 337.8L394.4 337.56L395.1 337.33L395.9 337.12L396.6 336.92L397.4 336.72L398.1 336.51L398.9 336.28L399.6 336.04L400.4 335.79L401.1 335.53L401.9 335.28L402.6 335.04L403.4 334.8L404.1 334.58L404.9 334.39L405.6 334.21L406.4 334.06L407.1 333.9L407.9 333.75L408.6 333.59L409.4 333.45L410.1 333.31L410.9 333.18L411.6 333.07L412.4 332.97L413.1 332.9L413.9 332.86L414.6 332.84L415.4 332.85L416.1 332.89L416.9 332.94L417.6 333.01L418.4 333.1L419.1 333.2L419.9 333.3L420.6 333.41L421.4 333.51L422.1 333.64L422.9 333.79L423.6 333.96L424.4 334.15L425.1 334.35L425.9 334.56L426.6 334.78L427.4 334.99L428.1 335.2L428.9 335.4L429.6 335.59L430.4 335.76L431.1 335.93L431.9 336.1L432.6 336.27L433.4 336.44L434.1 336.6L434.9 336.76L435.6 336.91L436.4 337.06L437.1 337.19L437.9 337.31L438.6 337.43L439.4 337.53L440.1 337.64L440.9 337.74L441.6 337.83L442.4 337.92L443.1 338L443.9 338.08L444.6 338.16L445.4 338.24L446.1 338.32L446.9 338.4L447.6 338.48L448.4 338.57L449.1 338.66L449.9 338.75L450.6 338.84L451.4 338.93L452.1 339.02L452.9 339.11L453.6 339.2L454.4 339.28L455.1 339.37L455.9 339.46L456.6 339.55L457.4 339.63L458.1 339.71L458.9 339.79L459.6 339.87L460.4 339.95L461.1 340.03L461.9 340.11L462.6 340.18L463.4 340.26L464.1 340.33L464.9 340.4L465.6 340.47L466.4 340.48L466.5 340.48" fill="none" stroke="#0d0d0d" stroke-width="1.15" stroke-linejoin="round"/>
<rect x="280.6" y="316.47" width="195.8" height="25.15" fill="none" stroke="#7a7a7a" stroke-width="0.7"/>
<rect x="476.4" y="316.47" width="11.8" height="25.15" fill="#d9d9d9" stroke="#808080" stroke-width="0.65"/>
<text transform="translate(478.2 329.05) rotate(90)" font-size="7.6" text-anchor="middle" font-family="Liberation Sans, Arial, sans-serif" fill="#0a0a0a" stroke="#0a0a0a" stroke-width="0.2">07-09</text>
<text transform="translate(278 342.93) rotate(0.03)" font-size="5.85" text-anchor="end" font-family="Liberation Sans, Arial, sans-serif" fill="#555">0.00</text>
<text transform="translate(278 334.03) rotate(0.03)" font-size="5.85" text-anchor="end" font-family="Liberation Sans, Arial, sans-serif" fill="#555">0.05</text>
<text transform="translate(278 325.13) rotate(0.03)" font-size="5.85" text-anchor="end" font-family="Liberation Sans, Arial, sans-serif" fill="#555">0.10</text>
<path d="M279 340.48H280.6M279 331.58H280.6M279 322.68H280.6" stroke="#4d4d4d" stroke-width="0.5" fill="none"/>
</g>
<g class="facet">
<rect x="280.6" y="344.64" width="195.8" height="25.15" fill="#fff"/>
<path d="M301.6 344.64V369.79M352.6 344.64V369.79M403.6 344.64V369.79M454.6 344.64V369.79M280.6 364.2H476.4M280.6 355.3H476.4M280.6 346.4H476.4" stroke="#f0f0f0" stroke-width="0.3" fill="none"/>
<path d="M327.1 344.64V369.79M378.1 344.64V369.79M429.1 344.64V369.79M280.6 368.65H476.4M280.6 359.75H476.4M280.6 350.85H476.4" stroke="#e8e8e8" stroke-width="0.55" fill="none"/>
<path d="M290.1 368.65L290.9 368.52L291.6 368.52L292.4 368.52L293.1 368.52L293.9 368.52L294.6 368.52L295.4 368.52L296.1 368.52L296.9 368.52L297.6 368.52L298.4 368.52L299.1 368.52L299.9 368.52L300.6 368.52L301.4 368.52L302.1 368.52L302.9 368.52L303.6 368.52L304.4 368.52L305.1 368.52L305.9 368.52L306.6 368.52L307.4 368.52L308.1 368.52L308.9 368.52L309.6 368.52L310.4 368.52L311.1 368.52L311.9 368.52L312.6 368.52L313.4 368.52L314.1 368.52L314.9 368.52L315.6 368.52L316.4 368.52L317.1 368.52L317.9 368.52L318.6 368.52L319.4 368.52L320.1 368.52L320.9 368.52L321.6 368.52L322.4 368.52L323.1 368.51L323.9 368.49L324.6 368.46L325.4 368.41L326.1 368.37L326.9 368.31L327.6 368.26L328.4 368.2L329.1 368.14L329.9 368.08L330.6 368.03L331.4 367.98L332.1 367.93L332.9 367.89L333.6 367.84L334.4 367.79L335.1 367.74L335.9 367.67L336.6 367.6L337.4 367.51L338.1 367.39L338.9 367.18L339.6 366.93L340.4 366.66L341.1 366.42L341.9 366.22L342.6 366.06L343.4 365.91L344.1 365.78L344.9 365.7L345.6 365.71L346.4 365.85L347.1 366.05L347.9 366.28L348.6 366.48L349.4 366.67L350.1 366.86L350.9 367.06L351.6 367.25L352.4 367.43L353.1 367.59L353.9 367.73L354.6 367.83L355.4 367.93L356.1 368.02L356.9 368.1L357.6 368.18L358.4 368.25L359.1 368.32L359.9 368.38L360.6 368.44L361.4 368.49L362.1 368.55L362.9 368.61L363.6 368.65L364.4 368.65L365.1 368.65L365.9 368.65L366.6 368.65L367.4 368.65L368.1 368.64L368.9 368.53L369.6 368.4L370.4 368.28L371.1 368.17L371.9 368.08L372.6 368.02L373.4 367.99L374.1 367.97L374.9 367.95L375.6 367.93L376.4 367.91L377.1 367.9L377.9 367.89L378.6 367.88L379.4 367.87L380.1 367.86L380.9 367.85L381.6 367.84L382.4 367.83L383.1 367.82L383.9 367.8L384.6 367.79L385.4 367.77L386.1 367.75L386.9 367.73L387.6 367.7L388.4 367.68L389.1 367.65L389.9 367.62L390.6 367.59L391.4 367.56L392.1 367.52L392.9 367.48L393.6 367.45L394.4 367.4L395.1 367.36L395.9 367.31L396.6 367.27L397.4 367.22L398.1 367.16L398.9 367.1L399.6 367.04L400.4 366.97L401.1 366.89L401.9 366.8L402.6 366.71L403.4 366.61L404.1 366.5L404.9 366.38L405.6 366.25L406.4 366.11L407.1 365.93L407.9 365.73L408.6 365.51L409.4 365.27L410.1 365L410.9 364.7L411.6 364.36L412.4 363.98L413.1 363.5L413.9 362.82L414.6 361.98L415.4 361.02L416.1 359.97L416.9 358.87L417.6 357.54L418.4 355.91L419.1 354.23L419.9 352.75L420.6 351.59L421.4 350.42L422.1 349.46L422.9 348.96L423.6 348.96L424.4 349.06L425.1 349.22L425.9 349.44L426.6 350.15L427.4 351.34L428.1 352.77L428.9 354.2L429.6 355.64L430.4 357.3L431.1 358.98L431.9 360.42L432.6 361.42L433.4 362.27L434.1 363.03L434.9 363.69L435.6 364.24L436.4 364.66L437.1 364.95L437.9 365.19L438.6 365.4L439.4 365.58L440.1 365.75L440.9 365.91L441.6 366.08L442.4 366.24L443.1 366.41L443.9 366.61L444.6 366.83L445.4 367.06L446.1 367.29L446.9 367.51L447.6 367.7L448.4 367.86L449.1 367.97L449.9 368.01L450.6 367.98L451.4 367.89L452.1 367.76L452.9 367.59L453.6 367.41L454.4 367.24L455.1 367L455.9 366.69L456.6 366.4L457.4 366.23L458.1 366.24L458.9 366.37L459.6 366.58L460.4 366.81L461.1 367.02L461.9 367.21L462.6 367.41L463.4 367.61L464.1 367.82L464.9 368.04L465.6 368.26L466.4 368.49L466.5 368.52L466.49 368.65L290.13 368.65Z" fill="#7CAE00"/>
<path d="M290.1 368.65L290.9 368.52L291.6 368.52L292.4 368.52L293.1 368.52L293.9 368.52L294.6 368.52L295.4 368.52L296.1 368.52L296.9 368.52L297.6 368.52L298.4 368.52L299.1 368.52L299.9 368.52L300.6 368.52L301.4 368.52L302.1 368.52L302.9 368.52L303.6 368.52L304.4 368.52L305.1 368.52L305.9 368.52L306.6 368.52L307.4 368.52L308.1 368.52L308.9 368.52L309.6 368.52L310.4 368.52L311.1 368.52L311.9 368.52L312.6 368.52L313.4 368.52L314.1 368.52L314.9 368.52L315.6 368.52L316.4 368.52L317.1 368.52L317.9 368.52L318.6 368.52L319.4 368.52L320.1 368.52L320.9 368.52L321.6 368.52L322.4 368.52L323.1 368.51L323.9 368.49L324.6 368.46L325.4 368.41L326.1 368.37L326.9 368.31L327.6 368.26L328.4 368.2L329.1 368.14L329.9 368.08L330.6 368.03L331.4 367.98L332.1 367.93L332.9 367.89L333.6 367.84L334.4 367.79L335.1 367.74L335.9 367.67L336.6 367.6L337.4 367.51L338.1 367.39L338.9 367.18L339.6 366.93L340.4 366.66L341.1 366.42L341.9 366.22L342.6 366.06L343.4 365.91L344.1 365.78L344.9 365.7L345.6 365.71L346.4 365.85L347.1 366.05L347.9 366.28L348.6 366.48L349.4 366.67L350.1 366.86L350.9 367.06L351.6 367.25L352.4 367.43L353.1 367.59L353.9 367.73L354.6 367.83L355.4 367.93L356.1 368.02L356.9 368.1L357.6 368.18L358.4 368.25L359.1 368.32L359.9 368.38L360.6 368.44L361.4 368.49L362.1 368.55L362.9 368.61L363.6 368.65L364.4 368.65L365.1 368.65L365.9 368.65L366.6 368.65L367.4 368.65L368.1 368.64L368.9 368.53L369.6 368.4L370.4 368.28L371.1 368.17L371.9 368.08L372.6 368.02L373.4 367.99L374.1 367.97L374.9 367.95L375.6 367.93L376.4 367.91L377.1 367.9L377.9 367.89L378.6 367.88L379.4 367.87L380.1 367.86L380.9 367.85L381.6 367.84L382.4 367.83L383.1 367.82L383.9 367.8L384.6 367.79L385.4 367.77L386.1 367.75L386.9 367.73L387.6 367.7L388.4 367.68L389.1 367.65L389.9 367.62L390.6 367.59L391.4 367.56L392.1 367.52L392.9 367.48L393.6 367.45L394.4 367.4L395.1 367.36L395.9 367.31L396.6 367.27L397.4 367.22L398.1 367.16L398.9 367.1L399.6 367.04L400.4 366.97L401.1 366.89L401.9 366.8L402.6 366.71L403.4 366.61L404.1 366.5L404.9 366.38L405.6 366.25L406.4 366.11L407.1 365.93L407.9 365.73L408.6 365.51L409.4 365.27L410.1 365L410.9 364.7L411.6 364.36L412.4 363.98L413.1 363.5L413.9 362.82L414.6 361.98L415.4 361.02L416.1 359.97L416.9 358.87L417.6 357.54L418.4 355.91L419.1 354.23L419.9 352.75L420.6 351.59L421.4 350.42L422.1 349.46L422.9 348.96L423.6 348.96L424.4 349.06L425.1 349.22L425.9 349.44L426.6 350.15L427.4 351.34L428.1 352.77L428.9 354.2L429.6 355.64L430.4 357.3L431.1 358.98L431.9 360.42L432.6 361.42L433.4 362.27L434.1 363.03L434.9 363.69L435.6 364.24L436.4 364.66L437.1 364.95L437.9 365.19L438.6 365.4L439.4 365.58L440.1 365.75L440.9 365.91L441.6 366.08L442.4 366.24L443.1 366.41L443.9 366.61L444.6 366.83L445.4 367.06L446.1 367.29L446.9 367.51L447.6 367.7L448.4 367.86L449.1 367.97L449.9 368.01L450.6 367.98L451.4 367.89L452.1 367.76L452.9 367.59L453.6 367.41L454.4 367.24L455.1 367L455.9 366.69L456.6 366.4L457.4 366.23L458.1 366.24L458.9 366.37L459.6 366.58L460.4 366.81L461.1 367.02L461.9 367.21L462.6 367.41L463.4 367.61L464.1 367.82L464.9 368.04L465.6 368.26L466.4 368.49L466.5 368.52" fill="none" stroke="#0d0d0d" stroke-width="1.15" stroke-linejoin="round"/>
<rect x="280.6" y="344.64" width="195.8" height="25.15" fill="none" stroke="#7a7a7a" stroke-width="0.7"/>
<rect x="476.4" y="344.64" width="11.8" height="25.15" fill="#d9d9d9" stroke="#808080" stroke-width="0.65"/>
<text transform="translate(478.2 357.21) rotate(90)" font-size="7.6" text-anchor="middle" font-family="Liberation Sans, Arial, sans-serif" fill="#0a0a0a" stroke="#0a0a0a" stroke-width="0.2">09-12</text>
<text transform="translate(278 371.1) rotate(0.03)" font-size="5.85" text-anchor="end" font-family="Liberation Sans, Arial, sans-serif" fill="#555">0.00</text>
<text transform="translate(278 362.2) rotate(0.03)" font-size="5.85" text-anchor="end" font-family="Liberation Sans, Arial, sans-serif" fill="#555">0.05</text>
<text transform="translate(278 353.3) rotate(0.03)" font-size="5.85" text-anchor="end" font-family="Liberation Sans, Arial, sans-serif" fill="#555">0.10</text>
<path d="M279 368.65H280.6M279 359.75H280.6M279 350.85H280.6" stroke="#4d4d4d" stroke-width="0.5" fill="none"/>
</g>
<g class="facet">
<rect x="280.6" y="372.81" width="195.8" height="25.15" fill="#fff"/>
<path d="M301.6 372.81V397.96M352.6 372.81V397.96M403.6 372.81V397.96M454.6 372.81V397.96M280.6 392.37H476.4M280.6 383.47H476.4M280.6 374.57H476.4" stroke="#f0f0f0" stroke-width="0.3" fill="none"/>
<path d="M327.1 372.81V397.96M378.1 372.81V397.96M429.1 372.81V397.96M280.6 396.82H476.4M280.6 387.92H476.4M280.6 379.02H476.4" stroke="#e8e8e8" stroke-width="0.55" fill="none"/>
<path d="M290.1 396.82L290.9 396.49L291.6 396.49L292.4 396.49L293.1 396.49L293.9 396.49L294.6 396.49L295.4 396.49L296.1 396.49L296.9 396.49L297.6 396.49L298.4 396.49L299.1 396.49L299.9 396.49L300.6 396.49L301.4 396.49L302.1 396.49L302.9 396.49L303.6 396.49L304.4 396.49L305.1 396.49L305.9 396.49L306.6 396.49L307.4 396.49L308.1 396.49L308.9 396.49L309.6 396.49L310.4 396.49L311.1 396.49L311.9 396.49L312.6 396.49L313.4 396.49L314.1 396.49L314.9 396.49L315.6 396.49L316.4 396.49L317.1 396.49L317.9 396.49L318.6 396.49L319.4 396.49L320.1 396.49L320.9 396.49L321.6 396.49L322.4 396.49L323.1 396.49L323.9 396.49L324.6 396.49L325.4 396.49L326.1 396.49L326.9 396.49L327.6 396.49L328.4 396.49L329.1 396.49L329.9 396.47L330.6 396.43L331.4 396.38L332.1 396.31L332.9 396.24L333.6 396.16L334.4 396.08L335.1 396L335.9 395.92L336.6 395.81L337.4 395.7L338.1 395.58L338.9 395.45L339.6 395.31L340.4 395.19L341.1 395.07L341.9 394.96L342.6 394.85L343.4 394.74L344.1 394.62L344.9 394.51L345.6 394.4L346.4 394.31L347.1 394.24L347.9 394.19L348.6 394.18L349.4 394.21L350.1 394.28L350.9 394.38L351.6 394.5L352.4 394.64L353.1 394.78L353.9 394.92L354.6 395.06L355.4 395.24L356.1 395.44L356.9 395.65L357.6 395.85L358.4 396.03L359.1 396.17L359.9 396.27L360.6 396.36L361.4 396.44L362.1 396.52L362.9 396.59L363.6 396.65L364.4 396.7L365.1 396.73L365.9 396.75L366.6 396.75L367.4 396.75L368.1 396.74L368.9 396.74L369.6 396.73L370.4 396.71L371.1 396.7L371.9 396.68L372.6 396.66L373.4 396.64L374.1 396.62L374.9 396.59L375.6 396.56L376.4 396.53L377.1 396.5L377.9 396.43L378.6 396.29L379.4 396.1L380.1 395.86L380.9 395.61L381.6 395.34L382.4 395.09L383.1 394.86L383.9 394.68L384.6 394.52L385.4 394.37L386.1 394.21L386.9 394.07L387.6 393.92L388.4 393.79L389.1 393.68L389.9 393.58L390.6 393.48L391.4 393.38L392.1 393.3L392.9 393.22L393.6 393.14L394.4 393.06L395.1 392.98L395.9 392.91L396.6 392.86L397.4 392.82L398.1 392.8L398.9 392.84L399.6 392.92L400.4 393.04L401.1 393.19L401.9 393.34L402.6 393.48L403.4 393.64L404.1 393.84L404.9 394.07L405.6 394.26L406.4 394.4L407.1 394.43L407.9 394.31L408.6 394.05L409.4 393.7L410.1 393.31L410.9 392.88L411.6 392.42L412.4 391.79L413.1 390.99L413.9 390.06L414.6 389.07L415.4 388.05L416.1 387.05L416.9 385.91L417.6 384.68L418.4 383.44L419.1 382.27L419.9 381.26L420.6 380.42L421.4 379.57L422.1 378.86L422.9 378.49L423.6 378.56L424.4 378.88L425.1 379.37L425.9 379.94L426.6 380.93L427.4 382.28L428.1 383.76L428.9 385.1L429.6 386.24L430.4 387.39L431.1 388.46L431.9 389.33L432.6 389.94L433.4 390.43L434.1 390.87L434.9 391.25L435.6 391.59L436.4 391.89L437.1 392.15L437.9 392.38L438.6 392.58L439.4 392.77L440.1 392.94L440.9 393.09L441.6 393.24L442.4 393.37L443.1 393.5L443.9 393.63L444.6 393.75L445.4 393.89L446.1 394.04L446.9 394.18L447.6 394.33L448.4 394.47L449.1 394.6L449.9 394.74L450.6 394.87L451.4 394.99L452.1 395.12L452.9 395.24L453.6 395.35L454.4 395.47L455.1 395.58L455.9 395.69L456.6 395.79L457.4 395.9L458.1 396L458.9 396.11L459.6 396.21L460.4 396.3L461.1 396.4L461.9 396.49L462.6 396.58L463.4 396.67L464.1 396.76L464.9 396.82L465.6 396.82L466.4 396.82L466.5 396.82L466.49 396.82L290.13 396.82Z" fill="#00BE67"/>
<path d="M290.1 396.82L290.9 396.49L291.6 396.49L292.4 396.49L293.1 396.49L293.9 396.49L294.6 396.49L295.4 396.49L296.1 396.49L296.9 396.49L297.6 396.49L298.4 396.49L299.1 396.49L299.9 396.49L300.6 396.49L301.4 396.49L302.1 396.49L302.9 396.49L303.6 396.49L304.4 396.49L305.1 396.49L305.9 396.49L306.6 396.49L307.4 396.49L308.1 396.49L308.9 396.49L309.6 396.49L310.4 396.49L311.1 396.49L311.9 396.49L312.6 396.49L313.4 396.49L314.1 396.49L314.9 396.49L315.6 396.49L316.4 396.49L317.1 396.49L317.9 396.49L318.6 396.49L319.4 396.49L320.1 396.49L320.9 396.49L321.6 396.49L322.4 396.49L323.1 396.49L323.9 396.49L324.6 396.49L325.4 396.49L326.1 396.49L326.9 396.49L327.6 396.49L328.4 396.49L329.1 396.49L329.9 396.47L330.6 396.43L331.4 396.38L332.1 396.31L332.9 396.24L333.6 396.16L334.4 396.08L335.1 396L335.9 395.92L336.6 395.81L337.4 395.7L338.1 395.58L338.9 395.45L339.6 395.31L340.4 395.19L341.1 395.07L341.9 394.96L342.6 394.85L343.4 394.74L344.1 394.62L344.9 394.51L345.6 394.4L346.4 394.31L347.1 394.24L347.9 394.19L348.6 394.18L349.4 394.21L350.1 394.28L350.9 394.38L351.6 394.5L352.4 394.64L353.1 394.78L353.9 394.92L354.6 395.06L355.4 395.24L356.1 395.44L356.9 395.65L357.6 395.85L358.4 396.03L359.1 396.17L359.9 396.27L360.6 396.36L361.4 396.44L362.1 396.52L362.9 396.59L363.6 396.65L364.4 396.7L365.1 396.73L365.9 396.75L366.6 396.75L367.4 396.75L368.1 396.74L368.9 396.74L369.6 396.73L370.4 396.71L371.1 396.7L371.9 396.68L372.6 396.66L373.4 396.64L374.1 396.62L374.9 396.59L375.6 396.56L376.4 396.53L377.1 396.5L377.9 396.43L378.6 396.29L379.4 396.1L380.1 395.86L380.9 395.61L381.6 395.34L382.4 395.09L383.1 394.86L383.9 394.68L384.6 394.52L385.4 394.37L386.1 394.21L386.9 394.07L387.6 393.92L388.4 393.79L389.1 393.68L389.9 393.58L390.6 393.48L391.4 393.38L392.1 393.3L392.9 393.22L393.6 393.14L394.4 393.06L395.1 392.98L395.9 392.91L396.6 392.86L397.4 392.82L398.1 392.8L398.9 392.84L399.6 392.92L400.4 393.04L401.1 393.19L401.9 393.34L402.6 393.48L403.4 393.64L404.1 393.84L404.9 394.07L405.6 394.26L406.4 394.4L407.1 394.43L407.9 394.31L408.6 394.05L409.4 393.7L410.1 393.31L410.9 392.88L411.6 392.42L412.4 391.79L413.1 390.99L413.9 390.06L414.6 389.07L415.4 388.05L416.1 387.05L416.9 385.91L417.6 384.68L418.4 383.44L419.1 382.27L419.9 381.26L420.6 380.42L421.4 379.57L422.1 378.86L422.9 378.49L423.6 378.56L424.4 378.88L425.1 379.37L425.9 379.94L426.6 380.93L427.4 382.28L428.1 383.76L428.9 385.1L429.6 386.24L430.4 387.39L431.1 388.46L431.9 389.33L432.6 389.94L433.4 390.43L434.1 390.87L434.9 391.25L435.6 391.59L436.4 391.89L437.1 392.15L437.9 392.38L438.6 392.58L439.4 392.77L440.1 392.94L440.9 393.09L441.6 393.24L442.4 393.37L443.1 393.5L443.9 393.63L444.6 393.75L445.4 393.89L446.1 394.04L446.9 394.18L447.6 394.33L448.4 394.47L449.1 394.6L449.9 394.74L450.6 394.87L451.4 394.99L452.1 395.12L452.9 395.24L453.6 395.35L454.4 395.47L455.1 395.58L455.9 395.69L456.6 395.79L457.4 395.9L458.1 396L458.9 396.11L459.6 396.21L460.4 396.3L461.1 396.4L461.9 396.49L462.6 396.58L463.4 396.67L464.1 396.76L464.9 396.82L465.6 396.82L466.4 396.82L466.5 396.82" fill="none" stroke="#0d0d0d" stroke-width="1.15" stroke-linejoin="round"/>
<rect x="280.6" y="372.81" width="195.8" height="25.15" fill="none" stroke="#7a7a7a" stroke-width="0.7"/>
<rect x="476.4" y="372.81" width="11.8" height="25.15" fill="#d9d9d9" stroke="#808080" stroke-width="0.65"/>
<text transform="translate(478.2 385.38) rotate(90)" font-size="7.6" text-anchor="middle" font-family="Liberation Sans, Arial, sans-serif" fill="#0a0a0a" stroke="#0a0a0a" stroke-width="0.2">12-14</text>
<text transform="translate(278 399.27) rotate(0.03)" font-size="5.85" text-anchor="end" font-family="Liberation Sans, Arial, sans-serif" fill="#555">0.00</text>
<text transform="translate(278 390.37) rotate(0.03)" font-size="5.85" text-anchor="end" font-family="Liberation Sans, Arial, sans-serif" fill="#555">0.05</text>
<text transform="translate(278 381.47) rotate(0.03)" font-size="5.85" text-anchor="end" font-family="Liberation Sans, Arial, sans-serif" fill="#555">0.10</text>
<path d="M279 396.82H280.6M279 387.92H280.6M279 379.02H280.6" stroke="#4d4d4d" stroke-width="0.5" fill="none"/>
</g>
<g class="facet">
<rect x="280.6" y="400.98" width="195.8" height="25.15" fill="#fff"/>
<path d="M301.6 400.98V426.13M352.6 400.98V426.13M403.6 400.98V426.13M454.6 400.98V426.13M280.6 420.54H476.4M280.6 411.64H476.4M280.6 402.74H476.4" stroke="#f0f0f0" stroke-width="0.3" fill="none"/>
<path d="M327.1 400.98V426.13M378.1 400.98V426.13M429.1 400.98V426.13M280.6 424.99H476.4M280.6 416.09H476.4M280.6 407.19H476.4" stroke="#e8e8e8" stroke-width="0.55" fill="none"/>
<path d="M290.1 424.99L290.9 424.47L291.6 424.47L292.4 424.47L293.1 424.47L293.9 424.47L294.6 424.47L295.4 424.47L296.1 424.47L296.9 424.47L297.6 424.47L298.4 424.47L299.1 424.47L299.9 424.47L300.6 424.47L301.4 424.47L302.1 424.47L302.9 424.47L303.6 424.47L304.4 424.47L305.1 424.47L305.9 424.47L306.6 424.47L307.4 424.47L308.1 424.47L308.9 424.47L309.6 424.47L310.4 424.47L311.1 424.47L311.9 424.47L312.6 424.45L313.4 424.43L314.1 424.41L314.9 424.38L315.6 424.34L316.4 424.3L317.1 424.26L317.9 424.22L318.6 424.17L319.4 424.12L320.1 424.07L320.9 424.03L321.6 423.98L322.4 423.94L323.1 423.9L323.9 423.85L324.6 423.8L325.4 423.75L326.1 423.69L326.9 423.64L327.6 423.58L328.4 423.52L329.1 423.47L329.9 423.41L330.6 423.36L331.4 423.3L332.1 423.25L332.9 423.2L333.6 423.15L334.4 423.1L335.1 423.04L335.9 422.98L336.6 422.92L337.4 422.87L338.1 422.82L338.9 422.77L339.6 422.73L340.4 422.7L341.1 422.68L341.9 422.67L342.6 422.68L343.4 422.69L344.1 422.71L344.9 422.75L345.6 422.79L346.4 422.83L347.1 422.89L347.9 422.94L348.6 423L349.4 423.07L350.1 423.13L350.9 423.2L351.6 423.28L352.4 423.4L353.1 423.53L353.9 423.66L354.6 423.81L355.4 423.94L356.1 424.06L356.9 424.16L357.6 424.24L358.4 424.3L359.1 424.37L359.9 424.43L360.6 424.49L361.4 424.54L362.1 424.59L362.9 424.63L363.6 424.67L364.4 424.7L365.1 424.72L365.9 424.73L366.6 424.73L367.4 424.72L368.1 424.71L368.9 424.7L369.6 424.68L370.4 424.66L371.1 424.63L371.9 424.61L372.6 424.58L373.4 424.54L374.1 424.51L374.9 424.48L375.6 424.44L376.4 424.39L377.1 424.32L377.9 424.25L378.6 424.16L379.4 424.07L380.1 423.98L380.9 423.87L381.6 423.77L382.4 423.66L383.1 423.55L383.9 423.43L384.6 423.31L385.4 423.18L386.1 423.03L386.9 422.87L387.6 422.7L388.4 422.53L389.1 422.36L389.9 422.19L390.6 422.03L391.4 421.89L392.1 421.77L392.9 421.66L393.6 421.55L394.4 421.46L395.1 421.36L395.9 421.27L396.6 421.19L397.4 421.1L398.1 421.01L398.9 420.92L399.6 420.83L400.4 420.74L401.1 420.64L401.9 420.53L402.6 420.42L403.4 420.31L404.1 420.2L404.9 420.08L405.6 419.95L406.4 419.82L407.1 419.68L407.9 419.53L408.6 419.37L409.4 419.2L410.1 419.03L410.9 418.84L411.6 418.63L412.4 418.4L413.1 418.14L413.9 417.86L414.6 417.53L415.4 417.11L416.1 416.55L416.9 415.87L417.6 415.12L418.4 414.31L419.1 413.5L419.9 412.53L420.6 411.41L421.4 410.3L422.1 409.38L422.9 408.72L423.6 408.1L424.4 407.61L425.1 407.37L425.9 407.5L426.6 407.96L427.4 408.62L428.1 409.35L428.9 410.42L429.6 411.77L430.4 413.2L431.1 414.5L431.9 415.63L432.6 416.75L433.4 417.79L434.1 418.67L434.9 419.34L435.6 419.93L436.4 420.46L437.1 420.92L437.9 421.3L438.6 421.6L439.4 421.81L440.1 421.97L440.9 422.14L441.6 422.28L442.4 422.41L443.1 422.53L443.9 422.64L444.6 422.76L445.4 422.9L446.1 423.05L446.9 423.23L447.6 423.42L448.4 423.61L449.1 423.8L449.9 423.96L450.6 424.09L451.4 424.18L452.1 424.21L452.9 424.21L453.6 424.2L454.4 424.18L455.1 424.15L455.9 424.12L456.6 424.09L457.4 424.04L458.1 424L458.9 423.95L459.6 423.84L460.4 423.68L461.1 423.5L461.9 423.33L462.6 423.22L463.4 423.19L464.1 423.29L464.9 423.5L465.6 423.79L466.4 424.15L466.5 424.21L466.49 424.99L290.13 424.99Z" fill="#00BFC4"/>
<path d="M290.1 424.99L290.9 424.47L291.6 424.47L292.4 424.47L293.1 424.47L293.9 424.47L294.6 424.47L295.4 424.47L296.1 424.47L296.9 424.47L297.6 424.47L298.4 424.47L299.1 424.47L299.9 424.47L300.6 424.47L301.4 424.47L302.1 424.47L302.9 424.47L303.6 424.47L304.4 424.47L305.1 424.47L305.9 424.47L306.6 424.47L307.4 424.47L308.1 424.47L308.9 424.47L309.6 424.47L310.4 424.47L311.1 424.47L311.9 424.47L312.6 424.45L313.4 424.43L314.1 424.41L314.9 424.38L315.6 424.34L316.4 424.3L317.1 424.26L317.9 424.22L318.6 424.17L319.4 424.12L320.1 424.07L320.9 424.03L321.6 423.98L322.4 423.94L323.1 423.9L323.9 423.85L324.6 423.8L325.4 423.75L326.1 423.69L326.9 423.64L327.6 423.58L328.4 423.52L329.1 423.47L329.9 423.41L330.6 423.36L331.4 423.3L332.1 423.25L332.9 423.2L333.6 423.15L334.4 423.1L335.1 423.04L335.9 422.98L336.6 422.92L337.4 422.87L338.1 422.82L338.9 422.77L339.6 422.73L340.4 422.7L341.1 422.68L341.9 422.67L342.6 422.68L343.4 422.69L344.1 422.71L344.9 422.75L345.6 422.79L346.4 422.83L347.1 422.89L347.9 422.94L348.6 423L349.4 423.07L350.1 423.13L350.9 423.2L351.6 423.28L352.4 423.4L353.1 423.53L353.9 423.66L354.6 423.81L355.4 423.94L356.1 424.06L356.9 424.16L357.6 424.24L358.4 424.3L359.1 424.37L359.9 424.43L360.6 424.49L361.4 424.54L362.1 424.59L362.9 424.63L363.6 424.67L364.4 424.7L365.1 424.72L365.9 424.73L366.6 424.73L367.4 424.72L368.1 424.71L368.9 424.7L369.6 424.68L370.4 424.66L371.1 424.63L371.9 424.61L372.6 424.58L373.4 424.54L374.1 424.51L374.9 424.48L375.6 424.44L376.4 424.39L377.1 424.32L377.9 424.25L378.6 424.16L379.4 424.07L380.1 423.98L380.9 423.87L381.6 423.77L382.4 423.66L383.1 423.55L383.9 423.43L384.6 423.31L385.4 423.18L386.1 423.03L386.9 422.87L387.6 422.7L388.4 422.53L389.1 422.36L389.9 422.19L390.6 422.03L391.4 421.89L392.1 421.77L392.9 421.66L393.6 421.55L394.4 421.46L395.1 421.36L395.9 421.27L396.6 421.19L397.4 421.1L398.1 421.01L398.9 420.92L399.6 420.83L400.4 420.74L401.1 420.64L401.9 420.53L402.6 420.42L403.4 420.31L404.1 420.2L404.9 420.08L405.6 419.95L406.4 419.82L407.1 419.68L407.9 419.53L408.6 419.37L409.4 419.2L410.1 419.03L410.9 418.84L411.6 418.63L412.4 418.4L413.1 418.14L413.9 417.86L414.6 417.53L415.4 417.11L416.1 416.55L416.9 415.87L417.6 415.12L418.4 414.31L419.1 413.5L419.9 412.53L420.6 411.41L421.4 410.3L422.1 409.38L422.9 408.72L423.6 408.1L424.4 407.61L425.1 407.37L425.9 407.5L426.6 407.96L427.4 408.62L428.1 409.35L428.9 410.42L429.6 411.77L430.4 413.2L431.1 414.5L431.9 415.63L432.6 416.75L433.4 417.79L434.1 418.67L434.9 419.34L435.6 419.93L436.4 420.46L437.1 420.92L437.9 421.3L438.6 421.6L439.4 421.81L440.1 421.97L440.9 422.14L441.6 422.28L442.4 422.41L443.1 422.53L443.9 422.64L444.6 422.76L445.4 422.9L446.1 423.05L446.9 423.23L447.6 423.42L448.4 423.61L449.1 423.8L449.9 423.96L450.6 424.09L451.4 424.18L452.1 424.21L452.9 424.21L453.6 424.2L454.4 424.18L455.1 424.15L455.9 424.12L456.6 424.09L457.4 424.04L458.1 424L458.9 423.95L459.6 423.84L460.4 423.68L461.1 423.5L461.9 423.33L462.6 423.22L463.4 423.19L464.1 423.29L464.9 423.5L465.6 423.79L466.4 424.15L466.5 424.21" fill="none" stroke="#0d0d0d" stroke-width="1.15" stroke-linejoin="round"/>
<rect x="280.6" y="400.98" width="195.8" height="25.15" fill="none" stroke="#7a7a7a" stroke-width="0.7"/>
<rect x="476.4" y="400.98" width="11.8" height="25.15" fill="#d9d9d9" stroke="#808080" stroke-width="0.65"/>
<text transform="translate(478.2 413.56) rotate(90)" font-size="7.6" text-anchor="middle" font-family="Liberation Sans, Arial, sans-serif" fill="#0a0a0a" stroke="#0a0a0a" stroke-width="0.2">14-16</text>
<text transform="translate(278 427.44) rotate(0.03)" font-size="5.85" text-anchor="end" font-family="Liberation Sans, Arial, sans-serif" fill="#555">0.00</text>
<text transform="translate(278 418.54) rotate(0.03)" font-size="5.85" text-anchor="end" font-family="Liberation Sans, Arial, sans-serif" fill="#555">0.05</text>
<text transform="translate(278 409.64) rotate(0.03)" font-size="5.85" text-anchor="end" font-family="Liberation Sans, Arial, sans-serif" fill="#555">0.10</text>
<path d="M279 424.99H280.6M279 416.09H280.6M279 407.19H280.6" stroke="#4d4d4d" stroke-width="0.5" fill="none"/>
</g>
<g class="facet">
<rect x="280.6" y="429.15" width="195.8" height="25.15" fill="#fff"/>
<path d="M301.6 429.15V454.3M352.6 429.15V454.3M403.6 429.15V454.3M454.6 429.15V454.3M280.6 448.71H476.4M280.6 439.81H476.4M280.6 430.91H476.4" stroke="#f0f0f0" stroke-width="0.3" fill="none"/>
<path d="M327.1 429.15V454.3M378.1 429.15V454.3M429.1 429.15V454.3M280.6 453.16H476.4M280.6 444.26H476.4M280.6 435.36H476.4" stroke="#e8e8e8" stroke-width="0.55" fill="none"/>
<path d="M290.1 453.16L290.9 452.69L291.6 452.67L292.4 452.65L293.1 452.63L293.9 452.61L294.6 452.6L295.4 452.58L296.1 452.57L296.9 452.56L297.6 452.56L298.4 452.55L299.1 452.55L299.9 452.54L300.6 452.54L301.4 452.53L302.1 452.53L302.9 452.53L303.6 452.53L304.4 452.52L305.1 452.52L305.9 452.51L306.6 452.51L307.4 452.5L308.1 452.49L308.9 452.48L309.6 452.47L310.4 452.46L311.1 452.44L311.9 452.42L312.6 452.38L313.4 452.34L314.1 452.3L314.9 452.25L315.6 452.19L316.4 452.13L317.1 452.07L317.9 452L318.6 451.94L319.4 451.87L320.1 451.81L320.9 451.75L321.6 451.7L322.4 451.65L323.1 451.6L323.9 451.56L324.6 451.51L325.4 451.46L326.1 451.42L326.9 451.37L327.6 451.33L328.4 451.28L329.1 451.24L329.9 451.2L330.6 451.15L331.4 451.11L332.1 451.07L332.9 451.03L333.6 450.99L334.4 450.95L335.1 450.91L335.9 450.87L336.6 450.83L337.4 450.78L338.1 450.73L338.9 450.69L339.6 450.64L340.4 450.6L341.1 450.55L341.9 450.51L342.6 450.48L343.4 450.44L344.1 450.42L344.9 450.4L345.6 450.39L346.4 450.38L347.1 450.38L347.9 450.38L348.6 450.38L349.4 450.38L350.1 450.38L350.9 450.38L351.6 450.38L352.4 450.38L353.1 450.38L353.9 450.38L354.6 450.38L355.4 450.38L356.1 450.38L356.9 450.38L357.6 450.38L358.4 450.38L359.1 450.38L359.9 450.38L360.6 450.38L361.4 450.38L362.1 450.38L362.9 450.38L363.6 450.38L364.4 450.38L365.1 450.38L365.9 450.38L366.6 450.38L367.4 450.36L368.1 450.32L368.9 450.27L369.6 450.21L370.4 450.15L371.1 450.09L371.9 450.04L372.6 449.99L373.4 449.95L374.1 449.92L374.9 449.91L375.6 449.91L376.4 449.91L377.1 449.91L377.9 449.91L378.6 449.91L379.4 449.91L380.1 449.91L380.9 449.91L381.6 449.91L382.4 449.88L383.1 449.81L383.9 449.7L384.6 449.57L385.4 449.41L386.1 449.25L386.9 449.08L387.6 448.92L388.4 448.78L389.1 448.64L389.9 448.49L390.6 448.33L391.4 448.17L392.1 448.01L392.9 447.84L393.6 447.68L394.4 447.53L395.1 447.38L395.9 447.24L396.6 447.11L397.4 446.99L398.1 446.88L398.9 446.77L399.6 446.67L400.4 446.57L401.1 446.47L401.9 446.37L402.6 446.28L403.4 446.2L404.1 446.12L404.9 446.04L405.6 445.96L406.4 445.89L407.1 445.83L407.9 445.76L408.6 445.7L409.4 445.63L410.1 445.58L410.9 445.52L411.6 445.47L412.4 445.41L413.1 445.37L413.9 445.32L414.6 445.28L415.4 445.24L416.1 445.2L416.9 445.16L417.6 445.13L418.4 445.1L419.1 445.07L419.9 445.06L420.6 445.08L421.4 445.17L422.1 445.34L422.9 445.56L423.6 445.82L424.4 446.11L425.1 446.39L425.9 446.67L426.6 446.99L427.4 447.37L428.1 447.78L428.9 448.2L429.6 448.6L430.4 448.95L431.1 449.22L431.9 449.43L432.6 449.63L433.4 449.82L434.1 450L434.9 450.16L435.6 450.32L436.4 450.45L437.1 450.56L437.9 450.64L438.6 450.71L439.4 450.76L440.1 450.81L440.9 450.85L441.6 450.88L442.4 450.92L443.1 450.95L443.9 450.98L444.6 451.01L445.4 451.04L446.1 451.07L446.9 451.11L447.6 451.15L448.4 451.19L449.1 451.24L449.9 451.28L450.6 451.33L451.4 451.38L452.1 451.43L452.9 451.48L453.6 451.53L454.4 451.59L455.1 451.64L455.9 451.7L456.6 451.75L457.4 451.81L458.1 451.87L458.9 451.93L459.6 452L460.4 452.07L461.1 452.14L461.9 452.21L462.6 452.28L463.4 452.36L464.1 452.44L464.9 452.52L465.6 452.6L466.4 452.69L466.5 452.7L466.49 453.16L290.13 453.16Z" fill="#00A9FF"/>
<path d="M290.1 453.16L290.9 452.69L291.6 452.67L292.4 452.65L293.1 452.63L293.9 452.61L294.6 452.6L295.4 452.58L296.1 452.57L296.9 452.56L297.6 452.56L298.4 452.55L299.1 452.55L299.9 452.54L300.6 452.54L301.4 452.53L302.1 452.53L302.9 452.53L303.6 452.53L304.4 452.52L305.1 452.52L305.9 452.51L306.6 452.51L307.4 452.5L308.1 452.49L308.9 452.48L309.6 452.47L310.4 452.46L311.1 452.44L311.9 452.42L312.6 452.38L313.4 452.34L314.1 452.3L314.9 452.25L315.6 452.19L316.4 452.13L317.1 452.07L317.9 452L318.6 451.94L319.4 451.87L320.1 451.81L320.9 451.75L321.6 451.7L322.4 451.65L323.1 451.6L323.9 451.56L324.6 451.51L325.4 451.46L326.1 451.42L326.9 451.37L327.6 451.33L328.4 451.28L329.1 451.24L329.9 451.2L330.6 451.15L331.4 451.11L332.1 451.07L332.9 451.03L333.6 450.99L334.4 450.95L335.1 450.91L335.9 450.87L336.6 450.83L337.4 450.78L338.1 450.73L338.9 450.69L339.6 450.64L340.4 450.6L341.1 450.55L341.9 450.51L342.6 450.48L343.4 450.44L344.1 450.42L344.9 450.4L345.6 450.39L346.4 450.38L347.1 450.38L347.9 450.38L348.6 450.38L349.4 450.38L350.1 450.38L350.9 450.38L351.6 450.38L352.4 450.38L353.1 450.38L353.9 450.38L354.6 450.38L355.4 450.38L356.1 450.38L356.9 450.38L357.6 450.38L358.4 450.38L359.1 450.38L359.9 450.38L360.6 450.38L361.4 450.38L362.1 450.38L362.9 450.38L363.6 450.38L364.4 450.38L365.1 450.38L365.9 450.38L366.6 450.38L367.4 450.36L368.1 450.32L368.9 450.27L369.6 450.21L370.4 450.15L371.1 450.09L371.9 450.04L372.6 449.99L373.4 449.95L374.1 449.92L374.9 449.91L375.6 449.91L376.4 449.91L377.1 449.91L377.9 449.91L378.6 449.91L379.4 449.91L380.1 449.91L380.9 449.91L381.6 449.91L382.4 449.88L383.1 449.81L383.9 449.7L384.6 449.57L385.4 449.41L386.1 449.25L386.9 449.08L387.6 448.92L388.4 448.78L389.1 448.64L389.9 448.49L390.6 448.33L391.4 448.17L392.1 448.01L392.9 447.84L393.6 447.68L394.4 447.53L395.1 447.38L395.9 447.24L396.6 447.11L397.4 446.99L398.1 446.88L398.9 446.77L399.6 446.67L400.4 446.57L401.1 446.47L401.9 446.37L402.6 446.28L403.4 446.2L404.1 446.12L404.9 446.04L405.6 445.96L406.4 445.89L407.1 445.83L407.9 445.76L408.6 445.7L409.4 445.63L410.1 445.58L410.9 445.52L411.6 445.47L412.4 445.41L413.1 445.37L413.9 445.32L414.6 445.28L415.4 445.24L416.1 445.2L416.9 445.16L417.6 445.13L418.4 445.1L419.1 445.07L419.9 445.06L420.6 445.08L421.4 445.17L422.1 445.34L422.9 445.56L423.6 445.82L424.4 446.11L425.1 446.39L425.9 446.67L426.6 446.99L427.4 447.37L428.1 447.78L428.9 448.2L429.6 448.6L430.4 448.95L431.1 449.22L431.9 449.43L432.6 449.63L433.4 449.82L434.1 450L434.9 450.16L435.6 450.32L436.4 450.45L437.1 450.56L437.9 450.64L438.6 450.71L439.4 450.76L440.1 450.81L440.9 450.85L441.6 450.88L442.4 450.92L443.1 450.95L443.9 450.98L444.6 451.01L445.4 451.04L446.1 451.07L446.9 451.11L447.6 451.15L448.4 451.19L449.1 451.24L449.9 451.28L450.6 451.33L451.4 451.38L452.1 451.43L452.9 451.48L453.6 451.53L454.4 451.59L455.1 451.64L455.9 451.7L456.6 451.75L457.4 451.81L458.1 451.87L458.9 451.93L459.6 452L460.4 452.07L461.1 452.14L461.9 452.21L462.6 452.28L463.4 452.36L464.1 452.44L464.9 452.52L465.6 452.6L466.4 452.69L466.5 452.7" fill="none" stroke="#0d0d0d" stroke-width="1.15" stroke-linejoin="round"/>
<rect x="280.6" y="429.15" width="195.8" height="25.15" fill="none" stroke="#7a7a7a" stroke-width="0.7"/>
<rect x="476.4" y="429.15" width="11.8" height="25.15" fill="#d9d9d9" stroke="#808080" stroke-width="0.65"/>
<text transform="translate(478.2 441.73) rotate(90)" font-size="7.6" text-anchor="middle" font-family="Liberation Sans, Arial, sans-serif" fill="#0a0a0a" stroke="#0a0a0a" stroke-width="0.2">16-19</text>
<text transform="translate(278 455.61) rotate(0.03)" font-size="5.85" text-anchor="end" font-family="Liberation Sans, Arial, sans-serif" fill="#555">0.00</text>
<text transform="translate(278 446.71) rotate(0.03)" font-size="5.85" text-anchor="end" font-family="Liberation Sans, Arial, sans-serif" fill="#555">0.05</text>
<text transform="translate(278 437.81) rotate(0.03)" font-size="5.85" text-anchor="end" font-family="Liberation Sans, Arial, sans-serif" fill="#555">0.10</text>
<path d="M279 453.16H280.6M279 444.26H280.6M279 435.36H280.6" stroke="#4d4d4d" stroke-width="0.5" fill="none"/>
</g>
<g class="facet">
<rect x="280.6" y="457.32" width="195.8" height="25.15" fill="#fff"/>
<path d="M301.6 457.32V482.47M352.6 457.32V482.47M403.6 457.32V482.47M454.6 457.32V482.47M280.6 476.88H476.4M280.6 467.98H476.4M280.6 459.08H476.4" stroke="#f0f0f0" stroke-width="0.3" fill="none"/>
<path d="M327.1 457.32V482.47M378.1 457.32V482.47M429.1 457.32V482.47M280.6 481.33H476.4M280.6 472.43H476.4M280.6 463.53H476.4" stroke="#e8e8e8" stroke-width="0.55" fill="none"/>
<path d="M290.1 481.33L290.9 480.92L291.6 480.92L292.4 480.92L293.1 480.92L293.9 480.92L294.6 480.92L295.4 480.92L296.1 480.92L296.9 480.92L297.6 480.92L298.4 480.92L299.1 480.92L299.9 480.92L300.6 480.92L301.4 480.92L302.1 480.92L302.9 480.92L303.6 480.92L304.4 480.92L305.1 480.92L305.9 480.92L306.6 480.92L307.4 480.92L308.1 480.92L308.9 480.92L309.6 480.92L310.4 480.92L311.1 480.92L311.9 480.92L312.6 480.92L313.4 480.92L314.1 480.92L314.9 480.92L315.6 480.92L316.4 480.92L317.1 480.92L317.9 480.92L318.6 480.92L319.4 480.92L320.1 480.92L320.9 480.92L321.6 480.92L322.4 480.92L323.1 480.92L323.9 480.92L324.6 480.92L325.4 480.92L326.1 480.92L326.9 480.92L327.6 480.92L328.4 480.92L329.1 480.92L329.9 480.92L330.6 480.92L331.4 480.92L332.1 480.92L332.9 480.92L333.6 480.92L334.4 480.92L335.1 480.92L335.9 480.92L336.6 480.92L337.4 480.92L338.1 480.92L338.9 480.92L339.6 480.92L340.4 480.92L341.1 480.92L341.9 480.92L342.6 480.92L343.4 480.92L344.1 480.92L344.9 480.87L345.6 480.74L346.4 480.53L347.1 480.27L347.9 479.92L348.6 479.28L349.4 478.49L350.1 477.82L350.9 477.25L351.6 476.61L352.4 476.05L353.1 475.73L353.9 475.79L354.6 476.19L355.4 476.77L356.1 477.37L356.9 477.96L357.6 478.72L358.4 479.53L359.1 480.18L359.9 480.52L360.6 480.78L361.4 480.99L362.1 481.13L362.9 481.18L363.6 481.18L364.4 481.18L365.1 481.18L365.9 481.18L366.6 481.18L367.4 481.18L368.1 481.18L368.9 481.18L369.6 481.18L370.4 481.18L371.1 481.18L371.9 481.18L372.6 481.18L373.4 481.18L374.1 481.18L374.9 481.18L375.6 481.18L376.4 481.18L377.1 481.18L377.9 481.18L378.6 481.18L379.4 481.18L380.1 481.18L380.9 481.16L381.6 481.14L382.4 481.11L383.1 481.07L383.9 481.03L384.6 480.99L385.4 480.96L386.1 480.92L386.9 480.89L387.6 480.85L388.4 480.82L389.1 480.79L389.9 480.76L390.6 480.72L391.4 480.68L392.1 480.63L392.9 480.58L393.6 480.52L394.4 480.46L395.1 480.38L395.9 480.23L396.6 480.02L397.4 479.78L398.1 479.52L398.9 479.27L399.6 479.04L400.4 478.86L401.1 478.71L401.9 478.55L402.6 478.43L403.4 478.36L404.1 478.38L404.9 478.49L405.6 478.68L406.4 478.91L407.1 479.14L407.9 479.34L408.6 479.5L409.4 479.69L410.1 479.87L410.9 480.05L411.6 480.21L412.4 480.33L413.1 480.4L413.9 480.41L414.6 480.39L415.4 480.34L416.1 480.28L416.9 480.2L417.6 480.11L418.4 480L419.1 479.89L419.9 479.72L420.6 479.47L421.4 479.15L422.1 478.76L422.9 478.33L423.6 477.94L424.4 477.53L425.1 477.12L425.9 476.72L426.6 476.32L427.4 475.9L428.1 475.46L428.9 474.98L429.6 474.45L430.4 473.84L431.1 473.15L431.9 472.27L432.6 471.12L433.4 469.77L434.1 468.32L434.9 466.8L435.6 464.9L436.4 462.95L437.1 461.34L437.9 460.28L438.6 459.33L439.4 458.56L440.1 458.12L440.9 458.09L441.6 458.28L442.4 458.6L443.1 459.03L443.9 459.72L444.6 461.06L445.4 462.77L446.1 464.58L446.9 466.86L447.6 469.47L448.4 471.87L449.1 473.62L449.9 475.11L450.6 476.43L451.4 477.47L452.1 478.11L452.9 478.48L453.6 478.83L454.4 479.12L455.1 479.36L455.9 479.56L456.6 479.72L457.4 479.85L458.1 479.96L458.9 480.03L459.6 480.1L460.4 480.15L461.1 480.2L461.9 480.26L462.6 480.34L463.4 480.44L464.1 480.61L464.9 480.84L465.6 481.1L466.4 481.33L466.5 481.33L466.49 481.33L290.13 481.33Z" fill="#C77CFF"/>
<path d="M290.1 481.33L290.9 480.92L291.6 480.92L292.4 480.92L293.1 480.92L293.9 480.92L294.6 480.92L295.4 480.92L296.1 480.92L296.9 480.92L297.6 480.92L298.4 480.92L299.1 480.92L299.9 480.92L300.6 480.92L301.4 480.92L302.1 480.92L302.9 480.92L303.6 480.92L304.4 480.92L305.1 480.92L305.9 480.92L306.6 480.92L307.4 480.92L308.1 480.92L308.9 480.92L309.6 480.92L310.4 480.92L311.1 480.92L311.9 480.92L312.6 480.92L313.4 480.92L314.1 480.92L314.9 480.92L315.6 480.92L316.4 480.92L317.1 480.92L317.9 480.92L318.6 480.92L319.4 480.92L320.1 480.92L320.9 480.92L321.6 480.92L322.4 480.92L323.1 480.92L323.9 480.92L324.6 480.92L325.4 480.92L326.1 480.92L326.9 480.92L327.6 480.92L328.4 480.92L329.1 480.92L329.9 480.92L330.6 480.92L331.4 480.92L332.1 480.92L332.9 480.92L333.6 480.92L334.4 480.92L335.1 480.92L335.9 480.92L336.6 480.92L337.4 480.92L338.1 480.92L338.9 480.92L339.6 480.92L340.4 480.92L341.1 480.92L341.9 480.92L342.6 480.92L343.4 480.92L344.1 480.92L344.9 480.87L345.6 480.74L346.4 480.53L347.1 480.27L347.9 479.92L348.6 479.28L349.4 478.49L350.1 477.82L350.9 477.25L351.6 476.61L352.4 476.05L353.1 475.73L353.9 475.79L354.6 476.19L355.4 476.77L356.1 477.37L356.9 477.96L357.6 478.72L358.4 479.53L359.1 480.18L359.9 480.52L360.6 480.78L361.4 480.99L362.1 481.13L362.9 481.18L363.6 481.18L364.4 481.18L365.1 481.18L365.9 481.18L366.6 481.18L367.4 481.18L368.1 481.18L368.9 481.18L369.6 481.18L370.4 481.18L371.1 481.18L371.9 481.18L372.6 481.18L373.4 481.18L374.1 481.18L374.9 481.18L375.6 481.18L376.4 481.18L377.1 481.18L377.9 481.18L378.6 481.18L379.4 481.18L380.1 481.18L380.9 481.16L381.6 481.14L382.4 481.11L383.1 481.07L383.9 481.03L384.6 480.99L385.4 480.96L386.1 480.92L386.9 480.89L387.6 480.85L388.4 480.82L389.1 480.79L389.9 480.76L390.6 480.72L391.4 480.68L392.1 480.63L392.9 480.58L393.6 480.52L394.4 480.46L395.1 480.38L395.9 480.23L396.6 480.02L397.4 479.78L398.1 479.52L398.9 479.27L399.6 479.04L400.4 478.86L401.1 478.71L401.9 478.55L402.6 478.43L403.4 478.36L404.1 478.38L404.9 478.49L405.6 478.68L406.4 478.91L407.1 479.14L407.9 479.34L408.6 479.5L409.4 479.69L410.1 479.87L410.9 480.05L411.6 480.21L412.4 480.33L413.1 480.4L413.9 480.41L414.6 480.39L415.4 480.34L416.1 480.28L416.9 480.2L417.6 480.11L418.4 480L419.1 479.89L419.9 479.72L420.6 479.47L421.4 479.15L422.1 478.76L422.9 478.33L423.6 477.94L424.4 477.53L425.1 477.12L425.9 476.72L426.6 476.32L427.4 475.9L428.1 475.46L428.9 474.98L429.6 474.45L430.4 473.84L431.1 473.15L431.9 472.27L432.6 471.12L433.4 469.77L434.1 468.32L434.9 466.8L435.6 464.9L436.4 462.95L437.1 461.34L437.9 460.28L438.6 459.33L439.4 458.56L440.1 458.12L440.9 458.09L441.6 458.28L442.4 458.6L443.1 459.03L443.9 459.72L444.6 461.06L445.4 462.77L446.1 464.58L446.9 466.86L447.6 469.47L448.4 471.87L449.1 473.62L449.9 475.11L450.6 476.43L451.4 477.47L452.1 478.11L452.9 478.48L453.6 478.83L454.4 479.12L455.1 479.36L455.9 479.56L456.6 479.72L457.4 479.85L458.1 479.96L458.9 480.03L459.6 480.1L460.4 480.15L461.1 480.2L461.9 480.26L462.6 480.34L463.4 480.44L464.1 480.61L464.9 480.84L465.6 481.1L466.4 481.33L466.5 481.33" fill="none" stroke="#0d0d0d" stroke-width="1.15" stroke-linejoin="round"/>
<rect x="280.6" y="457.32" width="195.8" height="25.15" fill="none" stroke="#7a7a7a" stroke-width="0.7"/>
<rect x="476.4" y="457.32" width="11.8" height="25.15" fill="#d9d9d9" stroke="#808080" stroke-width="0.65"/>
<text transform="translate(478.2 469.9) rotate(90)" font-size="7.6" text-anchor="middle" font-family="Liberation Sans, Arial, sans-serif" fill="#0a0a0a" stroke="#0a0a0a" stroke-width="0.2">19-24</text>
<text transform="translate(278 483.78) rotate(0.03)" font-size="5.85" text-anchor="end" font-family="Liberation Sans, Arial, sans-serif" fill="#555">0.00</text>
<text transform="translate(278 474.88) rotate(0.03)" font-size="5.85" text-anchor="end" font-family="Liberation Sans, Arial, sans-serif" fill="#555">0.05</text>
<text transform="translate(278 465.98) rotate(0.03)" font-size="5.85" text-anchor="end" font-family="Liberation Sans, Arial, sans-serif" fill="#555">0.10</text>
<path d="M279 481.33H280.6M279 472.43H280.6M279 463.53H280.6" stroke="#4d4d4d" stroke-width="0.5" fill="none"/>
</g>
<g class="facet">
<rect x="280.6" y="485.49" width="195.8" height="25.15" fill="#fff"/>
<path d="M301.6 485.49V510.64M352.6 485.49V510.64M403.6 485.49V510.64M454.6 485.49V510.64M280.6 505.05H476.4M280.6 496.15H476.4M280.6 487.25H476.4" stroke="#f0f0f0" stroke-width="0.3" fill="none"/>
<path d="M327.1 485.49V510.64M378.1 485.49V510.64M429.1 485.49V510.64M280.6 509.5H476.4M280.6 500.6H476.4M280.6 491.7H476.4" stroke="#e8e8e8" stroke-width="0.55" fill="none"/>
<path d="M290.1 509.5L290.9 509.15L291.6 509.15L292.4 509.15L293.1 509.15L293.9 509.15L294.6 509.15L295.4 509.15L296.1 509.15L296.9 509.15L297.6 509.15L298.4 509.15L299.1 509.15L299.9 509.15L300.6 509.15L301.4 509.15L302.1 509.15L302.9 509.15L303.6 509.15L304.4 509.15L305.1 509.15L305.9 509.15L306.6 509.15L307.4 509.15L308.1 509.15L308.9 509.15L309.6 509.15L310.4 509.15L311.1 509.15L311.9 509.15L312.6 509.15L313.4 509.15L314.1 509.15L314.9 509.15L315.6 509.15L316.4 509.15L317.1 509.15L317.9 509.15L318.6 509.15L319.4 509.15L320.1 509.15L320.9 509.15L321.6 509.15L322.4 509.15L323.1 509.15L323.9 509.15L324.6 509.15L325.4 509.15L326.1 509.15L326.9 509.15L327.6 509.15L328.4 509.15L329.1 509.15L329.9 509.14L330.6 509.12L331.4 509.09L332.1 509.05L332.9 509.01L333.6 508.96L334.4 508.91L335.1 508.85L335.9 508.78L336.6 508.72L337.4 508.65L338.1 508.57L338.9 508.47L339.6 508.34L340.4 508.19L341.1 508.03L341.9 507.86L342.6 507.69L343.4 507.52L344.1 507.35L344.9 507.18L345.6 507L346.4 506.81L347.1 506.62L347.9 506.46L348.6 506.34L349.4 506.22L350.1 506.1L350.9 506L351.6 505.93L352.4 505.91L353.1 505.98L353.9 506.13L354.6 506.34L355.4 506.57L356.1 506.8L356.9 506.99L357.6 507.18L358.4 507.36L359.1 507.55L359.9 507.72L360.6 507.89L361.4 508.05L362.1 508.19L362.9 508.34L363.6 508.5L364.4 508.65L365.1 508.8L365.9 508.93L366.6 509.04L367.4 509.11L368.1 509.15L368.9 509.15L369.6 509.15L370.4 509.15L371.1 509.15L371.9 509.15L372.6 509.15L373.4 509.15L374.1 509.15L374.9 509.15L375.6 509.15L376.4 509.15L377.1 509.15L377.9 509.14L378.6 509.11L379.4 509.05L380.1 508.98L380.9 508.89L381.6 508.79L382.4 508.68L383.1 508.57L383.9 508.45L384.6 508.33L385.4 508.22L386.1 508.11L386.9 507.99L387.6 507.84L388.4 507.68L389.1 507.5L389.9 507.33L390.6 507.15L391.4 506.99L392.1 506.85L392.9 506.73L393.6 506.64L394.4 506.59L395.1 506.58L395.9 506.59L396.6 506.61L397.4 506.63L398.1 506.66L398.9 506.7L399.6 506.74L400.4 506.78L401.1 506.82L401.9 506.87L402.6 506.94L403.4 507.03L404.1 507.12L404.9 507.21L405.6 507.29L406.4 507.34L407.1 507.35L407.9 507.2L408.6 506.89L409.4 506.48L410.1 506.08L410.9 505.7L411.6 505.36L412.4 505.02L413.1 504.66L413.9 504.31L414.6 503.96L415.4 503.64L416.1 503.36L416.9 503.13L417.6 502.94L418.4 502.76L419.1 502.56L419.9 502.33L420.6 502.04L421.4 501.67L422.1 501L422.9 500.01L423.6 498.85L424.4 497.65L425.1 496.47L425.9 495.1L426.6 493.71L427.4 492.48L428.1 491.56L428.9 490.73L429.6 489.97L430.4 489.41L431.1 489.15L431.9 489.32L432.6 489.85L433.4 490.59L434.1 491.4L434.9 492.49L435.6 493.95L436.4 495.57L437.1 497.15L437.9 498.48L438.6 499.62L439.4 500.71L440.1 501.69L440.9 502.55L441.6 503.29L442.4 503.98L443.1 504.61L443.9 505.18L444.6 505.67L445.4 506.05L446.1 506.36L446.9 506.65L447.6 506.95L448.4 507.21L449.1 507.45L449.9 507.66L450.6 507.84L451.4 508L452.1 508.12L452.9 508.22L453.6 508.3L454.4 508.37L455.1 508.43L455.9 508.48L456.6 508.53L457.4 508.58L458.1 508.63L458.9 508.69L459.6 508.75L460.4 508.83L461.1 508.91L461.9 509.02L462.6 509.14L463.4 509.27L464.1 509.42L464.9 509.5L465.6 509.5L466.4 509.5L466.5 509.5L466.49 509.5L290.13 509.5Z" fill="#FF61CC"/>
<path d="M290.1 509.5L290.9 509.15L291.6 509.15L292.4 509.15L293.1 509.15L293.9 509.15L294.6 509.15L295.4 509.15L296.1 509.15L296.9 509.15L297.6 509.15L298.4 509.15L299.1 509.15L299.9 509.15L300.6 509.15L301.4 509.15L302.1 509.15L302.9 509.15L303.6 509.15L304.4 509.15L305.1 509.15L305.9 509.15L306.6 509.15L307.4 509.15L308.1 509.15L308.9 509.15L309.6 509.15L310.4 509.15L311.1 509.15L311.9 509.15L312.6 509.15L313.4 509.15L314.1 509.15L314.9 509.15L315.6 509.15L316.4 509.15L317.1 509.15L317.9 509.15L318.6 509.15L319.4 509.15L320.1 509.15L320.9 509.15L321.6 509.15L322.4 509.15L323.1 509.15L323.9 509.15L324.6 509.15L325.4 509.15L326.1 509.15L326.9 509.15L327.6 509.15L328.4 509.15L329.1 509.15L329.9 509.14L330.6 509.12L331.4 509.09L332.1 509.05L332.9 509.01L333.6 508.96L334.4 508.91L335.1 508.85L335.9 508.78L336.6 508.72L337.4 508.65L338.1 508.57L338.9 508.47L339.6 508.34L340.4 508.19L341.1 508.03L341.9 507.86L342.6 507.69L343.4 507.52L344.1 507.35L344.9 507.18L345.6 507L346.4 506.81L347.1 506.62L347.9 506.46L348.6 506.34L349.4 506.22L350.1 506.1L350.9 506L351.6 505.93L352.4 505.91L353.1 505.98L353.9 506.13L354.6 506.34L355.4 506.57L356.1 506.8L356.9 506.99L357.6 507.18L358.4 507.36L359.1 507.55L359.9 507.72L360.6 507.89L361.4 508.05L362.1 508.19L362.9 508.34L363.6 508.5L364.4 508.65L365.1 508.8L365.9 508.93L366.6 509.04L367.4 509.11L368.1 509.15L368.9 509.15L369.6 509.15L370.4 509.15L371.1 509.15L371.9 509.15L372.6 509.15L373.4 509.15L374.1 509.15L374.9 509.15L375.6 509.15L376.4 509.15L377.1 509.15L377.9 509.14L378.6 509.11L379.4 509.05L380.1 508.98L380.9 508.89L381.6 508.79L382.4 508.68L383.1 508.57L383.9 508.45L384.6 508.33L385.4 508.22L386.1 508.11L386.9 507.99L387.6 507.84L388.4 507.68L389.1 507.5L389.9 507.33L390.6 507.15L391.4 506.99L392.1 506.85L392.9 506.73L393.6 506.64L394.4 506.59L395.1 506.58L395.9 506.59L396.6 506.61L397.4 506.63L398.1 506.66L398.9 506.7L399.6 506.74L400.4 506.78L401.1 506.82L401.9 506.87L402.6 506.94L403.4 507.03L404.1 507.12L404.9 507.21L405.6 507.29L406.4 507.34L407.1 507.35L407.9 507.2L408.6 506.89L409.4 506.48L410.1 506.08L410.9 505.7L411.6 505.36L412.4 505.02L413.1 504.66L413.9 504.31L414.6 503.96L415.4 503.64L416.1 503.36L416.9 503.13L417.6 502.94L418.4 502.76L419.1 502.56L419.9 502.33L420.6 502.04L421.4 501.67L422.1 501L422.9 500.01L423.6 498.85L424.4 497.65L425.1 496.47L425.9 495.1L426.6 493.71L427.4 492.48L428.1 491.56L428.9 490.73L429.6 489.97L430.4 489.41L431.1 489.15L431.9 489.32L432.6 489.85L433.4 490.59L434.1 491.4L434.9 492.49L435.6 493.95L436.4 495.57L437.1 497.15L437.9 498.48L438.6 499.62L439.4 500.71L440.1 501.69L440.9 502.55L441.6 503.29L442.4 503.98L443.1 504.61L443.9 505.18L444.6 505.67L445.4 506.05L446.1 506.36L446.9 506.65L447.6 506.95L448.4 507.21L449.1 507.45L449.9 507.66L450.6 507.84L451.4 508L452.1 508.12L452.9 508.22L453.6 508.3L454.4 508.37L455.1 508.43L455.9 508.48L456.6 508.53L457.4 508.58L458.1 508.63L458.9 508.69L459.6 508.75L460.4 508.83L461.1 508.91L461.9 509.02L462.6 509.14L463.4 509.27L464.1 509.42L464.9 509.5L465.6 509.5L466.4 509.5L466.5 509.5" fill="none" stroke="#0d0d0d" stroke-width="1.15" stroke-linejoin="round"/>
<rect x="280.6" y="485.49" width="195.8" height="25.15" fill="none" stroke="#7a7a7a" stroke-width="0.7"/>
<rect x="476.4" y="485.49" width="11.8" height="25.15" fill="#d9d9d9" stroke="#808080" stroke-width="0.65"/>
<text transform="translate(478.2 498.06) rotate(90)" font-size="7.6" text-anchor="middle" font-family="Liberation Sans, Arial, sans-serif" fill="#0a0a0a" stroke="#0a0a0a" stroke-width="0.2">Annual</text>
<text transform="translate(278 511.95) rotate(0.03)" font-size="5.85" text-anchor="end" font-family="Liberation Sans, Arial, sans-serif" fill="#555">0.00</text>
<text transform="translate(278 503.05) rotate(0.03)" font-size="5.85" text-anchor="end" font-family="Liberation Sans, Arial, sans-serif" fill="#555">0.05</text>
<text transform="translate(278 494.15) rotate(0.03)" font-size="5.85" text-anchor="end" font-family="Liberation Sans, Arial, sans-serif" fill="#555">0.10</text>
<path d="M279 509.5H280.6M279 500.6H280.6M279 491.7H280.6" stroke="#4d4d4d" stroke-width="0.5" fill="none"/>
</g>
<text transform="translate(327.1 519.14) rotate(0.03)" font-size="6.4" text-anchor="middle" font-family="Liberation Sans, Arial, sans-serif" fill="#555">20</text>
<text transform="translate(378.1 519.14) rotate(0.03)" font-size="6.4" text-anchor="middle" font-family="Liberation Sans, Arial, sans-serif" fill="#555">40</text>
<text transform="translate(429.1 519.14) rotate(0.03)" font-size="6.4" text-anchor="middle" font-family="Liberation Sans, Arial, sans-serif" fill="#555">60</text>
<path d="M327.1 510.64v1.6M378.1 510.64v1.6M429.1 510.64v1.6" stroke="#4d4d4d" stroke-width="0.5" fill="none"/>
<text x="378.5" y="527.84" font-size="8.45" text-anchor="middle" font-family="Liberation Sans, Arial, sans-serif" fill="#000" stroke="#000" stroke-width="0.12">Traffic Noise, (dB)</text>
<text transform="translate(263.9 399.47) rotate(-90)" font-size="8.5" text-anchor="middle" font-family="Liberation Sans, Arial, sans-serif" fill="#000" stroke="#000" stroke-width="0.12">Density</text>
<text x="372.6" y="542.8" font-size="9.6" font-weight="bold" text-anchor="middle" font-family="Liberation Serif, Times New Roman, serif" fill="#111">(d)</text>
</g>
</svg>
</body></html>
